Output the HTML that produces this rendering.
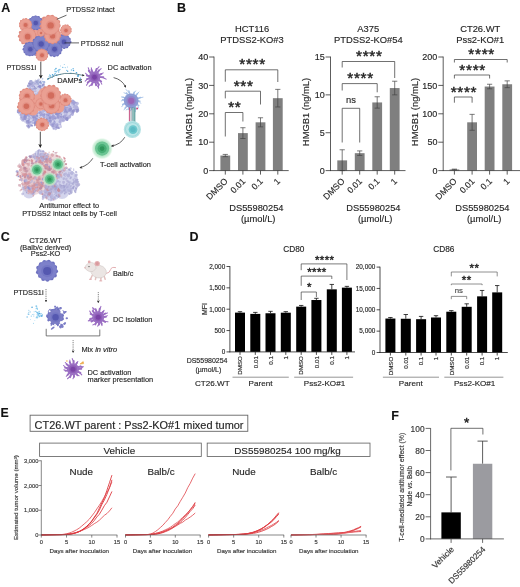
<!DOCTYPE html>
<html lang="en">
<head>
<meta charset="utf-8">
<title>Figure</title>
<style>
html,body{margin:0;padding:0;background:#fff;}
body{width:520px;height:587px;overflow:hidden;}
svg{display:block;font-family:"Liberation Sans",sans-serif;fill:#222;}
svg text{white-space:pre;stroke:#333;stroke-width:.2px;stroke-opacity:.75;}
</style>
</head>
<body>
<svg width="520" height="587" viewBox="0 0 520 587">
<rect width="520" height="587" fill="#fff"/>
<g id="panelB">
<text x="177.00" y="11.80" font-size="12.5" font-weight="bold" fill="#111">B</text>
<text x="252.00" y="32.00" font-size="9.4" text-anchor="middle">HCT116</text>
<text x="252.00" y="43.00" font-size="9.4" text-anchor="middle">PTDSS2-KO#3</text>
<rect x="220.40" y="155.55" width="9.80" height="15.05" fill="#7f7f7f"/>
<path d="M225.30 154.41V156.68M222.70 154.41H227.90M222.70 156.68H227.90" fill="none" stroke="#444" stroke-width="0.7"/>
<rect x="238.00" y="133.11" width="9.80" height="37.49" fill="#7f7f7f"/>
<path d="M242.90 127.72V138.51M240.30 127.72H245.50M240.30 138.51H245.50" fill="none" stroke="#444" stroke-width="0.7"/>
<rect x="255.60" y="122.32" width="9.80" height="48.28" fill="#7f7f7f"/>
<path d="M260.50 117.78V126.86M257.90 117.78H263.10M257.90 126.86H263.10" fill="none" stroke="#444" stroke-width="0.7"/>
<rect x="272.90" y="98.18" width="9.80" height="72.42" fill="#7f7f7f"/>
<path d="M277.80 89.38V106.98M275.20 89.38H280.40M275.20 106.98H280.40" fill="none" stroke="#444" stroke-width="0.7"/>
<line x1="214.00" y1="56.60" x2="214.00" y2="171.00" stroke="#333" stroke-width="0.8"/>
<line x1="213.60" y1="170.60" x2="288.70" y2="170.60" stroke="#333" stroke-width="0.8"/>
<line x1="209.10" y1="170.60" x2="214.00" y2="170.60" stroke="#333" stroke-width="0.8"/>
<text x="208.20" y="173.80" font-size="9.0" text-anchor="end">0</text>
<line x1="209.10" y1="142.20" x2="214.00" y2="142.20" stroke="#333" stroke-width="0.8"/>
<text x="208.20" y="145.40" font-size="9.0" text-anchor="end">10</text>
<line x1="209.10" y1="113.80" x2="214.00" y2="113.80" stroke="#333" stroke-width="0.8"/>
<text x="208.20" y="117.00" font-size="9.0" text-anchor="end">20</text>
<line x1="209.10" y1="85.40" x2="214.00" y2="85.40" stroke="#333" stroke-width="0.8"/>
<text x="208.20" y="88.60" font-size="9.0" text-anchor="end">30</text>
<line x1="209.10" y1="57.00" x2="214.00" y2="57.00" stroke="#333" stroke-width="0.8"/>
<text x="208.20" y="60.20" font-size="9.0" text-anchor="end">40</text>
<line x1="225.30" y1="170.60" x2="225.30" y2="174.60" stroke="#333" stroke-width="0.8"/>
<text x="228.30" y="181.80" font-size="8.7" text-anchor="end" transform="rotate(-45 228.30 181.80)">DMSO</text>
<line x1="242.90" y1="170.60" x2="242.90" y2="174.60" stroke="#333" stroke-width="0.8"/>
<text x="245.90" y="181.80" font-size="8.7" text-anchor="end" transform="rotate(-45 245.90 181.80)">0.01</text>
<line x1="260.50" y1="170.60" x2="260.50" y2="174.60" stroke="#333" stroke-width="0.8"/>
<text x="263.50" y="181.80" font-size="8.7" text-anchor="end" transform="rotate(-45 263.50 181.80)">0.1</text>
<line x1="277.80" y1="170.60" x2="277.80" y2="174.60" stroke="#333" stroke-width="0.8"/>
<text x="280.80" y="181.80" font-size="8.7" text-anchor="end" transform="rotate(-45 280.80 181.80)">1</text>
<text x="191.80" y="112.00" font-size="9.4" text-anchor="middle" transform="rotate(-90 191.80 112.00)">HMGB1 (ng/mL)</text>
<text x="256.40" y="210.50" font-size="9.3" text-anchor="middle">DS55980254</text>
<text x="258.20" y="222.30" font-size="9.4" text-anchor="middle">(µmol/L)</text>
<path d="M225.30 81.70V69.80H277.80V82.00" fill="none" stroke="#333" stroke-width="0.7"/>
<path d="M225.30 98.40V91.20H260.50V104.50" fill="none" stroke="#333" stroke-width="0.7"/>
<path d="M225.30 136.50V112.50H242.90V121.50" fill="none" stroke="#333" stroke-width="0.7"/>
<text x="252.55" y="69.20" font-size="15.3" text-anchor="middle" letter-spacing="0.7" style="stroke:#222;stroke-width:0.45px;stroke-opacity:1">****</text>
<text x="243.65" y="90.80" font-size="15.3" text-anchor="middle" letter-spacing="0.7" style="stroke:#222;stroke-width:0.45px;stroke-opacity:1">***</text>
<text x="234.85" y="112.20" font-size="15.3" text-anchor="middle" letter-spacing="0.7" style="stroke:#222;stroke-width:0.45px;stroke-opacity:1">**</text>
<text x="368.30" y="32.00" font-size="9.4" text-anchor="middle">A375</text>
<text x="368.30" y="43.00" font-size="9.4" text-anchor="middle">PTDSS2-KO#54</text>
<rect x="337.30" y="160.38" width="9.80" height="10.22" fill="#7f7f7f"/>
<path d="M342.20 149.77V170.60M339.60 149.77H344.80M339.60 170.60H344.80" fill="none" stroke="#444" stroke-width="0.7"/>
<rect x="354.80" y="153.18" width="9.80" height="17.42" fill="#7f7f7f"/>
<path d="M359.70 150.91V155.45M357.10 150.91H362.30M357.10 155.45H362.30" fill="none" stroke="#444" stroke-width="0.7"/>
<rect x="372.30" y="102.44" width="9.80" height="68.16" fill="#7f7f7f"/>
<path d="M377.20 96.76V108.12M374.60 96.76H379.80M374.60 108.12H379.80" fill="none" stroke="#444" stroke-width="0.7"/>
<rect x="389.80" y="88.05" width="9.80" height="82.55" fill="#7f7f7f"/>
<path d="M394.70 81.23V94.87M392.10 81.23H397.30M392.10 94.87H397.30" fill="none" stroke="#444" stroke-width="0.7"/>
<line x1="330.50" y1="56.60" x2="330.50" y2="171.00" stroke="#333" stroke-width="0.8"/>
<line x1="330.10" y1="170.60" x2="405.50" y2="170.60" stroke="#333" stroke-width="0.8"/>
<line x1="325.60" y1="170.60" x2="330.50" y2="170.60" stroke="#333" stroke-width="0.8"/>
<text x="324.70" y="173.80" font-size="9.0" text-anchor="end">0</text>
<line x1="325.60" y1="132.73" x2="330.50" y2="132.73" stroke="#333" stroke-width="0.8"/>
<text x="324.70" y="135.93" font-size="9.0" text-anchor="end">5</text>
<line x1="325.60" y1="94.87" x2="330.50" y2="94.87" stroke="#333" stroke-width="0.8"/>
<text x="324.70" y="98.07" font-size="9.0" text-anchor="end">10</text>
<line x1="325.60" y1="57.00" x2="330.50" y2="57.00" stroke="#333" stroke-width="0.8"/>
<text x="324.70" y="60.20" font-size="9.0" text-anchor="end">15</text>
<line x1="342.20" y1="170.60" x2="342.20" y2="174.60" stroke="#333" stroke-width="0.8"/>
<text x="345.20" y="181.80" font-size="8.7" text-anchor="end" transform="rotate(-45 345.20 181.80)">DMSO</text>
<line x1="359.70" y1="170.60" x2="359.70" y2="174.60" stroke="#333" stroke-width="0.8"/>
<text x="362.70" y="181.80" font-size="8.7" text-anchor="end" transform="rotate(-45 362.70 181.80)">0.01</text>
<line x1="377.20" y1="170.60" x2="377.20" y2="174.60" stroke="#333" stroke-width="0.8"/>
<text x="380.20" y="181.80" font-size="8.7" text-anchor="end" transform="rotate(-45 380.20 181.80)">0.1</text>
<line x1="394.70" y1="170.60" x2="394.70" y2="174.60" stroke="#333" stroke-width="0.8"/>
<text x="397.70" y="181.80" font-size="8.7" text-anchor="end" transform="rotate(-45 397.70 181.80)">1</text>
<text x="308.80" y="112.00" font-size="9.4" text-anchor="middle" transform="rotate(-90 308.80 112.00)">HMGB1 (ng/mL)</text>
<text x="373.40" y="210.50" font-size="9.3" text-anchor="middle">DS55980254</text>
<text x="375.20" y="222.30" font-size="9.4" text-anchor="middle">(µmol/L)</text>
<path d="M342.20 67.50V61.50H394.70V78.00" fill="none" stroke="#333" stroke-width="0.7"/>
<path d="M342.20 90.50V83.60H377.20V92.30" fill="none" stroke="#333" stroke-width="0.7"/>
<path d="M342.20 142.50V108.30H359.70V142.50" fill="none" stroke="#333" stroke-width="0.7"/>
<text x="369.35" y="60.50" font-size="15.3" text-anchor="middle" letter-spacing="0.7" style="stroke:#222;stroke-width:0.45px;stroke-opacity:1">****</text>
<text x="360.55" y="83.00" font-size="15.3" text-anchor="middle" letter-spacing="0.7" style="stroke:#222;stroke-width:0.45px;stroke-opacity:1">****</text>
<text x="351.00" y="102.70" font-size="9.4" text-anchor="middle">ns</text>
<text x="480.20" y="32.00" font-size="9.4" text-anchor="middle">CT26.WT</text>
<text x="480.20" y="43.00" font-size="9.4" text-anchor="middle">Pss2-KO#1</text>
<rect x="449.50" y="169.46" width="9.80" height="1.14" fill="#7f7f7f"/>
<path d="M454.40 169.12V169.80M451.80 169.12H457.00M451.80 169.80H457.00" fill="none" stroke="#444" stroke-width="0.7"/>
<rect x="467.20" y="122.32" width="9.80" height="48.28" fill="#7f7f7f"/>
<path d="M472.10 114.37V130.27M469.50 114.37H474.70M469.50 130.27H474.70" fill="none" stroke="#444" stroke-width="0.7"/>
<rect x="484.70" y="86.54" width="9.80" height="84.06" fill="#7f7f7f"/>
<path d="M489.60 84.26V88.81M487.00 84.26H492.20M487.00 88.81H492.20" fill="none" stroke="#444" stroke-width="0.7"/>
<rect x="502.30" y="84.26" width="9.80" height="86.34" fill="#7f7f7f"/>
<path d="M507.20 80.86V87.67M504.60 80.86H509.80M504.60 87.67H509.80" fill="none" stroke="#444" stroke-width="0.7"/>
<line x1="443.20" y1="56.60" x2="443.20" y2="171.00" stroke="#333" stroke-width="0.8"/>
<line x1="442.80" y1="170.60" x2="520.00" y2="170.60" stroke="#333" stroke-width="0.8"/>
<line x1="438.30" y1="170.60" x2="443.20" y2="170.60" stroke="#333" stroke-width="0.8"/>
<text x="437.40" y="173.80" font-size="9.0" text-anchor="end">0</text>
<line x1="438.30" y1="142.20" x2="443.20" y2="142.20" stroke="#333" stroke-width="0.8"/>
<text x="437.40" y="145.40" font-size="9.0" text-anchor="end">50</text>
<line x1="438.30" y1="113.80" x2="443.20" y2="113.80" stroke="#333" stroke-width="0.8"/>
<text x="437.40" y="117.00" font-size="9.0" text-anchor="end">100</text>
<line x1="438.30" y1="85.40" x2="443.20" y2="85.40" stroke="#333" stroke-width="0.8"/>
<text x="437.40" y="88.60" font-size="9.0" text-anchor="end">150</text>
<line x1="438.30" y1="57.00" x2="443.20" y2="57.00" stroke="#333" stroke-width="0.8"/>
<text x="437.40" y="60.20" font-size="9.0" text-anchor="end">200</text>
<line x1="454.40" y1="170.60" x2="454.40" y2="174.60" stroke="#333" stroke-width="0.8"/>
<text x="457.40" y="181.80" font-size="8.7" text-anchor="end" transform="rotate(-45 457.40 181.80)">DMSO</text>
<line x1="472.10" y1="170.60" x2="472.10" y2="174.60" stroke="#333" stroke-width="0.8"/>
<text x="475.10" y="181.80" font-size="8.7" text-anchor="end" transform="rotate(-45 475.10 181.80)">0.01</text>
<line x1="489.60" y1="170.60" x2="489.60" y2="174.60" stroke="#333" stroke-width="0.8"/>
<text x="492.60" y="181.80" font-size="8.7" text-anchor="end" transform="rotate(-45 492.60 181.80)">0.1</text>
<line x1="507.20" y1="170.60" x2="507.20" y2="174.60" stroke="#333" stroke-width="0.8"/>
<text x="510.20" y="181.80" font-size="8.7" text-anchor="end" transform="rotate(-45 510.20 181.80)">1</text>
<text x="417.90" y="112.00" font-size="9.4" text-anchor="middle" transform="rotate(-90 417.90 112.00)">HMGB1 (ng/mL)</text>
<text x="482.40" y="210.50" font-size="9.3" text-anchor="middle">DS55980254</text>
<text x="484.20" y="222.30" font-size="9.4" text-anchor="middle">(µmol/L)</text>
<path d="M454.40 62.50V59.50H507.20V62.50" fill="none" stroke="#333" stroke-width="0.7"/>
<path d="M454.40 78.50V75.00H489.60V78.50" fill="none" stroke="#333" stroke-width="0.7"/>
<path d="M454.40 102.70V97.00H472.10V102.70" fill="none" stroke="#333" stroke-width="0.7"/>
<text x="481.65" y="59.10" font-size="15.3" text-anchor="middle" letter-spacing="0.7" style="stroke:#222;stroke-width:0.45px;stroke-opacity:1">****</text>
<text x="472.65" y="75.40" font-size="15.3" text-anchor="middle" letter-spacing="0.7" style="stroke:#222;stroke-width:0.45px;stroke-opacity:1">****</text>
<text x="463.95" y="96.80" font-size="15.3" text-anchor="middle" letter-spacing="0.7" style="stroke:#222;stroke-width:0.45px;stroke-opacity:1">****</text>
</g>
<g id="panelD">
<text x="189.50" y="240.70" font-size="12.5" font-weight="bold" fill="#111">D</text>
<text x="293.80" y="252.20" font-size="8.3" text-anchor="middle">CD80</text>
<path d="M240.00 312.62V311.68M237.80 311.68H242.20" fill="none" stroke="#111" stroke-width="0.8"/>
<rect x="235.00" y="312.62" width="10.00" height="39.28" fill="#000"/>
<path d="M255.30 313.90V312.40M253.10 312.40H257.50" fill="none" stroke="#111" stroke-width="0.8"/>
<rect x="250.30" y="313.90" width="10.00" height="38.00" fill="#000"/>
<path d="M270.50 313.26V311.33M268.30 311.33H272.70" fill="none" stroke="#111" stroke-width="0.8"/>
<rect x="265.50" y="313.26" width="10.00" height="38.64" fill="#000"/>
<path d="M285.80 312.70V311.63M283.60 311.63H288.00" fill="none" stroke="#111" stroke-width="0.8"/>
<rect x="280.80" y="312.70" width="10.00" height="39.20" fill="#000"/>
<path d="M301.20 306.64V305.44M299.00 305.44H303.40" fill="none" stroke="#111" stroke-width="0.8"/>
<rect x="296.20" y="306.64" width="10.00" height="45.26" fill="#000"/>
<path d="M316.40 300.02V298.31M314.20 298.31H318.60" fill="none" stroke="#111" stroke-width="0.8"/>
<rect x="311.40" y="300.02" width="10.00" height="51.88" fill="#000"/>
<path d="M331.80 289.34V284.43M329.60 284.43H334.00" fill="none" stroke="#111" stroke-width="0.8"/>
<rect x="326.80" y="289.34" width="10.00" height="62.56" fill="#000"/>
<path d="M346.90 287.64V286.36M344.70 286.36H349.10" fill="none" stroke="#111" stroke-width="0.8"/>
<rect x="341.90" y="287.64" width="10.00" height="64.26" fill="#000"/>
<line x1="229.90" y1="266.10" x2="229.90" y2="352.30" stroke="#222" stroke-width="0.8"/>
<line x1="229.50" y1="351.90" x2="355.00" y2="351.90" stroke="#222" stroke-width="0.8"/>
<line x1="226.50" y1="351.90" x2="229.90" y2="351.90" stroke="#222" stroke-width="0.8"/>
<text x="225.20" y="354.20" font-size="6.4" text-anchor="end">0</text>
<line x1="226.50" y1="330.55" x2="229.90" y2="330.55" stroke="#222" stroke-width="0.8"/>
<text x="225.20" y="332.85" font-size="6.4" text-anchor="end">500</text>
<line x1="226.50" y1="309.20" x2="229.90" y2="309.20" stroke="#222" stroke-width="0.8"/>
<text x="225.20" y="311.50" font-size="6.4" text-anchor="end">1,000</text>
<line x1="226.50" y1="287.85" x2="229.90" y2="287.85" stroke="#222" stroke-width="0.8"/>
<text x="225.20" y="290.15" font-size="6.4" text-anchor="end">1,500</text>
<line x1="226.50" y1="266.50" x2="229.90" y2="266.50" stroke="#222" stroke-width="0.8"/>
<text x="225.20" y="268.80" font-size="6.4" text-anchor="end">2,000</text>
<line x1="240.00" y1="351.90" x2="240.00" y2="354.90" stroke="#222" stroke-width="0.8"/>
<text x="242.30" y="356.10" font-size="6.2" text-anchor="end" transform="rotate(-90 242.30 356.10)">DMSO</text>
<line x1="255.30" y1="351.90" x2="255.30" y2="354.90" stroke="#222" stroke-width="0.8"/>
<text x="257.60" y="356.10" font-size="6.2" text-anchor="end" transform="rotate(-90 257.60 356.10)">0.01</text>
<line x1="270.50" y1="351.90" x2="270.50" y2="354.90" stroke="#222" stroke-width="0.8"/>
<text x="272.80" y="356.10" font-size="6.2" text-anchor="end" transform="rotate(-90 272.80 356.10)">0.1</text>
<line x1="285.80" y1="351.90" x2="285.80" y2="354.90" stroke="#222" stroke-width="0.8"/>
<text x="288.10" y="356.10" font-size="6.2" text-anchor="end" transform="rotate(-90 288.10 356.10)">1</text>
<line x1="301.20" y1="351.90" x2="301.20" y2="354.90" stroke="#222" stroke-width="0.8"/>
<text x="303.50" y="356.10" font-size="6.2" text-anchor="end" transform="rotate(-90 303.50 356.10)">DMSO</text>
<line x1="316.40" y1="351.90" x2="316.40" y2="354.90" stroke="#222" stroke-width="0.8"/>
<text x="318.70" y="356.10" font-size="6.2" text-anchor="end" transform="rotate(-90 318.70 356.10)">0.01</text>
<line x1="331.80" y1="351.90" x2="331.80" y2="354.90" stroke="#222" stroke-width="0.8"/>
<text x="334.10" y="356.10" font-size="6.2" text-anchor="end" transform="rotate(-90 334.10 356.10)">0.1</text>
<line x1="346.90" y1="351.90" x2="346.90" y2="354.90" stroke="#222" stroke-width="0.8"/>
<text x="349.20" y="356.10" font-size="6.2" text-anchor="end" transform="rotate(-90 349.20 356.10)">1</text>
<line x1="232.50" y1="377.20" x2="288.80" y2="377.20" stroke="#8a8a8a" stroke-width="0.9"/>
<line x1="294.20" y1="377.20" x2="353.10" y2="377.20" stroke="#8a8a8a" stroke-width="0.9"/>
<text x="260.50" y="385.60" font-size="8.1" text-anchor="middle">Parent</text>
<text x="324.45" y="385.60" font-size="8.1" text-anchor="middle">Pss2-KO#1</text>
<text x="206.50" y="309.00" font-size="7.0" text-anchor="middle" transform="rotate(-90 206.50 309.00)">MFI</text>
<text x="227.50" y="363.20" font-size="7.0" text-anchor="end">DS55980254</text>
<text x="221.30" y="372.00" font-size="7.0" text-anchor="end">(µmol/L)</text>
<text x="195.00" y="385.60" font-size="8.1">CT26.WT</text>
<path d="M301.20 270.20V263.90H346.90V280.00" fill="none" stroke="#333" stroke-width="0.65"/>
<path d="M301.20 285.80V276.10H331.80V279.00" fill="none" stroke="#333" stroke-width="0.65"/>
<path d="M301.20 300.00V292.00H316.40V297.00" fill="none" stroke="#333" stroke-width="0.65"/>
<text x="324.70" y="263.63" font-size="11.5" text-anchor="middle" letter-spacing="0.4" style="stroke:#222;stroke-width:0.36px;stroke-opacity:1">****</text>
<text x="316.90" y="276.03" font-size="11.5" text-anchor="middle" letter-spacing="0.4" style="stroke:#222;stroke-width:0.36px;stroke-opacity:1">****</text>
<text x="309.40" y="291.33" font-size="11.5" text-anchor="middle" letter-spacing="0.4" style="stroke:#222;stroke-width:0.36px;stroke-opacity:1">*</text>
<text x="443.80" y="252.20" font-size="8.3" text-anchor="middle">CD86</text>
<path d="M390.40 318.55V317.49M388.20 317.49H392.60" fill="none" stroke="#111" stroke-width="0.8"/>
<rect x="385.40" y="318.55" width="10.00" height="33.95" fill="#000"/>
<path d="M405.80 318.77V314.50M403.60 314.50H408.00" fill="none" stroke="#111" stroke-width="0.8"/>
<rect x="400.80" y="318.77" width="10.00" height="33.73" fill="#000"/>
<path d="M421.10 319.19V316.42M418.90 316.42H423.30" fill="none" stroke="#111" stroke-width="0.8"/>
<rect x="416.10" y="319.19" width="10.00" height="33.31" fill="#000"/>
<path d="M436.00 317.49V315.69M433.80 315.69H438.20" fill="none" stroke="#111" stroke-width="0.8"/>
<rect x="431.00" y="317.49" width="10.00" height="35.01" fill="#000"/>
<path d="M451.30 311.72V310.61M449.10 310.61H453.50" fill="none" stroke="#111" stroke-width="0.8"/>
<rect x="446.30" y="311.72" width="10.00" height="40.78" fill="#000"/>
<path d="M466.70 306.81V303.82M464.50 303.82H468.90" fill="none" stroke="#111" stroke-width="0.8"/>
<rect x="461.70" y="306.81" width="10.00" height="45.69" fill="#000"/>
<path d="M482.10 296.35V290.46M479.90 290.46H484.30" fill="none" stroke="#111" stroke-width="0.8"/>
<rect x="477.10" y="296.35" width="10.00" height="56.15" fill="#000"/>
<path d="M497.20 292.38V285.55M495.00 285.55H499.40" fill="none" stroke="#111" stroke-width="0.8"/>
<rect x="492.20" y="292.38" width="10.00" height="60.12" fill="#000"/>
<line x1="380.00" y1="266.70" x2="380.00" y2="352.90" stroke="#222" stroke-width="0.8"/>
<line x1="379.60" y1="352.50" x2="507.80" y2="352.50" stroke="#222" stroke-width="0.8"/>
<line x1="376.60" y1="352.50" x2="380.00" y2="352.50" stroke="#222" stroke-width="0.8"/>
<text x="375.30" y="354.80" font-size="6.4" text-anchor="end">0</text>
<line x1="376.60" y1="331.15" x2="380.00" y2="331.15" stroke="#222" stroke-width="0.8"/>
<text x="375.30" y="333.45" font-size="6.4" text-anchor="end">5,000</text>
<line x1="376.60" y1="309.80" x2="380.00" y2="309.80" stroke="#222" stroke-width="0.8"/>
<text x="375.30" y="312.10" font-size="6.4" text-anchor="end">10,000</text>
<line x1="376.60" y1="288.45" x2="380.00" y2="288.45" stroke="#222" stroke-width="0.8"/>
<text x="375.30" y="290.75" font-size="6.4" text-anchor="end">15,000</text>
<line x1="376.60" y1="267.10" x2="380.00" y2="267.10" stroke="#222" stroke-width="0.8"/>
<text x="375.30" y="269.40" font-size="6.4" text-anchor="end">20,000</text>
<line x1="390.40" y1="352.50" x2="390.40" y2="355.50" stroke="#222" stroke-width="0.8"/>
<text x="392.70" y="356.70" font-size="6.2" text-anchor="end" transform="rotate(-90 392.70 356.70)">DMSO</text>
<line x1="405.80" y1="352.50" x2="405.80" y2="355.50" stroke="#222" stroke-width="0.8"/>
<text x="408.10" y="356.70" font-size="6.2" text-anchor="end" transform="rotate(-90 408.10 356.70)">0.01</text>
<line x1="421.10" y1="352.50" x2="421.10" y2="355.50" stroke="#222" stroke-width="0.8"/>
<text x="423.40" y="356.70" font-size="6.2" text-anchor="end" transform="rotate(-90 423.40 356.70)">0.1</text>
<line x1="436.00" y1="352.50" x2="436.00" y2="355.50" stroke="#222" stroke-width="0.8"/>
<text x="438.30" y="356.70" font-size="6.2" text-anchor="end" transform="rotate(-90 438.30 356.70)">1</text>
<line x1="451.30" y1="352.50" x2="451.30" y2="355.50" stroke="#222" stroke-width="0.8"/>
<text x="453.60" y="356.70" font-size="6.2" text-anchor="end" transform="rotate(-90 453.60 356.70)">DMSO</text>
<line x1="466.70" y1="352.50" x2="466.70" y2="355.50" stroke="#222" stroke-width="0.8"/>
<text x="469.00" y="356.70" font-size="6.2" text-anchor="end" transform="rotate(-90 469.00 356.70)">0.01</text>
<line x1="482.10" y1="352.50" x2="482.10" y2="355.50" stroke="#222" stroke-width="0.8"/>
<text x="484.40" y="356.70" font-size="6.2" text-anchor="end" transform="rotate(-90 484.40 356.70)">0.1</text>
<line x1="497.20" y1="352.50" x2="497.20" y2="355.50" stroke="#222" stroke-width="0.8"/>
<text x="499.50" y="356.70" font-size="6.2" text-anchor="end" transform="rotate(-90 499.50 356.70)">1</text>
<line x1="382.90" y1="377.20" x2="439.00" y2="377.20" stroke="#8a8a8a" stroke-width="0.9"/>
<line x1="444.30" y1="377.20" x2="503.40" y2="377.20" stroke="#8a8a8a" stroke-width="0.9"/>
<text x="410.80" y="385.60" font-size="8.1" text-anchor="middle">Parent</text>
<text x="474.65" y="385.60" font-size="8.1" text-anchor="middle">Pss2-KO#1</text>
<path d="M451.30 276.40V272.00H497.20V276.40" fill="none" stroke="#555" stroke-width="0.65"/>
<path d="M451.30 285.20V284.00H482.10V285.20" fill="none" stroke="#555" stroke-width="0.65"/>
<path d="M451.30 299.20V296.40H466.70V299.20" fill="none" stroke="#555" stroke-width="0.65"/>
<text x="474.50" y="272.13" font-size="11.5" text-anchor="middle" letter-spacing="0.4" style="stroke:#222;stroke-width:0.36px;stroke-opacity:1">**</text>
<text x="466.70" y="283.63" font-size="11.5" text-anchor="middle" letter-spacing="0.4" style="stroke:#222;stroke-width:0.36px;stroke-opacity:1">**</text>
<text x="458.80" y="293.10" font-size="7.8" text-anchor="middle" fill="#555">ns</text>
</g>
<g id="panelE">
<text x="0.60" y="417.00" font-size="12.3" font-weight="bold" fill="#111">E</text>
<rect x="30.10" y="415.20" width="217.70" height="16.10" fill="#fff" stroke="#666" stroke-width="0.9"/>
<text x="34.60" y="428.60" font-size="10.95">CT26.WT parent : Pss2-KO#1 mixed tumor</text>
<rect x="39.60" y="443.10" width="161.70" height="13.40" fill="#fff" stroke="#666" stroke-width="0.85"/>
<text x="119.30" y="454.20" font-size="9.9" text-anchor="middle">Vehicle</text>
<rect x="207.20" y="443.10" width="162.80" height="13.40" fill="#fff" stroke="#666" stroke-width="0.85"/>
<text x="287.50" y="454.20" font-size="9.9" text-anchor="middle">DS55980254 100 mg/kg</text>
<path d="M41.30 534.90L43.82 534.87L46.35 534.83L48.87 534.79L51.39 534.75L53.92 534.71L56.44 534.68L58.96 534.64L61.49 534.60L64.01 534.56L66.53 534.45L69.06 534.25L71.58 533.89L74.10 533.37L76.63 532.63L79.15 531.59L81.67 530.14L84.20 528.56L86.72 526.31L89.24 523.76L91.77 521.05L94.29 517.07L96.81 513.61L99.34 508.15L101.86 502.81L104.38 497.73L106.91 490.25L109.43 482.78L111.95 475.11" fill="none" stroke="#d9262c" stroke-width="0.8" stroke-linejoin="round"/>
<path d="M41.30 534.90L43.82 534.87L46.35 534.83L48.87 534.79L51.39 534.75L53.92 534.71L56.44 534.67L58.96 534.65L61.49 534.61L64.01 534.56L66.53 534.45L69.06 534.23L71.58 533.88L74.10 533.32L76.63 532.51L79.15 531.48L81.67 530.21L84.20 528.47L86.72 526.37L89.24 524.28L91.77 521.06L94.29 517.81L96.81 514.31L99.34 510.24L101.86 504.52L104.38 499.91L106.91 494.36L109.43 487.85L111.95 479.81" fill="none" stroke="#d9262c" stroke-width="0.8" stroke-linejoin="round"/>
<path d="M41.30 534.90L43.82 534.86L46.35 534.83L48.87 534.79L51.39 534.75L53.92 534.71L56.44 534.68L58.96 534.64L61.49 534.55L64.01 534.27L66.53 533.82L69.06 533.11L71.58 532.23L74.10 531.07L76.63 529.75L79.15 528.20L81.67 526.11L84.20 523.95L86.72 521.74L89.24 519.25L91.77 516.02L94.29 512.78L96.81 508.96L99.34 505.30L101.86 501.29L104.38 496.76L106.91 492.36L109.43 487.99L111.95 481.79" fill="none" stroke="#e0444a" stroke-width="0.8" stroke-linejoin="round"/>
<path d="M41.30 534.90L43.82 534.86L46.35 534.82L48.87 534.79L51.39 534.76L53.92 534.72L56.44 534.68L58.96 534.65L61.49 534.61L64.01 534.55L66.53 534.41L69.06 534.18L71.58 533.82L74.10 533.27L76.63 532.51L79.15 531.60L81.67 530.47L84.20 528.87L86.72 527.20L89.24 525.38L91.77 523.13L94.29 520.52L96.81 516.98L99.34 514.30L101.86 510.14L104.38 505.63L106.91 502.30L109.43 496.95L111.95 491.44" fill="none" stroke="#d9262c" stroke-width="0.8" stroke-linejoin="round"/>
<path d="M41.30 534.90L43.82 534.86L46.35 534.83L48.87 534.79L51.39 534.76L53.92 534.72L56.44 534.68L58.96 534.65L61.49 534.58L64.01 534.44L66.53 534.25L69.06 533.91L71.58 533.52L74.10 532.93L76.63 532.27L79.15 531.55L81.67 530.53L84.20 529.49L86.72 528.45L89.24 527.02L91.77 525.43L94.29 523.67L96.81 522.22L99.34 520.24L101.86 517.78L104.38 515.32L106.91 513.57L109.43 510.98L111.95 507.77" fill="none" stroke="#e0444a" stroke-width="0.8" stroke-linejoin="round"/>
<line x1="41.00" y1="535.00" x2="117.30" y2="535.00" stroke="#555" stroke-width="0.7"/>
<line x1="41.30" y1="535.00" x2="41.30" y2="537.60" stroke="#555" stroke-width="0.7"/>
<text x="41.30" y="543.80" font-size="5.7" text-anchor="middle" fill="#333">0</text>
<line x1="66.53" y1="535.00" x2="66.53" y2="537.60" stroke="#555" stroke-width="0.7"/>
<text x="66.53" y="543.80" font-size="5.7" text-anchor="middle" fill="#333">5</text>
<line x1="91.77" y1="535.00" x2="91.77" y2="537.60" stroke="#555" stroke-width="0.7"/>
<text x="91.77" y="543.80" font-size="5.7" text-anchor="middle" fill="#333">10</text>
<line x1="117.00" y1="535.00" x2="117.00" y2="537.60" stroke="#555" stroke-width="0.7"/>
<text x="117.00" y="543.80" font-size="5.7" text-anchor="middle" fill="#333">15</text>
<text x="81.30" y="474.60" font-size="9.8" text-anchor="middle">Nude</text>
<text x="79.30" y="553.30" font-size="6.2" text-anchor="middle" fill="#333">Days after inoculation</text>
<line x1="41.30" y1="460.40" x2="41.30" y2="535.00" stroke="#555" stroke-width="0.7"/>
<line x1="38.50" y1="535.00" x2="41.30" y2="535.00" stroke="#555" stroke-width="0.7"/>
<text x="38.30" y="537.00" font-size="5.7" text-anchor="end" fill="#333">0</text>
<line x1="38.50" y1="510.25" x2="41.30" y2="510.25" stroke="#555" stroke-width="0.7"/>
<text x="38.30" y="512.25" font-size="5.7" text-anchor="end" fill="#333">1,000</text>
<line x1="38.50" y1="485.50" x2="41.30" y2="485.50" stroke="#555" stroke-width="0.7"/>
<text x="38.30" y="487.50" font-size="5.7" text-anchor="end" fill="#333">2,000</text>
<line x1="38.50" y1="460.75" x2="41.30" y2="460.75" stroke="#555" stroke-width="0.7"/>
<text x="38.30" y="462.75" font-size="5.7" text-anchor="end" fill="#333">3,000</text>
<path d="M125.50 534.90L127.99 534.87L130.48 534.82L132.97 534.79L135.46 534.75L137.95 534.72L140.44 534.68L142.93 534.64L145.42 534.61L147.91 534.56L150.40 534.16L152.89 533.08L155.38 531.55L157.87 529.72L160.36 527.53L162.85 525.25L165.34 522.47L167.83 519.72L170.32 516.36L172.81 513.27L175.30 508.91L177.79 505.79L180.28 501.38L182.77 497.26L185.26 493.05L187.75 487.63L190.24 483.33L192.73 478.10L195.22 473.62" fill="none" stroke="#e0444a" stroke-width="0.8" stroke-linejoin="round"/>
<path d="M125.50 534.90L127.99 534.86L130.48 534.83L132.97 534.79L135.46 534.75L137.95 534.72L140.44 534.68L142.93 534.65L145.42 534.60L147.91 534.57L150.40 534.49L152.89 534.31L155.38 534.01L157.87 533.53L160.36 532.93L162.85 532.13L165.34 531.09L167.83 529.96L170.32 528.57L172.81 527.15L175.30 525.14L177.79 523.26L180.28 521.09L182.77 518.34L185.26 515.78L187.75 512.96L190.24 509.60L192.73 506.34L195.22 502.33" fill="none" stroke="#d9262c" stroke-width="0.8" stroke-linejoin="round"/>
<path d="M125.50 534.90L127.99 534.86L130.48 534.83L132.97 534.79L135.46 534.76L137.95 534.71L140.44 534.68L142.93 534.64L145.42 534.60L147.91 534.50L150.40 534.29L152.89 533.91L155.38 533.44L157.87 532.73L160.36 531.94L162.85 531.06L165.34 529.80L167.83 528.71L170.32 527.29L172.81 525.53L175.30 523.58L177.79 522.11L180.28 519.49L182.77 517.33L185.26 514.88L187.75 512.55L190.24 509.78L192.73 506.94L195.22 503.57" fill="none" stroke="#e0444a" stroke-width="0.8" stroke-linejoin="round"/>
<path d="M125.50 534.90L127.99 534.87L130.48 534.83L132.97 534.79L135.46 534.76L137.95 534.72L140.44 534.68L142.93 534.64L145.42 534.60L147.91 534.56L150.40 534.53L152.89 534.45L155.38 534.24L157.87 533.87L160.36 533.33L162.85 532.58L165.34 531.70L167.83 530.66L170.32 529.45L172.81 527.93L175.30 526.07L177.79 524.18L180.28 522.32L182.77 520.01L185.26 517.47L187.75 514.45L190.24 511.29L192.73 508.71L195.22 504.93" fill="none" stroke="#d9262c" stroke-width="0.8" stroke-linejoin="round"/>
<path d="M125.50 534.90L127.99 534.86L130.48 534.83L132.97 534.79L135.46 534.75L137.95 534.71L140.44 534.68L142.93 534.64L145.42 534.60L147.91 534.50L150.40 534.27L152.89 533.94L155.38 533.46L157.87 532.91L160.36 532.23L162.85 531.55L165.34 530.60L167.83 529.63L170.32 528.73L172.81 527.61L175.30 526.39L177.79 525.00L180.28 523.37L182.77 522.17L185.26 520.08L187.75 518.68L190.24 517.02L192.73 515.21L195.22 512.97" fill="none" stroke="#e0444a" stroke-width="0.8" stroke-linejoin="round"/>
<line x1="125.20" y1="535.00" x2="200.50" y2="535.00" stroke="#555" stroke-width="0.7"/>
<line x1="125.50" y1="535.00" x2="125.50" y2="537.60" stroke="#555" stroke-width="0.7"/>
<text x="125.50" y="543.80" font-size="5.7" text-anchor="middle" fill="#333">0</text>
<line x1="150.40" y1="535.00" x2="150.40" y2="537.60" stroke="#555" stroke-width="0.7"/>
<text x="150.40" y="543.80" font-size="5.7" text-anchor="middle" fill="#333">5</text>
<line x1="175.30" y1="535.00" x2="175.30" y2="537.60" stroke="#555" stroke-width="0.7"/>
<text x="175.30" y="543.80" font-size="5.7" text-anchor="middle" fill="#333">10</text>
<line x1="200.20" y1="535.00" x2="200.20" y2="537.60" stroke="#555" stroke-width="0.7"/>
<text x="200.20" y="543.80" font-size="5.7" text-anchor="middle" fill="#333">15</text>
<text x="161.00" y="474.60" font-size="9.8" text-anchor="middle">Balb/c</text>
<text x="162.50" y="553.30" font-size="6.2" text-anchor="middle" fill="#333">Days after inoculation</text>
<path d="M208.60 534.90L211.11 534.86L213.61 534.83L216.12 534.79L218.63 534.75L221.13 534.71L223.64 534.67L226.15 534.64L228.65 534.60L231.16 534.56L233.67 534.53L236.17 534.49L238.68 534.42L241.19 534.26L243.69 534.07L246.20 533.74L248.71 533.32L251.21 532.79L253.72 532.05L256.23 531.16L258.73 530.04L261.24 528.84L263.75 527.24L266.25 525.48L268.76 523.61L271.27 521.03L273.77 518.66L276.28 515.53L278.79 512.60" fill="none" stroke="#d9262c" stroke-width="0.8" stroke-linejoin="round"/>
<path d="M208.60 534.90L211.11 534.87L213.61 534.82L216.12 534.79L218.63 534.75L221.13 534.72L223.64 534.68L226.15 534.64L228.65 534.60L231.16 534.57L233.67 534.54L236.17 534.50L238.68 534.44L241.19 534.33L243.69 534.14L246.20 533.83L248.71 533.38L251.21 532.80L253.72 532.08L256.23 531.17L258.73 530.19L261.24 529.00L263.75 527.40L266.25 525.78L268.76 523.92L271.27 522.12L273.77 519.81L276.28 516.82L278.79 514.21" fill="none" stroke="#d9262c" stroke-width="0.8" stroke-linejoin="round"/>
<path d="M208.60 534.90L211.11 534.86L213.61 534.83L216.12 534.79L218.63 534.76L221.13 534.72L223.64 534.68L226.15 534.65L228.65 534.61L231.16 534.57L233.67 534.53L236.17 534.48L238.68 534.41L241.19 534.28L243.69 534.08L246.20 533.80L248.71 533.47L251.21 532.98L253.72 532.45L256.23 531.75L258.73 531.10L261.24 530.10L263.75 529.24L266.25 528.00L268.76 526.72L271.27 525.52L273.77 523.99L276.28 522.48L278.79 520.40" fill="none" stroke="#e0444a" stroke-width="0.8" stroke-linejoin="round"/>
<path d="M208.60 534.90L211.11 534.86L213.61 534.83L216.12 534.79L218.63 534.75L221.13 534.71L223.64 534.67L226.15 534.64L228.65 534.60L231.16 534.56L233.67 534.54L236.17 534.49L238.68 534.45L241.19 534.38L243.69 534.29L246.20 534.15L248.71 533.94L251.21 533.63L253.72 533.28L256.23 532.80L258.73 532.13L261.24 531.37L263.75 530.40L266.25 529.37L268.76 528.16L271.27 526.60L273.77 525.23L276.28 523.35L278.79 521.14" fill="none" stroke="#d9262c" stroke-width="0.8" stroke-linejoin="round"/>
<path d="M208.60 534.90L211.11 534.86L213.61 534.83L216.12 534.79L218.63 534.75L221.13 534.72L223.64 534.68L226.15 534.64L228.65 534.60L231.16 534.57L233.67 534.53L236.17 534.50L238.68 534.46L241.19 534.42L243.69 534.34L246.20 534.09L248.71 533.73L251.21 533.15L253.72 532.44L256.23 531.49L258.73 530.33L261.24 528.94L263.75 527.44L266.25 525.57L268.76 523.53L271.27 521.52L273.77 518.83L276.28 516.47L278.79 513.22" fill="none" stroke="#e0444a" stroke-width="0.8" stroke-linejoin="round"/>
<line x1="208.30" y1="535.00" x2="284.10" y2="535.00" stroke="#555" stroke-width="0.7"/>
<line x1="208.60" y1="535.00" x2="208.60" y2="537.60" stroke="#555" stroke-width="0.7"/>
<text x="208.60" y="543.80" font-size="5.7" text-anchor="middle" fill="#333">0</text>
<line x1="233.67" y1="535.00" x2="233.67" y2="537.60" stroke="#555" stroke-width="0.7"/>
<text x="233.67" y="543.80" font-size="5.7" text-anchor="middle" fill="#333">5</text>
<line x1="258.73" y1="535.00" x2="258.73" y2="537.60" stroke="#555" stroke-width="0.7"/>
<text x="258.73" y="543.80" font-size="5.7" text-anchor="middle" fill="#333">10</text>
<line x1="283.80" y1="535.00" x2="283.80" y2="537.60" stroke="#555" stroke-width="0.7"/>
<text x="283.80" y="543.80" font-size="5.7" text-anchor="middle" fill="#333">15</text>
<text x="244.00" y="474.60" font-size="9.8" text-anchor="middle">Nude</text>
<text x="246.70" y="553.30" font-size="6.2" text-anchor="middle" fill="#333">Days after inoculation</text>
<path d="M291.00 534.90L293.50 534.86L296.01 534.82L298.51 534.79L301.01 534.75L303.52 534.71L306.02 534.68L308.52 534.64L311.03 534.61L313.53 534.56L316.03 534.53L318.54 534.48L321.04 534.45L323.54 534.41L326.05 534.39L328.55 534.33L331.05 534.25L333.56 534.07L336.06 533.84L338.56 533.53L341.07 533.19L343.57 532.68L346.07 532.14L348.58 531.38L351.08 530.73L353.58 529.82L356.09 528.62L358.59 527.67L361.09 526.34" fill="none" stroke="#d9262c" stroke-width="0.8" stroke-linejoin="round"/>
<path d="M291.00 534.90L293.50 534.86L296.01 534.83L298.51 534.79L301.01 534.76L303.52 534.71L306.02 534.68L308.52 534.64L311.03 534.60L313.53 534.56L316.03 534.53L318.54 534.49L321.04 534.46L323.54 534.42L326.05 534.38L328.55 534.34L331.05 534.31L333.56 534.21L336.06 534.08L338.56 533.89L341.07 533.55L343.57 533.17L346.07 532.70L348.58 532.08L351.08 531.25L353.58 530.50L356.09 529.37L358.59 528.26L361.09 526.83" fill="none" stroke="#d9262c" stroke-width="0.8" stroke-linejoin="round"/>
<path d="M291.00 534.90L293.50 534.87L296.01 534.83L298.51 534.79L301.01 534.75L303.52 534.71L306.02 534.67L308.52 534.64L311.03 534.61L313.53 534.56L316.03 534.54L318.54 534.40L321.04 534.24L323.54 534.07L326.05 533.90L328.55 533.73L331.05 533.50L333.56 533.34L336.06 533.13L338.56 532.93L341.07 532.72L343.57 532.46L346.07 532.25L348.58 532.00L351.08 531.88L353.58 531.60L356.09 531.35L358.59 531.10L361.09 530.92" fill="none" stroke="#e0444a" stroke-width="0.8" stroke-linejoin="round"/>
<path d="M291.00 534.90L293.50 534.86L296.01 534.83L298.51 534.79L301.01 534.75L303.52 534.71L306.02 534.67L308.52 534.64L311.03 534.60L313.53 534.45L316.03 534.29L318.54 534.13L321.04 534.00L323.54 533.84L326.05 533.68L328.55 533.51L331.05 533.39L333.56 533.23L336.06 533.07L338.56 532.94L341.07 532.79L343.57 532.60L346.07 532.49L348.58 532.32L351.08 532.19L353.58 532.01L356.09 531.87L358.59 531.67L361.09 531.53" fill="none" stroke="#e0444a" stroke-width="0.8" stroke-linejoin="round"/>
<path d="M291.00 534.90L293.50 534.87L296.01 534.83L298.51 534.79L301.01 534.75L303.52 534.71L306.02 534.68L308.52 534.63L311.03 534.61L313.53 534.56L316.03 534.54L318.54 534.49L321.04 534.45L323.54 534.42L326.05 534.38L328.55 534.34L331.05 534.31L333.56 534.23L336.06 534.10L338.56 533.91L341.07 533.69L343.57 533.37L346.07 533.07L348.58 532.67L351.08 532.32L353.58 531.80L356.09 531.31L358.59 530.80L361.09 530.30" fill="none" stroke="#e86a6e" stroke-width="0.8" stroke-linejoin="round"/>
<line x1="290.70" y1="535.00" x2="366.40" y2="535.00" stroke="#555" stroke-width="0.7"/>
<line x1="291.00" y1="535.00" x2="291.00" y2="537.60" stroke="#555" stroke-width="0.7"/>
<text x="291.00" y="543.80" font-size="5.7" text-anchor="middle" fill="#333">0</text>
<line x1="316.03" y1="535.00" x2="316.03" y2="537.60" stroke="#555" stroke-width="0.7"/>
<text x="316.03" y="543.80" font-size="5.7" text-anchor="middle" fill="#333">5</text>
<line x1="341.07" y1="535.00" x2="341.07" y2="537.60" stroke="#555" stroke-width="0.7"/>
<text x="341.07" y="543.80" font-size="5.7" text-anchor="middle" fill="#333">10</text>
<line x1="366.10" y1="535.00" x2="366.10" y2="537.60" stroke="#555" stroke-width="0.7"/>
<text x="366.10" y="543.80" font-size="5.7" text-anchor="middle" fill="#333">15</text>
<text x="323.60" y="474.60" font-size="9.8" text-anchor="middle">Balb/c</text>
<text x="328.80" y="553.30" font-size="6.2" text-anchor="middle" fill="#333">Days after inoculation</text>
<text x="17.90" y="497.60" font-size="6.2" text-anchor="middle" transform="rotate(-90 17.90 497.60)" fill="#333">Estimated tumor volume (mm³)</text>
</g>
<g id="panelF">
<text x="391.20" y="420.20" font-size="12.5" font-weight="bold" fill="#111">F</text>
<path d="M451.1 512.38V477.02M446 477.02H456.7" fill="none" stroke="#333" stroke-width="0.8"/>
<rect x="441.40" y="512.38" width="19.40" height="26.52" fill="#000"/>
<path d="M482.6 463.76V441.11M477.5 441.11H487.7" fill="none" stroke="#333" stroke-width="0.8"/>
<rect x="472.90" y="463.76" width="19.40" height="75.14" fill="#9b9ba0"/>
<line x1="430.60" y1="428.10" x2="430.60" y2="539.30" stroke="#444" stroke-width="0.8"/>
<line x1="430.20" y1="538.90" x2="503.90" y2="538.90" stroke="#444" stroke-width="0.8"/>
<line x1="425.60" y1="538.90" x2="430.60" y2="538.90" stroke="#444" stroke-width="0.8"/>
<text x="424.60" y="542.30" font-size="8.4" text-anchor="end" fill="#333">0</text>
<line x1="425.60" y1="516.80" x2="430.60" y2="516.80" stroke="#444" stroke-width="0.8"/>
<text x="424.60" y="520.20" font-size="8.4" text-anchor="end" fill="#333">20</text>
<line x1="425.60" y1="494.70" x2="430.60" y2="494.70" stroke="#444" stroke-width="0.8"/>
<text x="424.60" y="498.10" font-size="8.4" text-anchor="end" fill="#333">40</text>
<line x1="425.60" y1="472.60" x2="430.60" y2="472.60" stroke="#444" stroke-width="0.8"/>
<text x="424.60" y="476.00" font-size="8.4" text-anchor="end" fill="#333">60</text>
<line x1="425.60" y1="450.50" x2="430.60" y2="450.50" stroke="#444" stroke-width="0.8"/>
<text x="424.60" y="453.90" font-size="8.4" text-anchor="end" fill="#333">80</text>
<line x1="425.60" y1="428.40" x2="430.60" y2="428.40" stroke="#444" stroke-width="0.8"/>
<text x="424.60" y="431.80" font-size="8.4" text-anchor="end" fill="#333">100</text>
<line x1="451.10" y1="538.90" x2="451.10" y2="542.90" stroke="#444" stroke-width="0.8"/>
<line x1="482.60" y1="538.90" x2="482.60" y2="542.90" stroke="#444" stroke-width="0.8"/>
<text x="454.50" y="549.90" font-size="8.4" text-anchor="end" transform="rotate(-45 454.50 549.90)" fill="#333">Vehicle</text>
<text x="486.00" y="549.90" font-size="8.3" text-anchor="end" transform="rotate(-45 486.00 549.90)" fill="#333">DS55980254</text>
<path d="M450.90 470.40V428.30H482.90V434.50" fill="none" stroke="#333" stroke-width="0.7"/>
<text x="467.05" y="427.22" font-size="13.5" text-anchor="middle" letter-spacing="0.7" style="stroke:#222;stroke-width:0.45px;stroke-opacity:1">*</text>
<text x="403.70" y="487.30" font-size="6.9" text-anchor="middle" transform="rotate(-90 403.70 487.30)" fill="#3a3a3a">T-cell-mediated antitumor effect (%)</text>
<text x="412.50" y="486.20" font-size="6.5" text-anchor="middle" transform="rotate(-90 412.50 486.20)" fill="#3a3a3a">Nude vs. Balb</text>
</g>
<defs><filter id="soft" x="-5%" y="-5%" width="110%" height="110%"><feGaussianBlur stdDeviation="0.35"/></filter><radialGradient id="glow"><stop offset="0.55" stop-color="#9bdcb2" stop-opacity="1"/><stop offset="0.85" stop-color="#c4ecd2" stop-opacity="0.7"/><stop offset="1" stop-color="#d8f3e0" stop-opacity="0"/></radialGradient><marker id="ah" viewBox="0 0 10 10" refX="7" refY="5" markerWidth="5" markerHeight="5" orient="auto-start-reverse"><path d="M0 0L10 5L0 10L2.5 5z" fill="#222"/></marker><marker id="ah2" viewBox="0 0 10 10" refX="7" refY="5" markerWidth="4.2" markerHeight="4.2" orient="auto-start-reverse"><path d="M0 0L10 5L0 10L2.5 5z" fill="#333"/></marker></defs>
<g id="panelA">
<text x="1.20" y="11.80" font-size="12.5" font-weight="bold" fill="#111">A</text>
<g filter="url(#soft)">
<circle cx="39.50" cy="32.50" r="8.50" fill="#ea9f92"/>
<circle cx="33.00" cy="42.00" r="6.50" fill="#ea9f92"/>
<circle cx="47.50" cy="42.50" r="8.50" fill="#7f83ca"/>
<circle cx="36.50" cy="50.00" r="6.00" fill="#7f83ca"/>
<circle cx="58.50" cy="40.00" r="7.00" fill="#ea9f92"/>
<circle cx="45.00" cy="24.00" r="7.00" fill="#ea9f92"/>
<circle cx="31.00" cy="29.00" r="6.00" fill="#ea9f92"/>
<circle cx="39.86" cy="27.59" r="1.24" fill="#6c70bd"/>
<circle cx="37.14" cy="28.98" r="1.24" fill="#6c70bd"/>
<circle cx="34.15" cy="28.75" r="1.24" fill="#6c70bd"/>
<circle cx="31.47" cy="27.48" r="1.24" fill="#6c70bd"/>
<circle cx="29.79" cy="25.02" r="1.24" fill="#6c70bd"/>
<circle cx="29.33" cy="22.05" r="1.24" fill="#6c70bd"/>
<circle cx="30.34" cy="19.18" r="1.24" fill="#6c70bd"/>
<circle cx="32.78" cy="17.45" r="1.24" fill="#6c70bd"/>
<circle cx="35.59" cy="16.78" r="1.24" fill="#6c70bd"/>
<circle cx="38.57" cy="17.12" r="1.24" fill="#6c70bd"/>
<circle cx="40.71" cy="19.26" r="1.24" fill="#6c70bd"/>
<circle cx="41.92" cy="22.02" r="1.24" fill="#6c70bd"/>
<circle cx="41.22" cy="24.92" r="1.24" fill="#6c70bd"/>
<circle cx="35.60" cy="22.80" r="6.69" fill="#7f83ca" stroke="#6c70bd" stroke-width="0.5"/>
<circle cx="35.74" cy="23.08" r="3.42" fill="#6c70bd" opacity="0.6"/>
<circle cx="35.74" cy="23.08" r="2.28" fill="#5356ae"/>
<circle cx="26.35" cy="30.55" r="1.12" fill="#df8b7e"/>
<circle cx="23.70" cy="29.94" r="1.12" fill="#df8b7e"/>
<circle cx="21.33" cy="28.69" r="1.12" fill="#df8b7e"/>
<circle cx="20.26" cy="26.24" r="1.12" fill="#df8b7e"/>
<circle cx="20.13" cy="23.62" r="1.12" fill="#df8b7e"/>
<circle cx="21.04" cy="21.05" r="1.12" fill="#df8b7e"/>
<circle cx="23.42" cy="19.72" r="1.12" fill="#df8b7e"/>
<circle cx="26.04" cy="19.15" r="1.12" fill="#df8b7e"/>
<circle cx="28.56" cy="20.12" r="1.12" fill="#df8b7e"/>
<circle cx="30.38" cy="22.07" r="1.12" fill="#df8b7e"/>
<circle cx="31.11" cy="24.65" r="1.12" fill="#df8b7e"/>
<circle cx="30.42" cy="27.22" r="1.12" fill="#df8b7e"/>
<circle cx="28.89" cy="29.45" r="1.12" fill="#df8b7e"/>
<circle cx="25.50" cy="24.80" r="6.01" fill="#ea9f92" stroke="#df8b7e" stroke-width="0.5"/>
<circle cx="25.62" cy="25.05" r="3.07" fill="#df8b7e" opacity="0.6"/>
<circle cx="25.62" cy="25.05" r="2.05" fill="#d26c5c"/>
<circle cx="34.81" cy="34.65" r="1.55" fill="#df8b7e"/>
<circle cx="35.15" cy="38.35" r="1.55" fill="#df8b7e"/>
<circle cx="33.07" cy="41.44" r="1.55" fill="#df8b7e"/>
<circle cx="30.21" cy="43.91" r="1.55" fill="#df8b7e"/>
<circle cx="26.45" cy="43.72" r="1.55" fill="#df8b7e"/>
<circle cx="22.82" cy="42.80" r="1.55" fill="#df8b7e"/>
<circle cx="20.44" cy="39.83" r="1.55" fill="#df8b7e"/>
<circle cx="19.50" cy="36.14" r="1.55" fill="#df8b7e"/>
<circle cx="20.42" cy="32.40" r="1.55" fill="#df8b7e"/>
<circle cx="23.30" cy="29.94" r="1.55" fill="#df8b7e"/>
<circle cx="26.73" cy="28.65" r="1.55" fill="#df8b7e"/>
<circle cx="30.45" cy="28.96" r="1.55" fill="#df8b7e"/>
<circle cx="33.33" cy="31.34" r="1.55" fill="#df8b7e"/>
<circle cx="27.50" cy="36.30" r="8.34" fill="#ea9f92" stroke="#df8b7e" stroke-width="0.5"/>
<circle cx="27.67" cy="36.64" r="4.26" fill="#df8b7e" opacity="0.6"/>
<circle cx="27.67" cy="36.64" r="2.84" fill="#d26c5c"/>
<circle cx="36.06" cy="47.41" r="1.24" fill="#6c70bd"/>
<circle cx="36.07" cy="50.30" r="1.24" fill="#6c70bd"/>
<circle cx="35.16" cy="53.18" r="1.24" fill="#6c70bd"/>
<circle cx="32.50" cy="54.64" r="1.24" fill="#6c70bd"/>
<circle cx="29.61" cy="55.03" r="1.24" fill="#6c70bd"/>
<circle cx="26.74" cy="54.28" r="1.24" fill="#6c70bd"/>
<circle cx="24.81" cy="52.00" r="1.24" fill="#6c70bd"/>
<circle cx="23.77" cy="49.15" r="1.24" fill="#6c70bd"/>
<circle cx="24.72" cy="46.29" r="1.24" fill="#6c70bd"/>
<circle cx="26.40" cy="43.77" r="1.24" fill="#6c70bd"/>
<circle cx="29.31" cy="42.91" r="1.24" fill="#6c70bd"/>
<circle cx="32.29" cy="43.06" r="1.24" fill="#6c70bd"/>
<circle cx="34.93" cy="44.61" r="1.24" fill="#6c70bd"/>
<circle cx="30.20" cy="49.00" r="6.69" fill="#7f83ca" stroke="#6c70bd" stroke-width="0.5"/>
<circle cx="30.34" cy="49.28" r="3.42" fill="#6c70bd" opacity="0.6"/>
<circle cx="30.34" cy="49.28" r="2.28" fill="#5356ae"/>
<circle cx="57.91" cy="39.77" r="1.24" fill="#6c70bd"/>
<circle cx="59.26" cy="37.07" r="1.24" fill="#6c70bd"/>
<circle cx="61.96" cy="35.74" r="1.24" fill="#6c70bd"/>
<circle cx="64.92" cy="35.45" r="1.24" fill="#6c70bd"/>
<circle cx="67.60" cy="36.74" r="1.24" fill="#6c70bd"/>
<circle cx="69.45" cy="39.05" r="1.24" fill="#6c70bd"/>
<circle cx="70.26" cy="41.98" r="1.24" fill="#6c70bd"/>
<circle cx="68.98" cy="44.72" r="1.24" fill="#6c70bd"/>
<circle cx="67.02" cy="46.92" r="1.24" fill="#6c70bd"/>
<circle cx="64.18" cy="47.70" r="1.24" fill="#6c70bd"/>
<circle cx="61.28" cy="47.23" r="1.24" fill="#6c70bd"/>
<circle cx="58.70" cy="45.61" r="1.24" fill="#6c70bd"/>
<circle cx="57.74" cy="42.72" r="1.24" fill="#6c70bd"/>
<circle cx="63.80" cy="41.60" r="6.69" fill="#7f83ca" stroke="#6c70bd" stroke-width="0.5"/>
<circle cx="63.94" cy="41.88" r="3.42" fill="#6c70bd" opacity="0.6"/>
<circle cx="63.94" cy="41.88" r="2.28" fill="#5356ae"/>
<circle cx="51.06" cy="55.20" r="1.35" fill="#6c70bd"/>
<circle cx="48.58" cy="52.93" r="1.35" fill="#6c70bd"/>
<circle cx="47.44" cy="49.77" r="1.35" fill="#6c70bd"/>
<circle cx="47.94" cy="46.47" r="1.35" fill="#6c70bd"/>
<circle cx="49.82" cy="43.73" r="1.35" fill="#6c70bd"/>
<circle cx="52.90" cy="42.65" r="1.35" fill="#6c70bd"/>
<circle cx="56.11" cy="42.36" r="1.35" fill="#6c70bd"/>
<circle cx="58.86" cy="44.06" r="1.35" fill="#6c70bd"/>
<circle cx="60.88" cy="46.62" r="1.35" fill="#6c70bd"/>
<circle cx="61.09" cy="49.88" r="1.35" fill="#6c70bd"/>
<circle cx="59.97" cy="52.93" r="1.35" fill="#6c70bd"/>
<circle cx="57.50" cy="55.06" r="1.35" fill="#6c70bd"/>
<circle cx="54.33" cy="55.83" r="1.35" fill="#6c70bd"/>
<circle cx="54.40" cy="49.00" r="7.27" fill="#7f83ca" stroke="#6c70bd" stroke-width="0.5"/>
<circle cx="54.55" cy="49.30" r="3.71" fill="#6c70bd" opacity="0.6"/>
<circle cx="54.55" cy="49.30" r="2.48" fill="#5356ae"/>
<circle cx="70.72" cy="31.39" r="0.97" fill="#df8b7e"/>
<circle cx="69.46" cy="33.35" r="0.97" fill="#df8b7e"/>
<circle cx="67.63" cy="34.76" r="0.97" fill="#df8b7e"/>
<circle cx="65.30" cy="35.12" r="0.97" fill="#df8b7e"/>
<circle cx="63.06" cy="34.31" r="0.97" fill="#df8b7e"/>
<circle cx="61.59" cy="32.46" r="0.97" fill="#df8b7e"/>
<circle cx="61.01" cy="30.20" r="0.97" fill="#df8b7e"/>
<circle cx="61.73" cy="28.01" r="0.97" fill="#df8b7e"/>
<circle cx="63.14" cy="26.20" r="0.97" fill="#df8b7e"/>
<circle cx="65.32" cy="25.40" r="0.97" fill="#df8b7e"/>
<circle cx="67.68" cy="25.51" r="0.97" fill="#df8b7e"/>
<circle cx="69.57" cy="26.95" r="0.97" fill="#df8b7e"/>
<circle cx="70.74" cy="29.01" r="0.97" fill="#df8b7e"/>
<circle cx="65.90" cy="30.20" r="5.24" fill="#ea9f92" stroke="#df8b7e" stroke-width="0.5"/>
<circle cx="66.01" cy="30.42" r="2.67" fill="#df8b7e" opacity="0.6"/>
<circle cx="66.01" cy="30.42" r="1.78" fill="#d26c5c"/>
<circle cx="33.71" cy="43.82" r="1.48" fill="#6c70bd"/>
<circle cx="34.30" cy="40.33" r="1.48" fill="#6c70bd"/>
<circle cx="36.77" cy="37.79" r="1.48" fill="#6c70bd"/>
<circle cx="39.98" cy="36.36" r="1.48" fill="#6c70bd"/>
<circle cx="43.60" cy="36.46" r="1.48" fill="#6c70bd"/>
<circle cx="46.29" cy="38.85" r="1.48" fill="#6c70bd"/>
<circle cx="48.07" cy="41.83" r="1.48" fill="#6c70bd"/>
<circle cx="48.33" cy="45.38" r="1.48" fill="#6c70bd"/>
<circle cx="46.46" cy="48.37" r="1.48" fill="#6c70bd"/>
<circle cx="43.68" cy="50.41" r="1.48" fill="#6c70bd"/>
<circle cx="40.21" cy="51.27" r="1.48" fill="#6c70bd"/>
<circle cx="36.74" cy="50.11" r="1.48" fill="#6c70bd"/>
<circle cx="34.58" cy="47.21" r="1.48" fill="#6c70bd"/>
<circle cx="41.00" cy="43.70" r="7.95" fill="#7f83ca" stroke="#6c70bd" stroke-width="0.5"/>
<circle cx="41.16" cy="44.03" r="4.06" fill="#6c70bd" opacity="0.6"/>
<circle cx="41.16" cy="44.03" r="2.71" fill="#5356ae"/>
<circle cx="43.99" cy="33.72" r="0.61" fill="#df8b7e"/>
<circle cx="43.17" cy="34.92" r="0.61" fill="#df8b7e"/>
<circle cx="42.02" cy="35.81" r="0.61" fill="#df8b7e"/>
<circle cx="40.53" cy="36.06" r="0.61" fill="#df8b7e"/>
<circle cx="39.22" cy="35.35" r="0.61" fill="#df8b7e"/>
<circle cx="38.14" cy="34.31" r="0.61" fill="#df8b7e"/>
<circle cx="37.89" cy="32.82" r="0.61" fill="#df8b7e"/>
<circle cx="38.23" cy="31.36" r="0.61" fill="#df8b7e"/>
<circle cx="39.38" cy="30.42" r="0.61" fill="#df8b7e"/>
<circle cx="40.70" cy="29.78" r="0.61" fill="#df8b7e"/>
<circle cx="42.17" cy="30.05" r="0.61" fill="#df8b7e"/>
<circle cx="43.37" cy="30.90" r="0.61" fill="#df8b7e"/>
<circle cx="43.98" cy="32.25" r="0.61" fill="#df8b7e"/>
<circle cx="41.00" cy="32.90" r="3.30" fill="#ea9f92" stroke="#df8b7e" stroke-width="0.5"/>
<circle cx="41.07" cy="33.04" r="1.68" fill="#df8b7e" opacity="0.6"/>
<circle cx="41.07" cy="33.04" r="1.12" fill="#d26c5c"/>
<circle cx="45.17" cy="36.70" r="1.44" fill="#df8b7e"/>
<circle cx="45.61" cy="33.26" r="1.44" fill="#df8b7e"/>
<circle cx="47.27" cy="30.16" r="1.44" fill="#df8b7e"/>
<circle cx="50.53" cy="28.89" r="1.44" fill="#df8b7e"/>
<circle cx="53.97" cy="28.25" r="1.44" fill="#df8b7e"/>
<circle cx="57.11" cy="29.95" r="1.44" fill="#df8b7e"/>
<circle cx="59.25" cy="32.76" r="1.44" fill="#df8b7e"/>
<circle cx="59.78" cy="36.27" r="1.44" fill="#df8b7e"/>
<circle cx="58.34" cy="39.44" r="1.44" fill="#df8b7e"/>
<circle cx="56.05" cy="42.06" r="1.44" fill="#df8b7e"/>
<circle cx="52.62" cy="42.92" r="1.44" fill="#df8b7e"/>
<circle cx="49.32" cy="41.93" r="1.44" fill="#df8b7e"/>
<circle cx="46.41" cy="40.01" r="1.44" fill="#df8b7e"/>
<circle cx="52.40" cy="35.60" r="7.76" fill="#ea9f92" stroke="#df8b7e" stroke-width="0.5"/>
<circle cx="52.56" cy="35.92" r="3.96" fill="#df8b7e" opacity="0.6"/>
<circle cx="52.56" cy="35.92" r="2.64" fill="#d26c5c"/>
<circle cx="46.41" cy="33.01" r="1.76" fill="#df8b7e"/>
<circle cx="43.48" cy="29.99" r="1.76" fill="#df8b7e"/>
<circle cx="41.29" cy="26.30" r="1.76" fill="#df8b7e"/>
<circle cx="41.84" cy="21.96" r="1.76" fill="#df8b7e"/>
<circle cx="44.15" cy="18.23" r="1.76" fill="#df8b7e"/>
<circle cx="48.14" cy="16.59" r="1.76" fill="#df8b7e"/>
<circle cx="52.30" cy="16.55" r="1.76" fill="#df8b7e"/>
<circle cx="55.94" cy="18.47" r="1.76" fill="#df8b7e"/>
<circle cx="58.43" cy="21.76" r="1.76" fill="#df8b7e"/>
<circle cx="58.90" cy="25.85" r="1.76" fill="#df8b7e"/>
<circle cx="57.91" cy="29.96" r="1.76" fill="#df8b7e"/>
<circle cx="54.64" cy="32.68" r="1.76" fill="#df8b7e"/>
<circle cx="50.59" cy="34.08" r="1.76" fill="#df8b7e"/>
<circle cx="50.40" cy="25.00" r="9.51" fill="#ea9f92" stroke="#df8b7e" stroke-width="0.5"/>
<circle cx="50.60" cy="25.39" r="4.85" fill="#df8b7e" opacity="0.6"/>
<circle cx="50.60" cy="25.39" r="3.23" fill="#d26c5c"/>
<circle cx="43.96" cy="50.26" r="1.08" fill="#df8b7e"/>
<circle cx="46.24" cy="51.55" r="1.08" fill="#df8b7e"/>
<circle cx="47.31" cy="53.99" r="1.08" fill="#df8b7e"/>
<circle cx="47.02" cy="56.58" r="1.08" fill="#df8b7e"/>
<circle cx="45.80" cy="58.84" r="1.08" fill="#df8b7e"/>
<circle cx="43.56" cy="60.06" r="1.08" fill="#df8b7e"/>
<circle cx="41.05" cy="60.31" r="1.08" fill="#df8b7e"/>
<circle cx="38.60" cy="59.49" r="1.08" fill="#df8b7e"/>
<circle cx="36.89" cy="57.48" r="1.08" fill="#df8b7e"/>
<circle cx="36.60" cy="54.89" r="1.08" fill="#df8b7e"/>
<circle cx="37.13" cy="52.34" r="1.08" fill="#df8b7e"/>
<circle cx="39.02" cy="50.55" r="1.08" fill="#df8b7e"/>
<circle cx="41.46" cy="49.67" r="1.08" fill="#df8b7e"/>
<circle cx="41.90" cy="55.10" r="5.82" fill="#ea9f92" stroke="#df8b7e" stroke-width="0.5"/>
<circle cx="42.02" cy="55.34" r="2.97" fill="#df8b7e" opacity="0.6"/>
<circle cx="42.02" cy="55.34" r="1.98" fill="#d26c5c"/>
<circle cx="36.20" cy="87.80" r="7.00" fill="#aeb0dc" opacity="0.55"/>
<circle cx="41.00" cy="114.00" r="9.00" fill="#aeb0dc" opacity="0.55"/>
<circle cx="30.00" cy="117.50" r="7.50" fill="#aeb0dc" opacity="0.55"/>
<circle cx="54.40" cy="118.50" r="8.50" fill="#aeb0dc" opacity="0.55"/>
<circle cx="64.50" cy="112.00" r="8.00" fill="#aeb0dc" opacity="0.55"/>
<circle cx="72.00" cy="107.00" r="5.00" fill="#aeb0dc" opacity="0.55"/>
<circle cx="22.50" cy="113.00" r="4.00" fill="#aeb0dc" opacity="0.55"/>
<ellipse cx="30.1" cy="89.7" rx="1.9" ry="1.4" fill="#9392cd" opacity="0.89" transform="rotate(48 30.1 89.7)"/>
<ellipse cx="38.6" cy="93.4" rx="1.5" ry="0.9" fill="#b3b2dd" opacity="0.67" transform="rotate(23 38.6 93.4)"/>
<ellipse cx="28.4" cy="85.9" rx="1.5" ry="1.5" fill="#9ea3d2" opacity="0.94" transform="rotate(167 28.4 85.9)"/>
<ellipse cx="35.7" cy="81.0" rx="1.5" ry="0.9" fill="#9ea3d2" opacity="0.56" transform="rotate(61 35.7 81.0)"/>
<ellipse cx="30.1" cy="83.4" rx="1.1" ry="1.0" fill="#9ea3d2" opacity="0.76" transform="rotate(163 30.1 83.4)"/>
<ellipse cx="36.0" cy="88.4" rx="0.8" ry="0.5" fill="#9ea3d2" opacity="0.95" transform="rotate(21 36.0 88.4)"/>
<ellipse cx="34.9" cy="83.2" rx="1.0" ry="0.6" fill="#9392cd" opacity="0.78" transform="rotate(27 34.9 83.2)"/>
<ellipse cx="29.9" cy="92.4" rx="1.2" ry="1.1" fill="#b3b2dd" opacity="0.55" transform="rotate(53 29.9 92.4)"/>
<ellipse cx="37.9" cy="86.9" rx="1.2" ry="0.9" fill="#9ea3d2" opacity="0.58" transform="rotate(161 37.9 86.9)"/>
<ellipse cx="38.4" cy="94.4" rx="1.1" ry="0.8" fill="#9392cd" opacity="0.94" transform="rotate(30 38.4 94.4)"/>
<ellipse cx="40.9" cy="93.1" rx="0.7" ry="0.6" fill="#9392cd" opacity="0.62" transform="rotate(143 40.9 93.1)"/>
<ellipse cx="38.5" cy="93.4" rx="2.0" ry="1.5" fill="#b3b2dd" opacity="0.70" transform="rotate(101 38.5 93.4)"/>
<ellipse cx="32.8" cy="89.7" rx="1.1" ry="0.7" fill="#9ea3d2" opacity="0.90" transform="rotate(53 32.8 89.7)"/>
<ellipse cx="39.5" cy="95.6" rx="1.5" ry="0.9" fill="#9ea3d2" opacity="0.95" transform="rotate(54 39.5 95.6)"/>
<ellipse cx="35.4" cy="88.1" rx="1.5" ry="1.1" fill="#9392cd" opacity="0.58" transform="rotate(53 35.4 88.1)"/>
<ellipse cx="32.6" cy="85.7" rx="1.5" ry="1.2" fill="#9392cd" opacity="0.60" transform="rotate(150 32.6 85.7)"/>
<ellipse cx="29.8" cy="88.5" rx="1.8" ry="1.5" fill="#b3b2dd" opacity="0.67" transform="rotate(58 29.8 88.5)"/>
<ellipse cx="38.0" cy="83.9" rx="0.9" ry="0.8" fill="#9ea3d2" opacity="0.77" transform="rotate(175 38.0 83.9)"/>
<ellipse cx="43.8" cy="85.3" rx="1.5" ry="0.8" fill="#9392cd" opacity="0.59" transform="rotate(131 43.8 85.3)"/>
<ellipse cx="40.2" cy="86.8" rx="1.6" ry="1.2" fill="#9392cd" opacity="0.91" transform="rotate(125 40.2 86.8)"/>
<ellipse cx="35.2" cy="91.2" rx="1.6" ry="1.0" fill="#b3b2dd" opacity="0.74" transform="rotate(167 35.2 91.2)"/>
<ellipse cx="40.2" cy="82.5" rx="1.1" ry="0.9" fill="#b3b2dd" opacity="0.58" transform="rotate(105 40.2 82.5)"/>
<ellipse cx="34.2" cy="88.5" rx="0.9" ry="0.7" fill="#9392cd" opacity="0.94" transform="rotate(23 34.2 88.5)"/>
<ellipse cx="31.0" cy="93.9" rx="2.0" ry="1.7" fill="#9ea3d2" opacity="0.76" transform="rotate(35 31.0 93.9)"/>
<ellipse cx="29.3" cy="83.4" rx="1.3" ry="1.1" fill="#9392cd" opacity="0.94" transform="rotate(5 29.3 83.4)"/>
<ellipse cx="34.3" cy="86.5" rx="0.8" ry="0.5" fill="#9392cd" opacity="0.95" transform="rotate(19 34.3 86.5)"/>
<ellipse cx="31.3" cy="89.3" rx="0.8" ry="0.7" fill="#9ea3d2" opacity="0.60" transform="rotate(87 31.3 89.3)"/>
<ellipse cx="32.0" cy="93.4" rx="1.9" ry="1.8" fill="#9392cd" opacity="0.56" transform="rotate(127 32.0 93.4)"/>
<ellipse cx="30.2" cy="84.8" rx="1.2" ry="0.7" fill="#9ea3d2" opacity="0.58" transform="rotate(23 30.2 84.8)"/>
<ellipse cx="30.8" cy="81.3" rx="1.8" ry="1.3" fill="#9ea3d2" opacity="0.92" transform="rotate(177 30.8 81.3)"/>
<ellipse cx="31.3" cy="85.1" rx="1.8" ry="1.4" fill="#b3b2dd" opacity="0.76" transform="rotate(79 31.3 85.1)"/>
<ellipse cx="31.5" cy="84.3" rx="1.0" ry="0.6" fill="#9ea3d2" opacity="0.86" transform="rotate(168 31.5 84.3)"/>
<ellipse cx="40.0" cy="85.7" rx="0.7" ry="0.4" fill="#9392cd" opacity="0.79" transform="rotate(132 40.0 85.7)"/>
<ellipse cx="40.1" cy="94.9" rx="1.6" ry="1.2" fill="#9392cd" opacity="0.65" transform="rotate(103 40.1 94.9)"/>
<ellipse cx="34.3" cy="84.5" rx="1.3" ry="1.2" fill="#b3b2dd" opacity="0.70" transform="rotate(149 34.3 84.5)"/>
<ellipse cx="39.6" cy="85.9" rx="0.9" ry="0.8" fill="#9392cd" opacity="0.89" transform="rotate(16 39.6 85.9)"/>
<ellipse cx="40.5" cy="86.4" rx="0.9" ry="0.7" fill="#9392cd" opacity="0.92" transform="rotate(105 40.5 86.4)"/>
<ellipse cx="31.7" cy="91.9" rx="1.6" ry="1.5" fill="#9ea3d2" opacity="0.94" transform="rotate(115 31.7 91.9)"/>
<ellipse cx="32.9" cy="94.8" rx="1.1" ry="0.6" fill="#9ea3d2" opacity="0.83" transform="rotate(146 32.9 94.8)"/>
<ellipse cx="32.0" cy="93.2" rx="1.4" ry="0.9" fill="#9ea3d2" opacity="0.73" transform="rotate(6 32.0 93.2)"/>
<ellipse cx="36.7" cy="83.4" rx="1.7" ry="1.7" fill="#b3b2dd" opacity="0.60" transform="rotate(27 36.7 83.4)"/>
<ellipse cx="31.5" cy="82.8" rx="1.7" ry="1.5" fill="#b3b2dd" opacity="0.63" transform="rotate(121 31.5 82.8)"/>
<ellipse cx="35.9" cy="95.0" rx="1.7" ry="1.5" fill="#9ea3d2" opacity="0.62" transform="rotate(69 35.9 95.0)"/>
<ellipse cx="37.3" cy="81.7" rx="1.9" ry="1.6" fill="#9ea3d2" opacity="0.85" transform="rotate(100 37.3 81.7)"/>
<ellipse cx="40.3" cy="82.0" rx="1.0" ry="1.0" fill="#9392cd" opacity="0.84" transform="rotate(33 40.3 82.0)"/>
<ellipse cx="32.6" cy="89.0" rx="1.9" ry="1.3" fill="#b3b2dd" opacity="0.78" transform="rotate(128 32.6 89.0)"/>
<ellipse cx="38.6" cy="79.9" rx="1.3" ry="1.3" fill="#9ea3d2" opacity="0.59" transform="rotate(164 38.6 79.9)"/>
<ellipse cx="38.9" cy="86.4" rx="1.0" ry="1.0" fill="#9392cd" opacity="0.94" transform="rotate(137 38.9 86.4)"/>
<ellipse cx="44.3" cy="86.6" rx="1.0" ry="1.0" fill="#9ea3d2" opacity="0.69" transform="rotate(21 44.3 86.6)"/>
<ellipse cx="41.0" cy="88.9" rx="1.2" ry="1.0" fill="#9392cd" opacity="0.56" transform="rotate(16 41.0 88.9)"/>
<ellipse cx="34.8" cy="88.5" rx="1.4" ry="1.3" fill="#9ea3d2" opacity="0.61" transform="rotate(38 34.8 88.5)"/>
<ellipse cx="44.3" cy="87.8" rx="1.4" ry="1.2" fill="#9ea3d2" opacity="0.93" transform="rotate(126 44.3 87.8)"/>
<ellipse cx="30.0" cy="84.4" rx="1.7" ry="1.3" fill="#9392cd" opacity="0.67" transform="rotate(143 30.0 84.4)"/>
<ellipse cx="32.2" cy="83.1" rx="1.8" ry="1.2" fill="#9ea3d2" opacity="0.82" transform="rotate(156 32.2 83.1)"/>
<ellipse cx="38.2" cy="95.4" rx="2.0" ry="1.3" fill="#9ea3d2" opacity="0.75" transform="rotate(105 38.2 95.4)"/>
<ellipse cx="30.3" cy="86.5" rx="1.5" ry="1.2" fill="#b3b2dd" opacity="0.57" transform="rotate(102 30.3 86.5)"/>
<ellipse cx="28.1" cy="85.5" rx="0.9" ry="0.7" fill="#b3b2dd" opacity="0.58" transform="rotate(137 28.1 85.5)"/>
<ellipse cx="28.3" cy="89.9" rx="1.7" ry="1.2" fill="#9392cd" opacity="0.74" transform="rotate(32 28.3 89.9)"/>
<ellipse cx="31.9" cy="94.6" rx="1.9" ry="1.5" fill="#9392cd" opacity="0.59" transform="rotate(107 31.9 94.6)"/>
<ellipse cx="30.2" cy="82.3" rx="0.9" ry="0.5" fill="#b3b2dd" opacity="0.61" transform="rotate(3 30.2 82.3)"/>
<ellipse cx="33.8" cy="107.0" rx="2.1" ry="1.2" fill="#a2a1d6" opacity="0.62" transform="rotate(165 33.8 107.0)"/>
<ellipse cx="47.2" cy="111.2" rx="1.5" ry="1.1" fill="#b3b2dd" opacity="0.58" transform="rotate(176 47.2 111.2)"/>
<ellipse cx="36.1" cy="110.1" rx="1.4" ry="1.4" fill="#b3b2dd" opacity="0.75" transform="rotate(109 36.1 110.1)"/>
<ellipse cx="48.5" cy="118.6" rx="1.9" ry="1.4" fill="#9392cd" opacity="0.66" transform="rotate(111 48.5 118.6)"/>
<ellipse cx="36.2" cy="115.9" rx="1.8" ry="1.3" fill="#9392cd" opacity="0.70" transform="rotate(155 36.2 115.9)"/>
<ellipse cx="33.6" cy="120.2" rx="0.8" ry="0.7" fill="#a2a1d6" opacity="0.61" transform="rotate(40 33.6 120.2)"/>
<ellipse cx="31.9" cy="112.6" rx="0.9" ry="0.6" fill="#9392cd" opacity="0.61" transform="rotate(170 31.9 112.6)"/>
<ellipse cx="47.0" cy="115.2" rx="1.9" ry="1.2" fill="#b3b2dd" opacity="0.86" transform="rotate(79 47.0 115.2)"/>
<ellipse cx="49.0" cy="112.9" rx="1.0" ry="0.9" fill="#a2a1d6" opacity="0.85" transform="rotate(56 49.0 112.9)"/>
<ellipse cx="38.3" cy="105.1" rx="1.9" ry="1.7" fill="#9392cd" opacity="0.60" transform="rotate(66 38.3 105.1)"/>
<ellipse cx="44.3" cy="110.6" rx="2.0" ry="1.2" fill="#a2a1d6" opacity="0.77" transform="rotate(172 44.3 110.6)"/>
<ellipse cx="34.6" cy="109.5" rx="1.5" ry="1.4" fill="#9392cd" opacity="0.58" transform="rotate(59 34.6 109.5)"/>
<ellipse cx="37.1" cy="122.4" rx="1.5" ry="1.1" fill="#b3b2dd" opacity="0.68" transform="rotate(153 37.1 122.4)"/>
<ellipse cx="41.9" cy="112.2" rx="1.0" ry="1.0" fill="#b3b2dd" opacity="0.92" transform="rotate(68 41.9 112.2)"/>
<ellipse cx="42.4" cy="124.0" rx="1.2" ry="1.0" fill="#b3b2dd" opacity="0.86" transform="rotate(17 42.4 124.0)"/>
<ellipse cx="43.3" cy="115.2" rx="1.7" ry="1.6" fill="#a2a1d6" opacity="0.87" transform="rotate(132 43.3 115.2)"/>
<ellipse cx="44.3" cy="117.2" rx="1.4" ry="0.9" fill="#a2a1d6" opacity="0.92" transform="rotate(173 44.3 117.2)"/>
<ellipse cx="38.7" cy="104.1" rx="1.5" ry="0.8" fill="#b3b2dd" opacity="0.72" transform="rotate(9 38.7 104.1)"/>
<ellipse cx="33.0" cy="108.3" rx="1.6" ry="0.9" fill="#9392cd" opacity="0.61" transform="rotate(58 33.0 108.3)"/>
<ellipse cx="36.0" cy="119.2" rx="2.1" ry="1.5" fill="#9392cd" opacity="0.70" transform="rotate(159 36.0 119.2)"/>
<ellipse cx="35.8" cy="121.1" rx="1.7" ry="1.0" fill="#9392cd" opacity="0.76" transform="rotate(154 35.8 121.1)"/>
<ellipse cx="39.5" cy="105.0" rx="1.9" ry="1.2" fill="#b3b2dd" opacity="0.68" transform="rotate(82 39.5 105.0)"/>
<ellipse cx="33.3" cy="118.3" rx="1.9" ry="1.4" fill="#b3b2dd" opacity="0.58" transform="rotate(0 33.3 118.3)"/>
<ellipse cx="42.0" cy="123.4" rx="0.8" ry="0.6" fill="#a2a1d6" opacity="0.74" transform="rotate(159 42.0 123.4)"/>
<ellipse cx="38.3" cy="106.3" rx="1.9" ry="1.3" fill="#b3b2dd" opacity="0.58" transform="rotate(5 38.3 106.3)"/>
<ellipse cx="36.0" cy="119.2" rx="1.4" ry="1.1" fill="#9392cd" opacity="0.62" transform="rotate(165 36.0 119.2)"/>
<ellipse cx="44.7" cy="105.7" rx="2.0" ry="1.6" fill="#9392cd" opacity="0.92" transform="rotate(132 44.7 105.7)"/>
<ellipse cx="33.6" cy="110.8" rx="0.8" ry="0.6" fill="#9392cd" opacity="0.76" transform="rotate(37 33.6 110.8)"/>
<ellipse cx="34.6" cy="115.1" rx="1.1" ry="0.7" fill="#b3b2dd" opacity="0.80" transform="rotate(28 34.6 115.1)"/>
<ellipse cx="43.2" cy="108.8" rx="1.4" ry="1.3" fill="#9392cd" opacity="0.65" transform="rotate(84 43.2 108.8)"/>
<ellipse cx="48.8" cy="118.6" rx="1.4" ry="1.1" fill="#b3b2dd" opacity="0.70" transform="rotate(141 48.8 118.6)"/>
<ellipse cx="36.8" cy="113.3" rx="1.2" ry="1.1" fill="#9392cd" opacity="0.91" transform="rotate(61 36.8 113.3)"/>
<ellipse cx="42.3" cy="112.5" rx="1.8" ry="1.2" fill="#b3b2dd" opacity="0.79" transform="rotate(8 42.3 112.5)"/>
<ellipse cx="38.4" cy="105.2" rx="1.9" ry="1.1" fill="#9392cd" opacity="0.86" transform="rotate(110 38.4 105.2)"/>
<ellipse cx="40.7" cy="118.0" rx="1.0" ry="0.7" fill="#b3b2dd" opacity="0.56" transform="rotate(134 40.7 118.0)"/>
<ellipse cx="46.5" cy="114.6" rx="0.9" ry="0.8" fill="#9392cd" opacity="0.59" transform="rotate(101 46.5 114.6)"/>
<ellipse cx="49.7" cy="118.3" rx="1.0" ry="0.9" fill="#9392cd" opacity="0.64" transform="rotate(42 49.7 118.3)"/>
<ellipse cx="40.6" cy="123.5" rx="2.0" ry="1.7" fill="#9392cd" opacity="0.59" transform="rotate(21 40.6 123.5)"/>
<ellipse cx="39.8" cy="112.6" rx="1.8" ry="1.3" fill="#9392cd" opacity="0.75" transform="rotate(146 39.8 112.6)"/>
<ellipse cx="35.9" cy="123.2" rx="2.1" ry="2.0" fill="#a2a1d6" opacity="0.93" transform="rotate(115 35.9 123.2)"/>
<ellipse cx="44.7" cy="121.6" rx="0.9" ry="0.9" fill="#a2a1d6" opacity="0.77" transform="rotate(99 44.7 121.6)"/>
<ellipse cx="45.0" cy="104.9" rx="0.9" ry="0.7" fill="#b3b2dd" opacity="0.95" transform="rotate(78 45.0 104.9)"/>
<ellipse cx="48.3" cy="106.8" rx="1.4" ry="1.4" fill="#9392cd" opacity="0.78" transform="rotate(106 48.3 106.8)"/>
<ellipse cx="49.4" cy="118.5" rx="1.8" ry="1.5" fill="#9392cd" opacity="0.79" transform="rotate(111 49.4 118.5)"/>
<ellipse cx="50.1" cy="115.4" rx="0.9" ry="0.8" fill="#9392cd" opacity="0.64" transform="rotate(101 50.1 115.4)"/>
<ellipse cx="34.0" cy="120.1" rx="0.9" ry="0.7" fill="#b3b2dd" opacity="0.87" transform="rotate(40 34.0 120.1)"/>
<ellipse cx="32.1" cy="114.6" rx="2.1" ry="1.6" fill="#9392cd" opacity="0.81" transform="rotate(99 32.1 114.6)"/>
<ellipse cx="33.3" cy="117.0" rx="1.6" ry="1.3" fill="#9392cd" opacity="0.75" transform="rotate(138 33.3 117.0)"/>
<ellipse cx="39.9" cy="121.8" rx="0.8" ry="0.8" fill="#9392cd" opacity="0.78" transform="rotate(45 39.9 121.8)"/>
<ellipse cx="35.4" cy="116.5" rx="1.3" ry="0.8" fill="#b3b2dd" opacity="0.58" transform="rotate(9 35.4 116.5)"/>
<ellipse cx="38.7" cy="106.2" rx="0.8" ry="0.4" fill="#9392cd" opacity="0.91" transform="rotate(12 38.7 106.2)"/>
<ellipse cx="37.4" cy="109.4" rx="1.3" ry="0.8" fill="#b3b2dd" opacity="0.89" transform="rotate(66 37.4 109.4)"/>
<ellipse cx="39.3" cy="117.5" rx="0.9" ry="0.7" fill="#9392cd" opacity="0.56" transform="rotate(145 39.3 117.5)"/>
<ellipse cx="42.2" cy="120.5" rx="1.6" ry="1.0" fill="#9392cd" opacity="0.83" transform="rotate(132 42.2 120.5)"/>
<ellipse cx="40.4" cy="122.6" rx="1.5" ry="1.0" fill="#9392cd" opacity="0.55" transform="rotate(156 40.4 122.6)"/>
<ellipse cx="43.4" cy="124.0" rx="2.0" ry="1.2" fill="#a2a1d6" opacity="0.88" transform="rotate(131 43.4 124.0)"/>
<ellipse cx="37.7" cy="105.5" rx="0.9" ry="0.5" fill="#b3b2dd" opacity="0.92" transform="rotate(151 37.7 105.5)"/>
<ellipse cx="44.5" cy="114.5" rx="1.4" ry="1.2" fill="#9392cd" opacity="0.66" transform="rotate(107 44.5 114.5)"/>
<ellipse cx="32.4" cy="110.2" rx="1.0" ry="0.8" fill="#9392cd" opacity="0.60" transform="rotate(104 32.4 110.2)"/>
<ellipse cx="43.0" cy="109.8" rx="1.6" ry="1.5" fill="#b3b2dd" opacity="0.94" transform="rotate(61 43.0 109.8)"/>
<ellipse cx="41.1" cy="114.7" rx="2.0" ry="1.2" fill="#9392cd" opacity="0.73" transform="rotate(136 41.1 114.7)"/>
<ellipse cx="50.1" cy="111.1" rx="1.2" ry="1.0" fill="#9392cd" opacity="0.86" transform="rotate(45 50.1 111.1)"/>
<ellipse cx="38.6" cy="107.3" rx="0.9" ry="0.7" fill="#a2a1d6" opacity="0.59" transform="rotate(124 38.6 107.3)"/>
<ellipse cx="47.2" cy="111.0" rx="1.6" ry="1.0" fill="#a2a1d6" opacity="0.77" transform="rotate(156 47.2 111.0)"/>
<ellipse cx="36.3" cy="108.4" rx="1.7" ry="1.1" fill="#9392cd" opacity="0.77" transform="rotate(131 36.3 108.4)"/>
<ellipse cx="35.1" cy="108.9" rx="1.7" ry="1.1" fill="#b3b2dd" opacity="0.64" transform="rotate(144 35.1 108.9)"/>
<ellipse cx="41.2" cy="124.4" rx="0.7" ry="0.6" fill="#9392cd" opacity="0.84" transform="rotate(173 41.2 124.4)"/>
<ellipse cx="34.6" cy="117.4" rx="1.6" ry="1.1" fill="#9392cd" opacity="0.81" transform="rotate(4 34.6 117.4)"/>
<ellipse cx="36.1" cy="120.6" rx="1.5" ry="1.5" fill="#a2a1d6" opacity="0.89" transform="rotate(140 36.1 120.6)"/>
<ellipse cx="42.5" cy="122.3" rx="1.3" ry="1.0" fill="#9392cd" opacity="0.88" transform="rotate(162 42.5 122.3)"/>
<ellipse cx="43.2" cy="122.7" rx="2.0" ry="1.3" fill="#a2a1d6" opacity="0.73" transform="rotate(48 43.2 122.7)"/>
<ellipse cx="39.0" cy="121.9" rx="1.5" ry="0.9" fill="#9392cd" opacity="0.72" transform="rotate(166 39.0 121.9)"/>
<ellipse cx="46.1" cy="122.4" rx="1.6" ry="1.4" fill="#9392cd" opacity="0.86" transform="rotate(165 46.1 122.4)"/>
<ellipse cx="35.3" cy="122.8" rx="1.7" ry="1.3" fill="#9392cd" opacity="0.94" transform="rotate(128 35.3 122.8)"/>
<ellipse cx="49.1" cy="115.0" rx="1.1" ry="0.9" fill="#a2a1d6" opacity="0.56" transform="rotate(128 49.1 115.0)"/>
<ellipse cx="28.6" cy="125.6" rx="0.8" ry="0.7" fill="#9392cd" opacity="0.80" transform="rotate(117 28.6 125.6)"/>
<ellipse cx="29.7" cy="125.2" rx="2.1" ry="1.4" fill="#a2a1d6" opacity="0.62" transform="rotate(58 29.7 125.2)"/>
<ellipse cx="27.5" cy="125.8" rx="1.5" ry="1.4" fill="#9392cd" opacity="0.67" transform="rotate(66 27.5 125.8)"/>
<ellipse cx="26.9" cy="115.2" rx="1.5" ry="1.0" fill="#a2a1d6" opacity="0.88" transform="rotate(124 26.9 115.2)"/>
<ellipse cx="27.1" cy="121.0" rx="1.5" ry="1.3" fill="#9392cd" opacity="0.63" transform="rotate(170 27.1 121.0)"/>
<ellipse cx="31.5" cy="118.3" rx="1.1" ry="0.7" fill="#b3b2dd" opacity="0.65" transform="rotate(120 31.5 118.3)"/>
<ellipse cx="26.6" cy="114.0" rx="2.0" ry="1.7" fill="#9392cd" opacity="0.71" transform="rotate(44 26.6 114.0)"/>
<ellipse cx="28.6" cy="118.7" rx="0.8" ry="0.7" fill="#b3b2dd" opacity="0.60" transform="rotate(37 28.6 118.7)"/>
<ellipse cx="23.5" cy="118.9" rx="1.2" ry="1.2" fill="#9392cd" opacity="0.76" transform="rotate(9 23.5 118.9)"/>
<ellipse cx="29.5" cy="119.3" rx="1.0" ry="0.7" fill="#b3b2dd" opacity="0.70" transform="rotate(24 29.5 119.3)"/>
<ellipse cx="35.4" cy="123.9" rx="1.3" ry="1.2" fill="#9392cd" opacity="0.67" transform="rotate(66 35.4 123.9)"/>
<ellipse cx="31.1" cy="110.7" rx="0.8" ry="0.5" fill="#9392cd" opacity="0.63" transform="rotate(46 31.1 110.7)"/>
<ellipse cx="21.7" cy="118.3" rx="2.0" ry="2.0" fill="#a2a1d6" opacity="0.57" transform="rotate(109 21.7 118.3)"/>
<ellipse cx="31.9" cy="121.6" rx="1.0" ry="0.9" fill="#b3b2dd" opacity="0.68" transform="rotate(15 31.9 121.6)"/>
<ellipse cx="23.9" cy="112.5" rx="0.9" ry="0.6" fill="#b3b2dd" opacity="0.60" transform="rotate(101 23.9 112.5)"/>
<ellipse cx="25.3" cy="116.1" rx="2.0" ry="1.3" fill="#9392cd" opacity="0.85" transform="rotate(61 25.3 116.1)"/>
<ellipse cx="22.0" cy="118.7" rx="0.7" ry="0.6" fill="#a2a1d6" opacity="0.67" transform="rotate(59 22.0 118.7)"/>
<ellipse cx="33.5" cy="114.3" rx="2.0" ry="1.7" fill="#9392cd" opacity="0.82" transform="rotate(89 33.5 114.3)"/>
<ellipse cx="28.8" cy="113.5" rx="0.8" ry="0.5" fill="#9392cd" opacity="0.93" transform="rotate(115 28.8 113.5)"/>
<ellipse cx="24.5" cy="117.0" rx="1.6" ry="1.0" fill="#9392cd" opacity="0.77" transform="rotate(158 24.5 117.0)"/>
<ellipse cx="22.6" cy="114.2" rx="0.9" ry="0.9" fill="#b3b2dd" opacity="0.63" transform="rotate(118 22.6 114.2)"/>
<ellipse cx="22.7" cy="120.5" rx="1.5" ry="1.1" fill="#9392cd" opacity="0.62" transform="rotate(19 22.7 120.5)"/>
<ellipse cx="26.8" cy="109.8" rx="1.7" ry="1.6" fill="#a2a1d6" opacity="0.88" transform="rotate(17 26.8 109.8)"/>
<ellipse cx="27.6" cy="121.9" rx="2.0" ry="1.6" fill="#9392cd" opacity="0.69" transform="rotate(115 27.6 121.9)"/>
<ellipse cx="28.7" cy="126.7" rx="1.8" ry="1.3" fill="#9392cd" opacity="0.81" transform="rotate(82 28.7 126.7)"/>
<ellipse cx="21.6" cy="117.3" rx="1.0" ry="0.9" fill="#9392cd" opacity="0.92" transform="rotate(144 21.6 117.3)"/>
<ellipse cx="29.7" cy="117.5" rx="1.5" ry="1.4" fill="#a2a1d6" opacity="0.63" transform="rotate(54 29.7 117.5)"/>
<ellipse cx="35.2" cy="113.7" rx="0.9" ry="0.7" fill="#b3b2dd" opacity="0.88" transform="rotate(72 35.2 113.7)"/>
<ellipse cx="28.8" cy="122.8" rx="1.0" ry="0.8" fill="#9392cd" opacity="0.72" transform="rotate(167 28.8 122.8)"/>
<ellipse cx="29.3" cy="113.2" rx="1.7" ry="1.7" fill="#a2a1d6" opacity="0.68" transform="rotate(15 29.3 113.2)"/>
<ellipse cx="25.5" cy="113.1" rx="1.7" ry="1.5" fill="#9392cd" opacity="0.64" transform="rotate(62 25.5 113.1)"/>
<ellipse cx="28.5" cy="115.2" rx="1.9" ry="1.4" fill="#a2a1d6" opacity="0.71" transform="rotate(55 28.5 115.2)"/>
<ellipse cx="25.7" cy="113.3" rx="0.8" ry="0.6" fill="#b3b2dd" opacity="0.84" transform="rotate(107 25.7 113.3)"/>
<ellipse cx="33.2" cy="120.2" rx="1.2" ry="0.8" fill="#9392cd" opacity="0.66" transform="rotate(121 33.2 120.2)"/>
<ellipse cx="33.2" cy="122.7" rx="1.3" ry="1.1" fill="#a2a1d6" opacity="0.58" transform="rotate(154 33.2 122.7)"/>
<ellipse cx="37.3" cy="115.7" rx="1.5" ry="0.9" fill="#9392cd" opacity="0.74" transform="rotate(74 37.3 115.7)"/>
<ellipse cx="33.8" cy="112.9" rx="1.6" ry="0.9" fill="#9392cd" opacity="0.83" transform="rotate(88 33.8 112.9)"/>
<ellipse cx="33.5" cy="117.6" rx="1.3" ry="0.8" fill="#9392cd" opacity="0.72" transform="rotate(76 33.5 117.6)"/>
<ellipse cx="32.7" cy="113.9" rx="0.8" ry="0.7" fill="#a2a1d6" opacity="0.66" transform="rotate(146 32.7 113.9)"/>
<ellipse cx="29.5" cy="122.2" rx="2.1" ry="1.2" fill="#9392cd" opacity="0.63" transform="rotate(174 29.5 122.2)"/>
<ellipse cx="24.9" cy="117.9" rx="2.1" ry="2.0" fill="#9392cd" opacity="0.67" transform="rotate(37 24.9 117.9)"/>
<ellipse cx="28.8" cy="120.4" rx="1.2" ry="0.9" fill="#9392cd" opacity="0.93" transform="rotate(121 28.8 120.4)"/>
<ellipse cx="28.1" cy="118.8" rx="1.1" ry="0.8" fill="#a2a1d6" opacity="0.55" transform="rotate(70 28.1 118.8)"/>
<ellipse cx="32.0" cy="114.4" rx="1.6" ry="0.9" fill="#b3b2dd" opacity="0.70" transform="rotate(19 32.0 114.4)"/>
<ellipse cx="24.6" cy="111.5" rx="1.4" ry="0.8" fill="#a2a1d6" opacity="0.72" transform="rotate(3 24.6 111.5)"/>
<ellipse cx="30.9" cy="124.9" rx="1.3" ry="1.3" fill="#b3b2dd" opacity="0.70" transform="rotate(29 30.9 124.9)"/>
<ellipse cx="26.0" cy="113.7" rx="0.9" ry="0.5" fill="#a2a1d6" opacity="0.95" transform="rotate(122 26.0 113.7)"/>
<ellipse cx="31.2" cy="115.1" rx="1.1" ry="0.9" fill="#9392cd" opacity="0.58" transform="rotate(165 31.2 115.1)"/>
<ellipse cx="31.8" cy="125.6" rx="1.3" ry="0.9" fill="#9392cd" opacity="0.95" transform="rotate(14 31.8 125.6)"/>
<ellipse cx="29.1" cy="111.8" rx="0.7" ry="0.5" fill="#9392cd" opacity="0.57" transform="rotate(156 29.1 111.8)"/>
<ellipse cx="34.8" cy="125.2" rx="1.1" ry="0.9" fill="#9392cd" opacity="0.86" transform="rotate(130 34.8 125.2)"/>
<ellipse cx="25.3" cy="119.0" rx="1.2" ry="1.1" fill="#9392cd" opacity="0.67" transform="rotate(140 25.3 119.0)"/>
<ellipse cx="36.3" cy="123.6" rx="0.8" ry="0.7" fill="#9392cd" opacity="0.94" transform="rotate(147 36.3 123.6)"/>
<ellipse cx="27.4" cy="114.6" rx="1.6" ry="1.6" fill="#a2a1d6" opacity="0.64" transform="rotate(40 27.4 114.6)"/>
<ellipse cx="30.9" cy="113.2" rx="1.1" ry="0.9" fill="#9392cd" opacity="0.67" transform="rotate(173 30.9 113.2)"/>
<ellipse cx="49.8" cy="110.5" rx="1.4" ry="1.4" fill="#a2a1d6" opacity="0.61" transform="rotate(13 49.8 110.5)"/>
<ellipse cx="56.2" cy="126.3" rx="1.1" ry="1.0" fill="#a2a1d6" opacity="0.73" transform="rotate(158 56.2 126.3)"/>
<ellipse cx="53.5" cy="112.1" rx="1.5" ry="0.9" fill="#9392cd" opacity="0.87" transform="rotate(98 53.5 112.1)"/>
<ellipse cx="50.9" cy="124.2" rx="1.1" ry="1.1" fill="#a2a1d6" opacity="0.74" transform="rotate(73 50.9 124.2)"/>
<ellipse cx="57.1" cy="112.8" rx="1.9" ry="1.6" fill="#9392cd" opacity="0.80" transform="rotate(131 57.1 112.8)"/>
<ellipse cx="53.8" cy="126.7" rx="1.2" ry="0.9" fill="#9392cd" opacity="0.70" transform="rotate(159 53.8 126.7)"/>
<ellipse cx="55.5" cy="128.2" rx="1.9" ry="1.8" fill="#a2a1d6" opacity="0.67" transform="rotate(40 55.5 128.2)"/>
<ellipse cx="63.4" cy="120.7" rx="1.5" ry="1.4" fill="#b3b2dd" opacity="0.71" transform="rotate(34 63.4 120.7)"/>
<ellipse cx="51.1" cy="120.2" rx="1.1" ry="0.7" fill="#9392cd" opacity="0.56" transform="rotate(106 51.1 120.2)"/>
<ellipse cx="48.4" cy="120.1" rx="1.9" ry="1.8" fill="#b3b2dd" opacity="0.91" transform="rotate(75 48.4 120.1)"/>
<ellipse cx="49.5" cy="120.2" rx="1.2" ry="1.2" fill="#b3b2dd" opacity="0.77" transform="rotate(35 49.5 120.2)"/>
<ellipse cx="53.0" cy="119.0" rx="1.6" ry="1.1" fill="#9392cd" opacity="0.70" transform="rotate(136 53.0 119.0)"/>
<ellipse cx="52.4" cy="117.7" rx="2.0" ry="1.4" fill="#b3b2dd" opacity="0.77" transform="rotate(128 52.4 117.7)"/>
<ellipse cx="58.3" cy="117.2" rx="1.9" ry="1.5" fill="#9392cd" opacity="0.67" transform="rotate(122 58.3 117.2)"/>
<ellipse cx="54.3" cy="124.8" rx="1.9" ry="1.7" fill="#b3b2dd" opacity="0.81" transform="rotate(5 54.3 124.8)"/>
<ellipse cx="53.0" cy="127.3" rx="1.4" ry="1.0" fill="#b3b2dd" opacity="0.60" transform="rotate(171 53.0 127.3)"/>
<ellipse cx="48.1" cy="114.7" rx="1.8" ry="1.0" fill="#a2a1d6" opacity="0.73" transform="rotate(10 48.1 114.7)"/>
<ellipse cx="47.7" cy="123.6" rx="0.8" ry="0.5" fill="#9392cd" opacity="0.82" transform="rotate(172 47.7 123.6)"/>
<ellipse cx="54.8" cy="117.2" rx="1.2" ry="1.1" fill="#a2a1d6" opacity="0.79" transform="rotate(125 54.8 117.2)"/>
<ellipse cx="56.3" cy="114.2" rx="0.9" ry="0.6" fill="#b3b2dd" opacity="0.69" transform="rotate(148 56.3 114.2)"/>
<ellipse cx="56.1" cy="113.3" rx="1.6" ry="1.2" fill="#9392cd" opacity="0.56" transform="rotate(121 56.1 113.3)"/>
<ellipse cx="57.8" cy="113.1" rx="1.7" ry="1.1" fill="#9392cd" opacity="0.61" transform="rotate(152 57.8 113.1)"/>
<ellipse cx="48.5" cy="114.5" rx="1.7" ry="1.4" fill="#a2a1d6" opacity="0.93" transform="rotate(126 48.5 114.5)"/>
<ellipse cx="57.0" cy="124.9" rx="1.7" ry="1.6" fill="#9392cd" opacity="0.67" transform="rotate(166 57.0 124.9)"/>
<ellipse cx="58.5" cy="127.9" rx="1.4" ry="1.1" fill="#9392cd" opacity="0.86" transform="rotate(12 58.5 127.9)"/>
<ellipse cx="56.2" cy="127.4" rx="1.0" ry="1.0" fill="#9392cd" opacity="0.66" transform="rotate(130 56.2 127.4)"/>
<ellipse cx="52.9" cy="125.2" rx="1.7" ry="1.5" fill="#9392cd" opacity="0.61" transform="rotate(138 52.9 125.2)"/>
<ellipse cx="49.7" cy="114.9" rx="1.0" ry="0.8" fill="#b3b2dd" opacity="0.67" transform="rotate(22 49.7 114.9)"/>
<ellipse cx="50.2" cy="117.7" rx="1.6" ry="1.5" fill="#9392cd" opacity="0.79" transform="rotate(97 50.2 117.7)"/>
<ellipse cx="53.1" cy="116.9" rx="1.1" ry="0.8" fill="#9392cd" opacity="0.88" transform="rotate(103 53.1 116.9)"/>
<ellipse cx="48.1" cy="115.8" rx="0.8" ry="0.8" fill="#9392cd" opacity="0.95" transform="rotate(96 48.1 115.8)"/>
<ellipse cx="57.8" cy="116.1" rx="1.5" ry="1.5" fill="#9392cd" opacity="0.61" transform="rotate(112 57.8 116.1)"/>
<ellipse cx="53.5" cy="128.7" rx="1.0" ry="0.9" fill="#a2a1d6" opacity="0.89" transform="rotate(16 53.5 128.7)"/>
<ellipse cx="60.4" cy="124.2" rx="1.0" ry="0.9" fill="#a2a1d6" opacity="0.74" transform="rotate(108 60.4 124.2)"/>
<ellipse cx="60.3" cy="120.2" rx="1.2" ry="0.7" fill="#9392cd" opacity="0.58" transform="rotate(138 60.3 120.2)"/>
<ellipse cx="53.0" cy="113.6" rx="1.3" ry="1.2" fill="#b3b2dd" opacity="0.61" transform="rotate(104 53.0 113.6)"/>
<ellipse cx="51.2" cy="125.3" rx="1.2" ry="0.8" fill="#b3b2dd" opacity="0.63" transform="rotate(69 51.2 125.3)"/>
<ellipse cx="62.7" cy="120.9" rx="1.5" ry="1.2" fill="#b3b2dd" opacity="0.75" transform="rotate(163 62.7 120.9)"/>
<ellipse cx="56.2" cy="112.3" rx="1.1" ry="0.8" fill="#a2a1d6" opacity="0.81" transform="rotate(115 56.2 112.3)"/>
<ellipse cx="50.1" cy="121.2" rx="1.8" ry="1.6" fill="#9392cd" opacity="0.82" transform="rotate(31 50.1 121.2)"/>
<ellipse cx="51.7" cy="123.5" rx="1.2" ry="0.9" fill="#b3b2dd" opacity="0.93" transform="rotate(135 51.7 123.5)"/>
<ellipse cx="54.8" cy="116.9" rx="1.4" ry="0.9" fill="#b3b2dd" opacity="0.61" transform="rotate(115 54.8 116.9)"/>
<ellipse cx="46.8" cy="119.1" rx="1.4" ry="1.2" fill="#9392cd" opacity="0.83" transform="rotate(88 46.8 119.1)"/>
<ellipse cx="56.4" cy="126.0" rx="1.4" ry="1.3" fill="#b3b2dd" opacity="0.57" transform="rotate(60 56.4 126.0)"/>
<ellipse cx="56.5" cy="117.8" rx="0.9" ry="0.7" fill="#a2a1d6" opacity="0.70" transform="rotate(105 56.5 117.8)"/>
<ellipse cx="58.7" cy="115.8" rx="1.9" ry="1.3" fill="#9392cd" opacity="0.69" transform="rotate(80 58.7 115.8)"/>
<ellipse cx="55.4" cy="118.2" rx="1.3" ry="1.2" fill="#a2a1d6" opacity="0.90" transform="rotate(164 55.4 118.2)"/>
<ellipse cx="52.2" cy="126.2" rx="1.2" ry="0.8" fill="#9392cd" opacity="0.58" transform="rotate(68 52.2 126.2)"/>
<ellipse cx="55.3" cy="111.4" rx="1.1" ry="0.6" fill="#9392cd" opacity="0.56" transform="rotate(130 55.3 111.4)"/>
<ellipse cx="47.3" cy="117.1" rx="1.9" ry="1.5" fill="#b3b2dd" opacity="0.75" transform="rotate(36 47.3 117.1)"/>
<ellipse cx="51.9" cy="117.1" rx="1.2" ry="0.9" fill="#9392cd" opacity="0.63" transform="rotate(31 51.9 117.1)"/>
<ellipse cx="59.9" cy="121.7" rx="1.5" ry="1.3" fill="#a2a1d6" opacity="0.73" transform="rotate(158 59.9 121.7)"/>
<ellipse cx="49.6" cy="113.7" rx="0.9" ry="0.5" fill="#9392cd" opacity="0.90" transform="rotate(144 49.6 113.7)"/>
<ellipse cx="54.3" cy="121.0" rx="1.4" ry="0.8" fill="#a2a1d6" opacity="0.76" transform="rotate(68 54.3 121.0)"/>
<ellipse cx="56.5" cy="113.5" rx="1.7" ry="1.5" fill="#9392cd" opacity="0.63" transform="rotate(111 56.5 113.5)"/>
<ellipse cx="49.8" cy="123.9" rx="1.2" ry="0.7" fill="#b3b2dd" opacity="0.61" transform="rotate(27 49.8 123.9)"/>
<ellipse cx="54.5" cy="109.9" rx="1.2" ry="1.2" fill="#9392cd" opacity="0.58" transform="rotate(175 54.5 109.9)"/>
<ellipse cx="57.4" cy="127.0" rx="1.6" ry="1.5" fill="#9392cd" opacity="0.67" transform="rotate(125 57.4 127.0)"/>
<ellipse cx="60.6" cy="126.4" rx="1.7" ry="1.4" fill="#b3b2dd" opacity="0.61" transform="rotate(70 60.6 126.4)"/>
<ellipse cx="50.5" cy="110.6" rx="1.4" ry="1.0" fill="#b3b2dd" opacity="0.62" transform="rotate(146 50.5 110.6)"/>
<ellipse cx="52.5" cy="117.6" rx="1.8" ry="1.4" fill="#a2a1d6" opacity="0.82" transform="rotate(28 52.5 117.6)"/>
<ellipse cx="52.2" cy="124.5" rx="0.9" ry="0.7" fill="#9392cd" opacity="0.81" transform="rotate(76 52.2 124.5)"/>
<ellipse cx="54.1" cy="111.1" rx="0.9" ry="0.8" fill="#a2a1d6" opacity="0.79" transform="rotate(82 54.1 111.1)"/>
<ellipse cx="61.4" cy="114.6" rx="0.8" ry="0.6" fill="#9392cd" opacity="0.93" transform="rotate(76 61.4 114.6)"/>
<ellipse cx="53.4" cy="116.1" rx="2.1" ry="1.4" fill="#a2a1d6" opacity="0.89" transform="rotate(40 53.4 116.1)"/>
<ellipse cx="46.3" cy="120.9" rx="1.4" ry="0.9" fill="#a2a1d6" opacity="0.70" transform="rotate(17 46.3 120.9)"/>
<ellipse cx="51.3" cy="112.6" rx="1.7" ry="1.5" fill="#9392cd" opacity="0.73" transform="rotate(140 51.3 112.6)"/>
<ellipse cx="54.1" cy="122.9" rx="2.0" ry="1.4" fill="#9392cd" opacity="0.59" transform="rotate(135 54.1 122.9)"/>
<ellipse cx="54.9" cy="118.7" rx="1.3" ry="0.7" fill="#9392cd" opacity="0.65" transform="rotate(178 54.9 118.7)"/>
<ellipse cx="63.3" cy="117.1" rx="0.9" ry="0.5" fill="#9392cd" opacity="0.83" transform="rotate(72 63.3 117.1)"/>
<ellipse cx="67.3" cy="118.3" rx="1.6" ry="1.2" fill="#9392cd" opacity="0.84" transform="rotate(157 67.3 118.3)"/>
<ellipse cx="67.6" cy="117.5" rx="1.1" ry="1.0" fill="#9392cd" opacity="0.88" transform="rotate(176 67.6 117.5)"/>
<ellipse cx="60.8" cy="103.7" rx="1.4" ry="1.2" fill="#9392cd" opacity="0.65" transform="rotate(3 60.8 103.7)"/>
<ellipse cx="66.5" cy="114.7" rx="1.5" ry="1.0" fill="#b3b2dd" opacity="0.93" transform="rotate(63 66.5 114.7)"/>
<ellipse cx="61.0" cy="112.9" rx="1.6" ry="1.3" fill="#b3b2dd" opacity="0.63" transform="rotate(83 61.0 112.9)"/>
<ellipse cx="57.8" cy="112.2" rx="0.9" ry="0.6" fill="#b3b2dd" opacity="0.85" transform="rotate(36 57.8 112.2)"/>
<ellipse cx="69.6" cy="116.7" rx="1.6" ry="1.3" fill="#a2a1d6" opacity="0.61" transform="rotate(70 69.6 116.7)"/>
<ellipse cx="69.3" cy="116.9" rx="2.1" ry="1.8" fill="#b3b2dd" opacity="0.61" transform="rotate(135 69.3 116.9)"/>
<ellipse cx="61.2" cy="108.0" rx="0.9" ry="0.9" fill="#b3b2dd" opacity="0.91" transform="rotate(78 61.2 108.0)"/>
<ellipse cx="59.3" cy="113.6" rx="0.7" ry="0.7" fill="#9392cd" opacity="0.84" transform="rotate(155 59.3 113.6)"/>
<ellipse cx="56.0" cy="110.3" rx="1.1" ry="1.1" fill="#9392cd" opacity="0.83" transform="rotate(123 56.0 110.3)"/>
<ellipse cx="69.0" cy="105.7" rx="0.9" ry="0.6" fill="#b3b2dd" opacity="0.56" transform="rotate(101 69.0 105.7)"/>
<ellipse cx="59.6" cy="112.0" rx="2.0" ry="1.5" fill="#9392cd" opacity="0.74" transform="rotate(80 59.6 112.0)"/>
<ellipse cx="65.4" cy="117.7" rx="1.5" ry="1.3" fill="#9392cd" opacity="0.61" transform="rotate(83 65.4 117.7)"/>
<ellipse cx="72.4" cy="110.8" rx="0.9" ry="0.7" fill="#9392cd" opacity="0.88" transform="rotate(153 72.4 110.8)"/>
<ellipse cx="64.3" cy="120.4" rx="1.1" ry="0.8" fill="#a2a1d6" opacity="0.58" transform="rotate(32 64.3 120.4)"/>
<ellipse cx="66.6" cy="119.0" rx="2.1" ry="1.9" fill="#9392cd" opacity="0.81" transform="rotate(32 66.6 119.0)"/>
<ellipse cx="57.2" cy="107.8" rx="1.4" ry="0.9" fill="#9392cd" opacity="0.73" transform="rotate(97 57.2 107.8)"/>
<ellipse cx="61.8" cy="119.3" rx="2.1" ry="1.7" fill="#a2a1d6" opacity="0.62" transform="rotate(53 61.8 119.3)"/>
<ellipse cx="66.6" cy="108.7" rx="2.0" ry="1.9" fill="#9392cd" opacity="0.74" transform="rotate(165 66.6 108.7)"/>
<ellipse cx="73.2" cy="110.8" rx="1.2" ry="0.9" fill="#a2a1d6" opacity="0.65" transform="rotate(143 73.2 110.8)"/>
<ellipse cx="59.0" cy="118.4" rx="0.8" ry="0.4" fill="#9392cd" opacity="0.68" transform="rotate(92 59.0 118.4)"/>
<ellipse cx="69.9" cy="109.5" rx="1.7" ry="1.3" fill="#a2a1d6" opacity="0.58" transform="rotate(55 69.9 109.5)"/>
<ellipse cx="70.6" cy="114.8" rx="0.8" ry="0.8" fill="#a2a1d6" opacity="0.67" transform="rotate(159 70.6 114.8)"/>
<ellipse cx="60.3" cy="108.4" rx="1.0" ry="0.7" fill="#9392cd" opacity="0.71" transform="rotate(153 60.3 108.4)"/>
<ellipse cx="59.6" cy="110.5" rx="1.0" ry="0.7" fill="#9392cd" opacity="0.64" transform="rotate(110 59.6 110.5)"/>
<ellipse cx="61.9" cy="109.8" rx="2.0" ry="1.7" fill="#a2a1d6" opacity="0.62" transform="rotate(30 61.9 109.8)"/>
<ellipse cx="68.6" cy="109.7" rx="2.0" ry="2.0" fill="#b3b2dd" opacity="0.93" transform="rotate(170 68.6 109.7)"/>
<ellipse cx="59.3" cy="104.8" rx="0.9" ry="0.5" fill="#9392cd" opacity="0.67" transform="rotate(3 59.3 104.8)"/>
<ellipse cx="57.0" cy="113.4" rx="0.9" ry="0.8" fill="#9392cd" opacity="0.84" transform="rotate(133 57.0 113.4)"/>
<ellipse cx="61.4" cy="117.0" rx="1.3" ry="1.1" fill="#9392cd" opacity="0.64" transform="rotate(139 61.4 117.0)"/>
<ellipse cx="67.3" cy="119.9" rx="1.1" ry="1.0" fill="#9392cd" opacity="0.62" transform="rotate(70 67.3 119.9)"/>
<ellipse cx="73.0" cy="111.7" rx="1.6" ry="1.3" fill="#a2a1d6" opacity="0.72" transform="rotate(78 73.0 111.7)"/>
<ellipse cx="72.3" cy="114.0" rx="2.0" ry="1.5" fill="#a2a1d6" opacity="0.81" transform="rotate(69 72.3 114.0)"/>
<ellipse cx="62.7" cy="104.1" rx="1.2" ry="1.0" fill="#a2a1d6" opacity="0.66" transform="rotate(167 62.7 104.1)"/>
<ellipse cx="73.2" cy="113.3" rx="0.8" ry="0.7" fill="#9392cd" opacity="0.67" transform="rotate(18 73.2 113.3)"/>
<ellipse cx="66.9" cy="110.4" rx="1.7" ry="1.6" fill="#a2a1d6" opacity="0.64" transform="rotate(45 66.9 110.4)"/>
<ellipse cx="65.8" cy="104.8" rx="1.6" ry="1.1" fill="#9392cd" opacity="0.62" transform="rotate(59 65.8 104.8)"/>
<ellipse cx="65.0" cy="110.3" rx="1.9" ry="1.3" fill="#9392cd" opacity="0.71" transform="rotate(77 65.0 110.3)"/>
<ellipse cx="60.3" cy="116.1" rx="1.9" ry="1.8" fill="#b3b2dd" opacity="0.58" transform="rotate(21 60.3 116.1)"/>
<ellipse cx="64.9" cy="104.7" rx="1.9" ry="1.7" fill="#b3b2dd" opacity="0.71" transform="rotate(129 64.9 104.7)"/>
<ellipse cx="65.8" cy="103.4" rx="1.1" ry="1.0" fill="#9392cd" opacity="0.72" transform="rotate(120 65.8 103.4)"/>
<ellipse cx="68.8" cy="104.7" rx="1.2" ry="1.2" fill="#9392cd" opacity="0.93" transform="rotate(106 68.8 104.7)"/>
<ellipse cx="58.1" cy="106.7" rx="1.0" ry="0.9" fill="#a2a1d6" opacity="0.60" transform="rotate(136 58.1 106.7)"/>
<ellipse cx="70.5" cy="107.3" rx="1.7" ry="1.1" fill="#a2a1d6" opacity="0.90" transform="rotate(71 70.5 107.3)"/>
<ellipse cx="65.2" cy="111.8" rx="2.0" ry="1.3" fill="#9392cd" opacity="0.68" transform="rotate(147 65.2 111.8)"/>
<ellipse cx="63.9" cy="118.1" rx="1.3" ry="1.3" fill="#a2a1d6" opacity="0.66" transform="rotate(156 63.9 118.1)"/>
<ellipse cx="62.6" cy="110.3" rx="1.3" ry="0.8" fill="#9392cd" opacity="0.80" transform="rotate(147 62.6 110.3)"/>
<ellipse cx="60.8" cy="116.8" rx="0.9" ry="0.9" fill="#9392cd" opacity="0.73" transform="rotate(131 60.8 116.8)"/>
<ellipse cx="63.5" cy="116.6" rx="1.2" ry="1.1" fill="#9392cd" opacity="0.84" transform="rotate(62 63.5 116.6)"/>
<ellipse cx="65.7" cy="109.6" rx="0.9" ry="0.6" fill="#9392cd" opacity="0.64" transform="rotate(114 65.7 109.6)"/>
<ellipse cx="67.0" cy="112.3" rx="1.2" ry="1.0" fill="#9392cd" opacity="0.81" transform="rotate(53 67.0 112.3)"/>
<ellipse cx="70.6" cy="111.9" rx="0.9" ry="0.8" fill="#a2a1d6" opacity="0.74" transform="rotate(5 70.6 111.9)"/>
<ellipse cx="66.3" cy="104.0" rx="0.9" ry="0.7" fill="#b3b2dd" opacity="0.81" transform="rotate(4 66.3 104.0)"/>
<ellipse cx="57.4" cy="113.8" rx="2.1" ry="1.3" fill="#9392cd" opacity="0.88" transform="rotate(168 57.4 113.8)"/>
<ellipse cx="65.1" cy="115.9" rx="1.8" ry="1.1" fill="#a2a1d6" opacity="0.82" transform="rotate(72 65.1 115.9)"/>
<ellipse cx="58.6" cy="109.9" rx="1.0" ry="0.6" fill="#b3b2dd" opacity="0.81" transform="rotate(61 58.6 109.9)"/>
<ellipse cx="60.6" cy="119.5" rx="2.0" ry="1.8" fill="#b3b2dd" opacity="0.75" transform="rotate(25 60.6 119.5)"/>
<ellipse cx="67.0" cy="119.6" rx="0.9" ry="0.8" fill="#9392cd" opacity="0.80" transform="rotate(33 67.0 119.6)"/>
<ellipse cx="63.5" cy="107.2" rx="2.1" ry="2.1" fill="#9392cd" opacity="0.80" transform="rotate(19 63.5 107.2)"/>
<ellipse cx="75.6" cy="109.0" rx="1.8" ry="1.1" fill="#a2a1d6" opacity="0.81" transform="rotate(172 75.6 109.0)"/>
<ellipse cx="72.7" cy="111.3" rx="0.9" ry="0.5" fill="#9392cd" opacity="0.85" transform="rotate(28 72.7 111.3)"/>
<ellipse cx="76.0" cy="102.7" rx="1.1" ry="0.9" fill="#9392cd" opacity="0.84" transform="rotate(15 76.0 102.7)"/>
<ellipse cx="68.7" cy="110.3" rx="2.0" ry="1.7" fill="#a2a1d6" opacity="0.85" transform="rotate(142 68.7 110.3)"/>
<ellipse cx="73.5" cy="111.2" rx="1.5" ry="1.2" fill="#9392cd" opacity="0.61" transform="rotate(112 73.5 111.2)"/>
<ellipse cx="74.0" cy="110.2" rx="1.3" ry="0.9" fill="#a2a1d6" opacity="0.73" transform="rotate(87 74.0 110.2)"/>
<ellipse cx="77.1" cy="110.5" rx="2.1" ry="1.7" fill="#9392cd" opacity="0.80" transform="rotate(115 77.1 110.5)"/>
<ellipse cx="77.2" cy="103.6" rx="1.8" ry="1.6" fill="#b3b2dd" opacity="0.82" transform="rotate(138 77.2 103.6)"/>
<ellipse cx="77.3" cy="108.8" rx="1.9" ry="1.8" fill="#9392cd" opacity="0.63" transform="rotate(142 77.3 108.8)"/>
<ellipse cx="72.9" cy="104.6" rx="1.5" ry="0.9" fill="#b3b2dd" opacity="0.70" transform="rotate(147 72.9 104.6)"/>
<ellipse cx="72.0" cy="111.8" rx="0.8" ry="0.5" fill="#9392cd" opacity="0.75" transform="rotate(134 72.0 111.8)"/>
<ellipse cx="73.6" cy="107.2" rx="1.1" ry="1.0" fill="#b3b2dd" opacity="0.88" transform="rotate(121 73.6 107.2)"/>
<ellipse cx="77.5" cy="110.8" rx="2.0" ry="1.5" fill="#9392cd" opacity="0.67" transform="rotate(137 77.5 110.8)"/>
<ellipse cx="74.3" cy="102.9" rx="1.8" ry="1.1" fill="#9392cd" opacity="0.67" transform="rotate(102 74.3 102.9)"/>
<ellipse cx="71.0" cy="108.9" rx="1.0" ry="0.7" fill="#9392cd" opacity="0.77" transform="rotate(148 71.0 108.9)"/>
<ellipse cx="73.7" cy="102.5" rx="2.0" ry="1.2" fill="#a2a1d6" opacity="0.71" transform="rotate(4 73.7 102.5)"/>
<ellipse cx="72.2" cy="103.0" rx="1.4" ry="1.1" fill="#a2a1d6" opacity="0.66" transform="rotate(141 72.2 103.0)"/>
<ellipse cx="73.3" cy="111.1" rx="1.8" ry="1.6" fill="#9392cd" opacity="0.67" transform="rotate(125 73.3 111.1)"/>
<ellipse cx="76.5" cy="106.9" rx="1.6" ry="1.0" fill="#9392cd" opacity="0.56" transform="rotate(51 76.5 106.9)"/>
<ellipse cx="68.1" cy="108.9" rx="1.7" ry="1.7" fill="#b3b2dd" opacity="0.77" transform="rotate(153 68.1 108.9)"/>
<ellipse cx="75.1" cy="107.3" rx="0.9" ry="0.5" fill="#9392cd" opacity="0.71" transform="rotate(81 75.1 107.3)"/>
<ellipse cx="69.8" cy="107.5" rx="0.7" ry="0.7" fill="#b3b2dd" opacity="0.93" transform="rotate(125 69.8 107.5)"/>
<ellipse cx="74.3" cy="105.1" rx="1.7" ry="1.0" fill="#a2a1d6" opacity="0.75" transform="rotate(50 74.3 105.1)"/>
<ellipse cx="67.9" cy="104.0" rx="1.2" ry="0.8" fill="#9392cd" opacity="0.81" transform="rotate(166 67.9 104.0)"/>
<ellipse cx="72.8" cy="101.5" rx="2.0" ry="1.9" fill="#a2a1d6" opacity="0.94" transform="rotate(23 72.8 101.5)"/>
<ellipse cx="76.4" cy="107.2" rx="2.0" ry="2.0" fill="#b3b2dd" opacity="0.92" transform="rotate(74 76.4 107.2)"/>
<ellipse cx="74.4" cy="102.3" rx="1.4" ry="1.2" fill="#a2a1d6" opacity="0.63" transform="rotate(161 74.4 102.3)"/>
<ellipse cx="70.3" cy="109.5" rx="2.1" ry="1.6" fill="#9392cd" opacity="0.82" transform="rotate(166 70.3 109.5)"/>
<ellipse cx="23.8" cy="111.7" rx="1.9" ry="1.8" fill="#b3b2dd" opacity="0.67" transform="rotate(12 23.8 111.7)"/>
<ellipse cx="18.1" cy="110.7" rx="1.1" ry="0.7" fill="#9392cd" opacity="0.77" transform="rotate(32 18.1 110.7)"/>
<ellipse cx="21.0" cy="114.8" rx="1.6" ry="1.0" fill="#9392cd" opacity="0.63" transform="rotate(77 21.0 114.8)"/>
<ellipse cx="23.2" cy="113.2" rx="1.4" ry="1.1" fill="#b3b2dd" opacity="0.79" transform="rotate(173 23.2 113.2)"/>
<ellipse cx="26.5" cy="113.7" rx="0.8" ry="0.8" fill="#b3b2dd" opacity="0.59" transform="rotate(144 26.5 113.7)"/>
<ellipse cx="21.9" cy="115.9" rx="1.9" ry="1.8" fill="#b3b2dd" opacity="0.76" transform="rotate(163 21.9 115.9)"/>
<ellipse cx="25.8" cy="115.6" rx="1.7" ry="1.4" fill="#a2a1d6" opacity="0.56" transform="rotate(121 25.8 115.6)"/>
<ellipse cx="22.1" cy="108.6" rx="0.8" ry="0.6" fill="#9392cd" opacity="0.59" transform="rotate(4 22.1 108.6)"/>
<ellipse cx="23.5" cy="117.5" rx="0.9" ry="0.8" fill="#b3b2dd" opacity="0.90" transform="rotate(62 23.5 117.5)"/>
<ellipse cx="25.4" cy="115.8" rx="0.9" ry="0.7" fill="#9392cd" opacity="0.80" transform="rotate(87 25.4 115.8)"/>
<ellipse cx="22.2" cy="111.0" rx="1.1" ry="0.9" fill="#9392cd" opacity="0.62" transform="rotate(136 22.2 111.0)"/>
<ellipse cx="19.5" cy="111.9" rx="1.4" ry="1.3" fill="#9392cd" opacity="0.61" transform="rotate(147 19.5 111.9)"/>
<ellipse cx="25.0" cy="116.6" rx="1.4" ry="1.0" fill="#9392cd" opacity="0.67" transform="rotate(0 25.0 116.6)"/>
<ellipse cx="17.6" cy="112.0" rx="0.9" ry="0.8" fill="#9392cd" opacity="0.79" transform="rotate(77 17.6 112.0)"/>
<ellipse cx="24.1" cy="113.9" rx="1.0" ry="0.7" fill="#9392cd" opacity="0.87" transform="rotate(58 24.1 113.9)"/>
<ellipse cx="24.2" cy="117.5" rx="1.1" ry="0.8" fill="#9392cd" opacity="0.82" transform="rotate(86 24.2 117.5)"/>
<ellipse cx="18.5" cy="112.5" rx="1.1" ry="1.1" fill="#9392cd" opacity="0.72" transform="rotate(134 18.5 112.5)"/>
<ellipse cx="18.7" cy="111.0" rx="2.0" ry="1.6" fill="#a2a1d6" opacity="0.94" transform="rotate(47 18.7 111.0)"/>
<circle cx="39.50" cy="102.50" r="8.50" fill="#ea9f92"/>
<circle cx="33.00" cy="110.00" r="5.50" fill="#ea9f92"/>
<circle cx="58.50" cy="107.00" r="6.00" fill="#ea9f92"/>
<circle cx="45.00" cy="94.50" r="7.00" fill="#ea9f92"/>
<circle cx="31.00" cy="100.00" r="6.00" fill="#ea9f92"/>
<circle cx="20.31" cy="95.29" r="1.37" fill="#df8b7e"/>
<circle cx="21.06" cy="92.09" r="1.37" fill="#df8b7e"/>
<circle cx="23.70" cy="90.10" r="1.37" fill="#df8b7e"/>
<circle cx="26.80" cy="89.02" r="1.37" fill="#df8b7e"/>
<circle cx="29.89" cy="90.10" r="1.37" fill="#df8b7e"/>
<circle cx="32.41" cy="92.09" r="1.37" fill="#df8b7e"/>
<circle cx="33.75" cy="95.07" r="1.37" fill="#df8b7e"/>
<circle cx="33.46" cy="98.38" r="1.37" fill="#df8b7e"/>
<circle cx="31.67" cy="101.24" r="1.37" fill="#df8b7e"/>
<circle cx="28.63" cy="102.61" r="1.37" fill="#df8b7e"/>
<circle cx="25.37" cy="102.58" r="1.37" fill="#df8b7e"/>
<circle cx="22.46" cy="101.15" r="1.37" fill="#df8b7e"/>
<circle cx="20.38" cy="98.57" r="1.37" fill="#df8b7e"/>
<circle cx="26.90" cy="96.00" r="7.37" fill="#ea9f92" stroke="#df8b7e" stroke-width="0.5"/>
<circle cx="27.05" cy="96.30" r="3.76" fill="#df8b7e" opacity="0.6"/>
<circle cx="27.05" cy="96.30" r="2.51" fill="#d26c5c"/>
<circle cx="19.89" cy="110.39" r="1.51" fill="#df8b7e"/>
<circle cx="18.38" cy="106.98" r="1.51" fill="#df8b7e"/>
<circle cx="19.34" cy="103.42" r="1.51" fill="#df8b7e"/>
<circle cx="21.07" cy="100.25" r="1.51" fill="#df8b7e"/>
<circle cx="24.29" cy="98.35" r="1.51" fill="#df8b7e"/>
<circle cx="27.96" cy="98.74" r="1.51" fill="#df8b7e"/>
<circle cx="31.07" cy="100.47" r="1.51" fill="#df8b7e"/>
<circle cx="33.30" cy="103.28" r="1.51" fill="#df8b7e"/>
<circle cx="33.50" cy="106.86" r="1.51" fill="#df8b7e"/>
<circle cx="32.35" cy="110.21" r="1.51" fill="#df8b7e"/>
<circle cx="29.84" cy="112.89" r="1.51" fill="#df8b7e"/>
<circle cx="26.23" cy="113.70" r="1.51" fill="#df8b7e"/>
<circle cx="22.64" cy="112.85" r="1.51" fill="#df8b7e"/>
<circle cx="26.20" cy="106.00" r="8.15" fill="#ea9f92" stroke="#df8b7e" stroke-width="0.5"/>
<circle cx="26.37" cy="106.34" r="4.16" fill="#df8b7e" opacity="0.6"/>
<circle cx="26.37" cy="106.34" r="2.77" fill="#d26c5c"/>
<circle cx="60.80" cy="97.35" r="1.04" fill="#df8b7e"/>
<circle cx="62.43" cy="95.38" r="1.04" fill="#df8b7e"/>
<circle cx="64.87" cy="94.48" r="1.04" fill="#df8b7e"/>
<circle cx="67.42" cy="94.93" r="1.04" fill="#df8b7e"/>
<circle cx="69.38" cy="96.53" r="1.04" fill="#df8b7e"/>
<circle cx="70.54" cy="98.76" r="1.04" fill="#df8b7e"/>
<circle cx="70.59" cy="101.31" r="1.04" fill="#df8b7e"/>
<circle cx="69.27" cy="103.49" r="1.04" fill="#df8b7e"/>
<circle cx="67.12" cy="104.76" r="1.04" fill="#df8b7e"/>
<circle cx="64.67" cy="104.97" r="1.04" fill="#df8b7e"/>
<circle cx="62.21" cy="104.30" r="1.04" fill="#df8b7e"/>
<circle cx="60.86" cy="102.15" r="1.04" fill="#df8b7e"/>
<circle cx="60.35" cy="99.78" r="1.04" fill="#df8b7e"/>
<circle cx="65.40" cy="99.90" r="5.63" fill="#ea9f92" stroke="#df8b7e" stroke-width="0.5"/>
<circle cx="65.52" cy="100.13" r="2.87" fill="#df8b7e" opacity="0.6"/>
<circle cx="65.52" cy="100.13" r="1.91" fill="#d26c5c"/>
<circle cx="45.38" cy="105.31" r="0.94" fill="#df8b7e"/>
<circle cx="43.94" cy="107.06" r="0.94" fill="#df8b7e"/>
<circle cx="42.01" cy="108.13" r="0.94" fill="#df8b7e"/>
<circle cx="39.79" cy="108.30" r="0.94" fill="#df8b7e"/>
<circle cx="37.74" cy="107.33" r="0.94" fill="#df8b7e"/>
<circle cx="36.28" cy="105.55" r="0.94" fill="#df8b7e"/>
<circle cx="36.19" cy="103.26" r="0.94" fill="#df8b7e"/>
<circle cx="36.87" cy="101.13" r="0.94" fill="#df8b7e"/>
<circle cx="38.56" cy="99.69" r="0.94" fill="#df8b7e"/>
<circle cx="40.68" cy="99.02" r="0.94" fill="#df8b7e"/>
<circle cx="42.85" cy="99.54" r="0.94" fill="#df8b7e"/>
<circle cx="44.72" cy="100.84" r="0.94" fill="#df8b7e"/>
<circle cx="45.30" cy="103.04" r="0.94" fill="#df8b7e"/>
<circle cx="40.80" cy="103.70" r="5.04" fill="#ea9f92" stroke="#df8b7e" stroke-width="0.5"/>
<circle cx="40.90" cy="103.91" r="2.57" fill="#df8b7e" opacity="0.6"/>
<circle cx="40.90" cy="103.91" r="1.72" fill="#d26c5c"/>
<circle cx="51.24" cy="112.88" r="1.49" fill="#df8b7e"/>
<circle cx="47.77" cy="111.86" r="1.49" fill="#df8b7e"/>
<circle cx="45.36" cy="109.24" r="1.49" fill="#df8b7e"/>
<circle cx="43.85" cy="105.97" r="1.49" fill="#df8b7e"/>
<circle cx="44.65" cy="102.43" r="1.49" fill="#df8b7e"/>
<circle cx="46.62" cy="99.40" r="1.49" fill="#df8b7e"/>
<circle cx="49.98" cy="98.08" r="1.49" fill="#df8b7e"/>
<circle cx="53.55" cy="98.04" r="1.49" fill="#df8b7e"/>
<circle cx="56.80" cy="99.71" r="1.49" fill="#df8b7e"/>
<circle cx="58.67" cy="102.86" r="1.49" fill="#df8b7e"/>
<circle cx="58.71" cy="106.42" r="1.49" fill="#df8b7e"/>
<circle cx="57.63" cy="109.84" r="1.49" fill="#df8b7e"/>
<circle cx="54.69" cy="111.92" r="1.49" fill="#df8b7e"/>
<circle cx="51.50" cy="105.30" r="8.05" fill="#ea9f92" stroke="#df8b7e" stroke-width="0.5"/>
<circle cx="51.67" cy="105.63" r="4.11" fill="#df8b7e" opacity="0.6"/>
<circle cx="51.67" cy="105.63" r="2.74" fill="#d26c5c"/>
<circle cx="59.70" cy="96.88" r="1.76" fill="#df8b7e"/>
<circle cx="57.60" cy="100.59" r="1.76" fill="#df8b7e"/>
<circle cx="54.29" cy="103.06" r="1.76" fill="#df8b7e"/>
<circle cx="50.20" cy="104.32" r="1.76" fill="#df8b7e"/>
<circle cx="46.12" cy="102.85" r="1.76" fill="#df8b7e"/>
<circle cx="43.11" cy="99.79" r="1.76" fill="#df8b7e"/>
<circle cx="41.90" cy="95.69" r="1.76" fill="#df8b7e"/>
<circle cx="42.98" cy="91.63" r="1.76" fill="#df8b7e"/>
<circle cx="45.17" cy="87.93" r="1.76" fill="#df8b7e"/>
<circle cx="49.27" cy="86.60" r="1.76" fill="#df8b7e"/>
<circle cx="53.58" cy="86.45" r="1.76" fill="#df8b7e"/>
<circle cx="57.01" cy="89.05" r="1.76" fill="#df8b7e"/>
<circle cx="59.15" cy="92.64" r="1.76" fill="#df8b7e"/>
<circle cx="50.80" cy="95.20" r="9.51" fill="#ea9f92" stroke="#df8b7e" stroke-width="0.5"/>
<circle cx="51.00" cy="95.59" r="4.85" fill="#df8b7e" opacity="0.6"/>
<circle cx="51.00" cy="95.59" r="3.23" fill="#d26c5c"/>
<circle cx="46.73" cy="128.14" r="1.13" fill="#df8b7e"/>
<circle cx="44.38" cy="129.53" r="1.13" fill="#df8b7e"/>
<circle cx="41.79" cy="130.10" r="1.13" fill="#df8b7e"/>
<circle cx="39.25" cy="129.23" r="1.13" fill="#df8b7e"/>
<circle cx="37.16" cy="127.46" r="1.13" fill="#df8b7e"/>
<circle cx="36.50" cy="124.77" r="1.13" fill="#df8b7e"/>
<circle cx="37.20" cy="122.17" r="1.13" fill="#df8b7e"/>
<circle cx="38.70" cy="119.91" r="1.13" fill="#df8b7e"/>
<circle cx="41.22" cy="118.71" r="1.13" fill="#df8b7e"/>
<circle cx="43.91" cy="119.26" r="1.13" fill="#df8b7e"/>
<circle cx="46.32" cy="120.48" r="1.13" fill="#df8b7e"/>
<circle cx="47.75" cy="122.85" r="1.13" fill="#df8b7e"/>
<circle cx="48.00" cy="125.64" r="1.13" fill="#df8b7e"/>
<circle cx="42.20" cy="124.50" r="6.11" fill="#ea9f92" stroke="#df8b7e" stroke-width="0.5"/>
<circle cx="42.33" cy="124.75" r="3.12" fill="#df8b7e" opacity="0.6"/>
<circle cx="42.33" cy="124.75" r="2.08" fill="#d26c5c"/>
<circle cx="38.00" cy="171.00" r="16.00" fill="#dfb9c0" opacity="0.55"/>
<circle cx="52.00" cy="166.00" r="12.50" fill="#dfb9c0" opacity="0.55"/>
<circle cx="33.00" cy="184.00" r="11.00" fill="#dfb9c0" opacity="0.55"/>
<circle cx="46.00" cy="185.00" r="11.00" fill="#dfb9c0" opacity="0.55"/>
<circle cx="25.00" cy="173.00" r="7.00" fill="#dfb9c0" opacity="0.55"/>
<circle cx="66.50" cy="181.00" r="11.50" fill="#aeb0dc" opacity="0.55"/>
<circle cx="52.00" cy="192.50" r="8.50" fill="#aeb0dc" opacity="0.55"/>
<circle cx="40.00" cy="155.50" r="6.00" fill="#aeb0dc" opacity="0.55"/>
<circle cx="62.00" cy="192.00" r="7.00" fill="#aeb0dc" opacity="0.55"/>
<circle cx="29.00" cy="192.00" r="6.50" fill="#aeb0dc" opacity="0.55"/>
<ellipse cx="24.7" cy="161.7" rx="1.7" ry="1.5" fill="#9392cd" opacity="0.92" transform="rotate(7 24.7 161.7)"/>
<ellipse cx="48.2" cy="158.8" rx="1.0" ry="1.0" fill="#cf97a2" opacity="0.60" transform="rotate(120 48.2 158.8)"/>
<ellipse cx="47.0" cy="164.7" rx="0.8" ry="0.5" fill="#d9a6ad" opacity="0.64" transform="rotate(71 47.0 164.7)"/>
<ellipse cx="46.3" cy="191.3" rx="1.2" ry="1.1" fill="#9392cd" opacity="0.61" transform="rotate(158 46.3 191.3)"/>
<ellipse cx="30.6" cy="176.5" rx="2.0" ry="1.3" fill="#cf97a2" opacity="0.64" transform="rotate(42 30.6 176.5)"/>
<ellipse cx="46.0" cy="166.1" rx="1.9" ry="1.8" fill="#b98aa2" opacity="0.80" transform="rotate(46 46.0 166.1)"/>
<ellipse cx="54.7" cy="167.8" rx="2.0" ry="1.3" fill="#dba0a6" opacity="0.69" transform="rotate(42 54.7 167.8)"/>
<ellipse cx="48.2" cy="169.9" rx="1.1" ry="0.9" fill="#9392cd" opacity="0.55" transform="rotate(173 48.2 169.9)"/>
<ellipse cx="36.5" cy="168.9" rx="1.2" ry="0.9" fill="#c48b9b" opacity="0.68" transform="rotate(123 36.5 168.9)"/>
<ellipse cx="29.1" cy="175.5" rx="1.0" ry="1.0" fill="#cf97a2" opacity="0.69" transform="rotate(103 29.1 175.5)"/>
<ellipse cx="57.0" cy="176.1" rx="1.2" ry="1.1" fill="#b98aa2" opacity="0.73" transform="rotate(46 57.0 176.1)"/>
<ellipse cx="23.0" cy="160.0" rx="0.9" ry="0.8" fill="#d9a6ad" opacity="0.93" transform="rotate(88 23.0 160.0)"/>
<ellipse cx="17.7" cy="172.5" rx="1.0" ry="0.6" fill="#dba0a6" opacity="0.85" transform="rotate(94 17.7 172.5)"/>
<ellipse cx="40.6" cy="171.0" rx="1.9" ry="1.2" fill="#cf97a2" opacity="0.76" transform="rotate(92 40.6 171.0)"/>
<ellipse cx="48.9" cy="168.1" rx="1.9" ry="1.1" fill="#b98aa2" opacity="0.82" transform="rotate(78 48.9 168.1)"/>
<ellipse cx="40.6" cy="179.1" rx="0.9" ry="0.6" fill="#d48f98" opacity="0.74" transform="rotate(12 40.6 179.1)"/>
<ellipse cx="52.6" cy="181.7" rx="1.9" ry="1.2" fill="#cf97a2" opacity="0.79" transform="rotate(64 52.6 181.7)"/>
<ellipse cx="24.6" cy="177.6" rx="0.8" ry="0.4" fill="#d48f98" opacity="0.75" transform="rotate(53 24.6 177.6)"/>
<ellipse cx="50.5" cy="186.8" rx="1.9" ry="1.8" fill="#d48f98" opacity="0.72" transform="rotate(43 50.5 186.8)"/>
<ellipse cx="30.4" cy="177.2" rx="1.8" ry="1.1" fill="#c48b9b" opacity="0.92" transform="rotate(158 30.4 177.2)"/>
<ellipse cx="50.7" cy="157.8" rx="1.3" ry="1.1" fill="#dba0a6" opacity="0.68" transform="rotate(70 50.7 157.8)"/>
<ellipse cx="34.5" cy="186.6" rx="0.9" ry="0.8" fill="#dba0a6" opacity="0.76" transform="rotate(45 34.5 186.6)"/>
<ellipse cx="27.4" cy="163.7" rx="1.1" ry="0.9" fill="#cf97a2" opacity="0.76" transform="rotate(140 27.4 163.7)"/>
<ellipse cx="46.7" cy="164.9" rx="1.7" ry="1.2" fill="#9392cd" opacity="0.78" transform="rotate(8 46.7 164.9)"/>
<ellipse cx="38.8" cy="161.7" rx="1.6" ry="1.5" fill="#c48b9b" opacity="0.66" transform="rotate(176 38.8 161.7)"/>
<ellipse cx="33.5" cy="154.5" rx="1.1" ry="0.9" fill="#d9a6ad" opacity="0.55" transform="rotate(140 33.5 154.5)"/>
<ellipse cx="39.8" cy="162.5" rx="1.1" ry="1.0" fill="#c48b9b" opacity="0.81" transform="rotate(91 39.8 162.5)"/>
<ellipse cx="28.0" cy="187.4" rx="1.7" ry="1.2" fill="#9392cd" opacity="0.92" transform="rotate(44 28.0 187.4)"/>
<ellipse cx="50.2" cy="161.6" rx="2.0" ry="1.5" fill="#c48b9b" opacity="0.76" transform="rotate(42 50.2 161.6)"/>
<ellipse cx="42.1" cy="185.7" rx="1.8" ry="1.6" fill="#c48b9b" opacity="0.84" transform="rotate(106 42.1 185.7)"/>
<ellipse cx="47.0" cy="189.9" rx="1.5" ry="1.4" fill="#d48f98" opacity="0.67" transform="rotate(141 47.0 189.9)"/>
<ellipse cx="40.7" cy="157.9" rx="1.6" ry="1.0" fill="#cf97a2" opacity="0.78" transform="rotate(159 40.7 157.9)"/>
<ellipse cx="32.1" cy="166.3" rx="1.6" ry="1.4" fill="#d48f98" opacity="0.94" transform="rotate(57 32.1 166.3)"/>
<ellipse cx="48.3" cy="190.6" rx="0.8" ry="0.6" fill="#d9a6ad" opacity="0.77" transform="rotate(106 48.3 190.6)"/>
<ellipse cx="25.1" cy="176.7" rx="1.5" ry="1.0" fill="#b98aa2" opacity="0.84" transform="rotate(95 25.1 176.7)"/>
<ellipse cx="51.7" cy="174.1" rx="1.1" ry="1.0" fill="#dba0a6" opacity="0.83" transform="rotate(140 51.7 174.1)"/>
<ellipse cx="35.1" cy="176.8" rx="1.5" ry="1.0" fill="#cf97a2" opacity="0.76" transform="rotate(148 35.1 176.8)"/>
<ellipse cx="34.6" cy="185.7" rx="0.9" ry="0.8" fill="#dba0a6" opacity="0.81" transform="rotate(94 34.6 185.7)"/>
<ellipse cx="29.7" cy="175.6" rx="1.2" ry="1.2" fill="#dba0a6" opacity="0.94" transform="rotate(155 29.7 175.6)"/>
<ellipse cx="54.4" cy="184.0" rx="1.6" ry="0.9" fill="#dba0a6" opacity="0.78" transform="rotate(157 54.4 184.0)"/>
<ellipse cx="26.1" cy="171.1" rx="1.8" ry="1.3" fill="#b98aa2" opacity="0.72" transform="rotate(57 26.1 171.1)"/>
<ellipse cx="23.1" cy="174.6" rx="1.6" ry="1.6" fill="#dba0a6" opacity="0.92" transform="rotate(152 23.1 174.6)"/>
<ellipse cx="22.6" cy="164.2" rx="1.1" ry="0.8" fill="#c48b9b" opacity="0.68" transform="rotate(78 22.6 164.2)"/>
<ellipse cx="26.5" cy="174.6" rx="1.3" ry="1.1" fill="#cf97a2" opacity="0.93" transform="rotate(62 26.5 174.6)"/>
<ellipse cx="32.9" cy="191.4" rx="1.8" ry="1.4" fill="#cf97a2" opacity="0.77" transform="rotate(62 32.9 191.4)"/>
<ellipse cx="55.5" cy="166.9" rx="1.0" ry="0.9" fill="#c48b9b" opacity="0.84" transform="rotate(73 55.5 166.9)"/>
<ellipse cx="33.5" cy="189.3" rx="1.3" ry="1.2" fill="#d48f98" opacity="0.90" transform="rotate(30 33.5 189.3)"/>
<ellipse cx="45.6" cy="174.7" rx="1.1" ry="0.7" fill="#d48f98" opacity="0.67" transform="rotate(135 45.6 174.7)"/>
<ellipse cx="50.5" cy="176.0" rx="1.6" ry="1.3" fill="#9392cd" opacity="0.56" transform="rotate(64 50.5 176.0)"/>
<ellipse cx="21.2" cy="168.4" rx="0.8" ry="0.7" fill="#d48f98" opacity="0.56" transform="rotate(109 21.2 168.4)"/>
<ellipse cx="23.2" cy="164.5" rx="1.9" ry="1.5" fill="#d48f98" opacity="0.91" transform="rotate(98 23.2 164.5)"/>
<ellipse cx="20.4" cy="176.6" rx="1.6" ry="1.2" fill="#c48b9b" opacity="0.85" transform="rotate(77 20.4 176.6)"/>
<ellipse cx="47.2" cy="159.4" rx="1.3" ry="1.1" fill="#c48b9b" opacity="0.74" transform="rotate(79 47.2 159.4)"/>
<ellipse cx="47.3" cy="185.0" rx="1.4" ry="1.4" fill="#dba0a6" opacity="0.77" transform="rotate(108 47.3 185.0)"/>
<ellipse cx="21.4" cy="164.5" rx="0.8" ry="0.5" fill="#d9a6ad" opacity="0.58" transform="rotate(16 21.4 164.5)"/>
<ellipse cx="36.2" cy="171.2" rx="1.6" ry="1.6" fill="#cf97a2" opacity="0.83" transform="rotate(12 36.2 171.2)"/>
<ellipse cx="43.4" cy="179.0" rx="1.5" ry="1.5" fill="#9392cd" opacity="0.83" transform="rotate(34 43.4 179.0)"/>
<ellipse cx="56.0" cy="173.4" rx="1.3" ry="1.0" fill="#d9a6ad" opacity="0.72" transform="rotate(41 56.0 173.4)"/>
<ellipse cx="47.1" cy="177.9" rx="1.4" ry="1.0" fill="#d48f98" opacity="0.58" transform="rotate(14 47.1 177.9)"/>
<ellipse cx="31.3" cy="171.0" rx="1.2" ry="0.7" fill="#b98aa2" opacity="0.72" transform="rotate(80 31.3 171.0)"/>
<ellipse cx="32.1" cy="160.9" rx="1.2" ry="0.8" fill="#d48f98" opacity="0.57" transform="rotate(178 32.1 160.9)"/>
<ellipse cx="33.5" cy="188.8" rx="1.6" ry="1.5" fill="#c48b9b" opacity="0.77" transform="rotate(158 33.5 188.8)"/>
<ellipse cx="39.0" cy="179.0" rx="1.0" ry="0.9" fill="#9392cd" opacity="0.76" transform="rotate(34 39.0 179.0)"/>
<ellipse cx="45.1" cy="156.3" rx="1.3" ry="0.8" fill="#dba0a6" opacity="0.84" transform="rotate(167 45.1 156.3)"/>
<ellipse cx="29.1" cy="187.0" rx="0.7" ry="0.5" fill="#9392cd" opacity="0.79" transform="rotate(61 29.1 187.0)"/>
<ellipse cx="26.7" cy="182.9" rx="2.0" ry="1.8" fill="#cf97a2" opacity="0.56" transform="rotate(98 26.7 182.9)"/>
<ellipse cx="45.9" cy="176.6" rx="1.9" ry="1.8" fill="#d48f98" opacity="0.85" transform="rotate(21 45.9 176.6)"/>
<ellipse cx="55.3" cy="171.2" rx="1.8" ry="1.5" fill="#d9a6ad" opacity="0.70" transform="rotate(60 55.3 171.2)"/>
<ellipse cx="32.9" cy="193.1" rx="1.6" ry="1.2" fill="#9392cd" opacity="0.60" transform="rotate(91 32.9 193.1)"/>
<ellipse cx="26.5" cy="159.3" rx="1.3" ry="0.9" fill="#9392cd" opacity="0.56" transform="rotate(146 26.5 159.3)"/>
<ellipse cx="40.0" cy="182.5" rx="0.8" ry="0.4" fill="#cf97a2" opacity="0.63" transform="rotate(10 40.0 182.5)"/>
<ellipse cx="17.2" cy="175.2" rx="1.6" ry="0.9" fill="#c48b9b" opacity="0.74" transform="rotate(158 17.2 175.2)"/>
<ellipse cx="48.8" cy="168.5" rx="1.3" ry="0.8" fill="#d9a6ad" opacity="0.61" transform="rotate(95 48.8 168.5)"/>
<ellipse cx="51.6" cy="160.0" rx="1.3" ry="0.9" fill="#b98aa2" opacity="0.66" transform="rotate(41 51.6 160.0)"/>
<ellipse cx="38.0" cy="157.3" rx="0.7" ry="0.5" fill="#cf97a2" opacity="0.85" transform="rotate(80 38.0 157.3)"/>
<ellipse cx="54.5" cy="167.6" rx="1.6" ry="1.5" fill="#dba0a6" opacity="0.61" transform="rotate(171 54.5 167.6)"/>
<ellipse cx="31.5" cy="186.3" rx="1.0" ry="0.6" fill="#d9a6ad" opacity="0.84" transform="rotate(147 31.5 186.3)"/>
<ellipse cx="38.7" cy="179.7" rx="1.2" ry="0.9" fill="#d48f98" opacity="0.67" transform="rotate(119 38.7 179.7)"/>
<ellipse cx="34.4" cy="178.0" rx="2.0" ry="1.2" fill="#dba0a6" opacity="0.65" transform="rotate(172 34.4 178.0)"/>
<ellipse cx="39.2" cy="178.1" rx="1.5" ry="1.5" fill="#d48f98" opacity="0.55" transform="rotate(15 39.2 178.1)"/>
<ellipse cx="21.0" cy="178.9" rx="0.9" ry="0.7" fill="#cf97a2" opacity="0.95" transform="rotate(132 21.0 178.9)"/>
<ellipse cx="18.9" cy="166.1" rx="1.6" ry="1.6" fill="#d9a6ad" opacity="0.75" transform="rotate(120 18.9 166.1)"/>
<ellipse cx="48.0" cy="177.3" rx="0.8" ry="0.7" fill="#dba0a6" opacity="0.57" transform="rotate(104 48.0 177.3)"/>
<ellipse cx="21.8" cy="179.5" rx="1.8" ry="1.2" fill="#d9a6ad" opacity="0.75" transform="rotate(103 21.8 179.5)"/>
<ellipse cx="41.9" cy="183.1" rx="1.9" ry="1.1" fill="#9392cd" opacity="0.77" transform="rotate(41 41.9 183.1)"/>
<ellipse cx="21.8" cy="163.1" rx="1.0" ry="0.7" fill="#cf97a2" opacity="0.69" transform="rotate(108 21.8 163.1)"/>
<ellipse cx="26.1" cy="168.6" rx="1.5" ry="0.8" fill="#d48f98" opacity="0.85" transform="rotate(176 26.1 168.6)"/>
<ellipse cx="19.4" cy="179.8" rx="1.0" ry="0.6" fill="#cf97a2" opacity="0.74" transform="rotate(67 19.4 179.8)"/>
<ellipse cx="43.1" cy="163.6" rx="0.9" ry="0.7" fill="#cf97a2" opacity="0.83" transform="rotate(109 43.1 163.6)"/>
<ellipse cx="55.2" cy="170.6" rx="1.1" ry="0.9" fill="#dba0a6" opacity="0.57" transform="rotate(51 55.2 170.6)"/>
<ellipse cx="43.8" cy="155.6" rx="1.9" ry="1.4" fill="#cf97a2" opacity="0.68" transform="rotate(142 43.8 155.6)"/>
<ellipse cx="49.5" cy="174.0" rx="1.9" ry="1.6" fill="#d9a6ad" opacity="0.73" transform="rotate(176 49.5 174.0)"/>
<ellipse cx="26.2" cy="157.5" rx="1.6" ry="1.2" fill="#d48f98" opacity="0.59" transform="rotate(97 26.2 157.5)"/>
<ellipse cx="26.7" cy="169.6" rx="1.1" ry="0.7" fill="#d9a6ad" opacity="0.82" transform="rotate(73 26.7 169.6)"/>
<ellipse cx="53.5" cy="177.2" rx="1.7" ry="0.9" fill="#cf97a2" opacity="0.57" transform="rotate(33 53.5 177.2)"/>
<ellipse cx="44.6" cy="162.0" rx="1.0" ry="0.6" fill="#b98aa2" opacity="0.76" transform="rotate(32 44.6 162.0)"/>
<ellipse cx="30.0" cy="182.9" rx="0.7" ry="0.6" fill="#b98aa2" opacity="0.62" transform="rotate(24 30.0 182.9)"/>
<ellipse cx="36.1" cy="189.8" rx="1.5" ry="1.1" fill="#d9a6ad" opacity="0.93" transform="rotate(109 36.1 189.8)"/>
<ellipse cx="46.9" cy="181.8" rx="1.9" ry="1.5" fill="#dba0a6" opacity="0.62" transform="rotate(12 46.9 181.8)"/>
<ellipse cx="40.3" cy="154.4" rx="1.4" ry="1.1" fill="#dba0a6" opacity="0.59" transform="rotate(107 40.3 154.4)"/>
<ellipse cx="34.1" cy="165.4" rx="0.7" ry="0.5" fill="#b98aa2" opacity="0.83" transform="rotate(90 34.1 165.4)"/>
<ellipse cx="30.2" cy="179.9" rx="1.1" ry="0.7" fill="#d9a6ad" opacity="0.76" transform="rotate(61 30.2 179.9)"/>
<ellipse cx="25.1" cy="187.7" rx="1.8" ry="1.6" fill="#d48f98" opacity="0.89" transform="rotate(158 25.1 187.7)"/>
<ellipse cx="25.3" cy="174.4" rx="0.9" ry="0.7" fill="#d9a6ad" opacity="0.57" transform="rotate(43 25.3 174.4)"/>
<ellipse cx="23.1" cy="184.7" rx="1.1" ry="1.0" fill="#d9a6ad" opacity="0.85" transform="rotate(122 23.1 184.7)"/>
<ellipse cx="29.8" cy="156.7" rx="1.5" ry="1.0" fill="#9392cd" opacity="0.83" transform="rotate(26 29.8 156.7)"/>
<ellipse cx="21.6" cy="172.8" rx="0.9" ry="0.5" fill="#dba0a6" opacity="0.82" transform="rotate(156 21.6 172.8)"/>
<ellipse cx="32.9" cy="185.7" rx="1.3" ry="1.1" fill="#d48f98" opacity="0.73" transform="rotate(148 32.9 185.7)"/>
<ellipse cx="53.9" cy="166.2" rx="1.6" ry="1.0" fill="#b98aa2" opacity="0.72" transform="rotate(151 53.9 166.2)"/>
<ellipse cx="56.7" cy="176.3" rx="1.0" ry="0.6" fill="#c48b9b" opacity="0.58" transform="rotate(91 56.7 176.3)"/>
<ellipse cx="22.7" cy="161.8" rx="1.9" ry="1.3" fill="#dba0a6" opacity="0.92" transform="rotate(70 22.7 161.8)"/>
<ellipse cx="47.4" cy="169.7" rx="0.7" ry="0.6" fill="#cf97a2" opacity="0.93" transform="rotate(89 47.4 169.7)"/>
<ellipse cx="30.5" cy="156.7" rx="1.7" ry="1.3" fill="#b98aa2" opacity="0.74" transform="rotate(23 30.5 156.7)"/>
<ellipse cx="46.4" cy="167.9" rx="2.0" ry="1.5" fill="#b98aa2" opacity="0.94" transform="rotate(171 46.4 167.9)"/>
<ellipse cx="31.0" cy="179.5" rx="1.5" ry="1.5" fill="#d9a6ad" opacity="0.80" transform="rotate(98 31.0 179.5)"/>
<ellipse cx="29.1" cy="190.8" rx="1.9" ry="1.6" fill="#d48f98" opacity="0.70" transform="rotate(25 29.1 190.8)"/>
<ellipse cx="40.8" cy="185.0" rx="1.0" ry="0.6" fill="#b98aa2" opacity="0.93" transform="rotate(19 40.8 185.0)"/>
<ellipse cx="25.4" cy="160.8" rx="1.0" ry="0.8" fill="#cf97a2" opacity="0.80" transform="rotate(163 25.4 160.8)"/>
<ellipse cx="51.3" cy="162.0" rx="1.2" ry="1.0" fill="#dba0a6" opacity="0.79" transform="rotate(62 51.3 162.0)"/>
<ellipse cx="34.3" cy="184.2" rx="1.5" ry="0.9" fill="#c48b9b" opacity="0.56" transform="rotate(29 34.3 184.2)"/>
<ellipse cx="33.5" cy="188.6" rx="1.4" ry="0.9" fill="#dba0a6" opacity="0.79" transform="rotate(165 33.5 188.6)"/>
<ellipse cx="40.8" cy="162.6" rx="0.8" ry="0.5" fill="#dba0a6" opacity="0.76" transform="rotate(18 40.8 162.6)"/>
<ellipse cx="29.7" cy="191.1" rx="1.5" ry="1.5" fill="#d9a6ad" opacity="0.80" transform="rotate(122 29.7 191.1)"/>
<ellipse cx="38.5" cy="173.3" rx="1.6" ry="0.9" fill="#cf97a2" opacity="0.61" transform="rotate(157 38.5 173.3)"/>
<ellipse cx="39.1" cy="158.5" rx="1.3" ry="1.2" fill="#c48b9b" opacity="0.87" transform="rotate(140 39.1 158.5)"/>
<ellipse cx="54.4" cy="169.7" rx="2.0" ry="1.4" fill="#cf97a2" opacity="0.88" transform="rotate(50 54.4 169.7)"/>
<ellipse cx="41.6" cy="186.0" rx="1.3" ry="1.3" fill="#d48f98" opacity="0.86" transform="rotate(62 41.6 186.0)"/>
<ellipse cx="25.0" cy="182.6" rx="1.2" ry="1.2" fill="#cf97a2" opacity="0.93" transform="rotate(33 25.0 182.6)"/>
<ellipse cx="31.9" cy="160.9" rx="2.0" ry="1.1" fill="#d48f98" opacity="0.85" transform="rotate(75 31.9 160.9)"/>
<ellipse cx="57.2" cy="175.8" rx="2.0" ry="1.8" fill="#9392cd" opacity="0.92" transform="rotate(97 57.2 175.8)"/>
<ellipse cx="50.9" cy="189.1" rx="1.5" ry="1.4" fill="#9392cd" opacity="0.78" transform="rotate(75 50.9 189.1)"/>
<ellipse cx="20.5" cy="184.8" rx="0.8" ry="0.4" fill="#dba0a6" opacity="0.72" transform="rotate(60 20.5 184.8)"/>
<ellipse cx="35.6" cy="191.2" rx="0.9" ry="0.7" fill="#cf97a2" opacity="0.72" transform="rotate(46 35.6 191.2)"/>
<ellipse cx="25.1" cy="170.7" rx="1.9" ry="1.4" fill="#cf97a2" opacity="0.60" transform="rotate(21 25.1 170.7)"/>
<ellipse cx="56.8" cy="174.6" rx="1.2" ry="0.7" fill="#cf97a2" opacity="0.77" transform="rotate(98 56.8 174.6)"/>
<ellipse cx="42.1" cy="169.8" rx="2.0" ry="1.9" fill="#d9a6ad" opacity="0.73" transform="rotate(120 42.1 169.8)"/>
<ellipse cx="17.1" cy="171.6" rx="1.5" ry="1.3" fill="#9392cd" opacity="0.75" transform="rotate(13 17.1 171.6)"/>
<ellipse cx="48.1" cy="189.1" rx="1.4" ry="1.1" fill="#9392cd" opacity="0.91" transform="rotate(165 48.1 189.1)"/>
<ellipse cx="25.9" cy="163.4" rx="1.0" ry="0.9" fill="#dba0a6" opacity="0.72" transform="rotate(110 25.9 163.4)"/>
<ellipse cx="49.4" cy="167.6" rx="2.0" ry="1.2" fill="#9392cd" opacity="0.69" transform="rotate(77 49.4 167.6)"/>
<ellipse cx="40.7" cy="161.0" rx="2.0" ry="1.3" fill="#c48b9b" opacity="0.72" transform="rotate(69 40.7 161.0)"/>
<ellipse cx="46.3" cy="183.5" rx="0.7" ry="0.4" fill="#d48f98" opacity="0.62" transform="rotate(117 46.3 183.5)"/>
<ellipse cx="53.8" cy="181.9" rx="0.7" ry="0.7" fill="#dba0a6" opacity="0.63" transform="rotate(4 53.8 181.9)"/>
<ellipse cx="37.7" cy="159.6" rx="1.1" ry="0.7" fill="#dba0a6" opacity="0.64" transform="rotate(93 37.7 159.6)"/>
<ellipse cx="41.5" cy="172.6" rx="0.9" ry="0.6" fill="#dba0a6" opacity="0.60" transform="rotate(167 41.5 172.6)"/>
<ellipse cx="24.8" cy="186.9" rx="0.9" ry="0.9" fill="#b98aa2" opacity="0.91" transform="rotate(142 24.8 186.9)"/>
<ellipse cx="44.0" cy="177.6" rx="1.5" ry="1.1" fill="#c48b9b" opacity="0.91" transform="rotate(140 44.0 177.6)"/>
<ellipse cx="19.6" cy="164.1" rx="1.0" ry="0.6" fill="#b98aa2" opacity="0.56" transform="rotate(3 19.6 164.1)"/>
<ellipse cx="37.1" cy="166.6" rx="1.3" ry="0.8" fill="#d48f98" opacity="0.56" transform="rotate(54 37.1 166.6)"/>
<ellipse cx="24.7" cy="181.1" rx="1.5" ry="1.0" fill="#9392cd" opacity="0.87" transform="rotate(61 24.7 181.1)"/>
<ellipse cx="51.0" cy="177.0" rx="1.1" ry="0.9" fill="#cf97a2" opacity="0.73" transform="rotate(26 51.0 177.0)"/>
<ellipse cx="26.4" cy="157.8" rx="1.2" ry="0.8" fill="#b98aa2" opacity="0.78" transform="rotate(152 26.4 157.8)"/>
<ellipse cx="58.3" cy="167.7" rx="1.1" ry="0.9" fill="#d9a6ad" opacity="0.82" transform="rotate(165 58.3 167.7)"/>
<ellipse cx="20.5" cy="179.6" rx="1.4" ry="0.8" fill="#dba0a6" opacity="0.76" transform="rotate(141 20.5 179.6)"/>
<ellipse cx="28.4" cy="183.3" rx="1.3" ry="1.0" fill="#cf97a2" opacity="0.78" transform="rotate(53 28.4 183.3)"/>
<ellipse cx="34.0" cy="172.3" rx="1.7" ry="1.2" fill="#cf97a2" opacity="0.61" transform="rotate(87 34.0 172.3)"/>
<ellipse cx="37.1" cy="184.7" rx="1.7" ry="1.0" fill="#d48f98" opacity="0.65" transform="rotate(6 37.1 184.7)"/>
<ellipse cx="28.6" cy="165.0" rx="1.5" ry="1.3" fill="#d9a6ad" opacity="0.79" transform="rotate(112 28.6 165.0)"/>
<ellipse cx="54.9" cy="164.5" rx="1.5" ry="0.8" fill="#b98aa2" opacity="0.85" transform="rotate(143 54.9 164.5)"/>
<ellipse cx="48.4" cy="183.7" rx="1.6" ry="1.2" fill="#b98aa2" opacity="0.90" transform="rotate(10 48.4 183.7)"/>
<ellipse cx="51.6" cy="176.1" rx="1.2" ry="1.0" fill="#b98aa2" opacity="0.79" transform="rotate(56 51.6 176.1)"/>
<ellipse cx="20.5" cy="170.1" rx="1.6" ry="1.4" fill="#d48f98" opacity="0.59" transform="rotate(17 20.5 170.1)"/>
<ellipse cx="35.5" cy="163.0" rx="1.4" ry="1.2" fill="#b98aa2" opacity="0.58" transform="rotate(164 35.5 163.0)"/>
<ellipse cx="33.2" cy="164.3" rx="1.2" ry="0.8" fill="#c48b9b" opacity="0.67" transform="rotate(0 33.2 164.3)"/>
<ellipse cx="46.8" cy="166.0" rx="1.6" ry="1.2" fill="#dba0a6" opacity="0.61" transform="rotate(55 46.8 166.0)"/>
<ellipse cx="49.3" cy="170.0" rx="1.5" ry="0.9" fill="#dba0a6" opacity="0.69" transform="rotate(20 49.3 170.0)"/>
<ellipse cx="28.9" cy="163.6" rx="1.4" ry="0.9" fill="#dba0a6" opacity="0.61" transform="rotate(125 28.9 163.6)"/>
<ellipse cx="45.4" cy="186.7" rx="1.9" ry="1.8" fill="#c48b9b" opacity="0.61" transform="rotate(68 45.4 186.7)"/>
<ellipse cx="23.9" cy="168.4" rx="1.9" ry="1.5" fill="#d9a6ad" opacity="0.81" transform="rotate(107 23.9 168.4)"/>
<ellipse cx="27.8" cy="170.7" rx="1.1" ry="0.7" fill="#b98aa2" opacity="0.65" transform="rotate(91 27.8 170.7)"/>
<ellipse cx="46.8" cy="161.9" rx="1.3" ry="1.1" fill="#d48f98" opacity="0.93" transform="rotate(29 46.8 161.9)"/>
<ellipse cx="35.4" cy="167.7" rx="0.8" ry="0.7" fill="#9392cd" opacity="0.89" transform="rotate(149 35.4 167.7)"/>
<ellipse cx="46.2" cy="190.2" rx="1.4" ry="1.2" fill="#d9a6ad" opacity="0.84" transform="rotate(66 46.2 190.2)"/>
<ellipse cx="54.1" cy="185.1" rx="1.8" ry="1.1" fill="#c48b9b" opacity="0.84" transform="rotate(105 54.1 185.1)"/>
<ellipse cx="51.7" cy="173.9" rx="0.8" ry="0.5" fill="#cf97a2" opacity="0.93" transform="rotate(129 51.7 173.9)"/>
<ellipse cx="25.8" cy="181.7" rx="0.8" ry="0.4" fill="#dba0a6" opacity="0.78" transform="rotate(74 25.8 181.7)"/>
<ellipse cx="27.7" cy="160.3" rx="1.1" ry="1.1" fill="#c48b9b" opacity="0.74" transform="rotate(26 27.7 160.3)"/>
<ellipse cx="43.1" cy="182.9" rx="1.5" ry="0.9" fill="#cf97a2" opacity="0.94" transform="rotate(138 43.1 182.9)"/>
<ellipse cx="32.7" cy="178.7" rx="1.1" ry="1.1" fill="#dba0a6" opacity="0.72" transform="rotate(53 32.7 178.7)"/>
<ellipse cx="53.7" cy="160.3" rx="0.9" ry="0.7" fill="#d48f98" opacity="0.92" transform="rotate(83 53.7 160.3)"/>
<ellipse cx="51.3" cy="162.3" rx="0.8" ry="0.5" fill="#c48b9b" opacity="0.93" transform="rotate(119 51.3 162.3)"/>
<ellipse cx="32.5" cy="188.2" rx="1.7" ry="1.3" fill="#d48f98" opacity="0.66" transform="rotate(160 32.5 188.2)"/>
<ellipse cx="37.4" cy="188.0" rx="1.7" ry="1.0" fill="#b98aa2" opacity="0.79" transform="rotate(117 37.4 188.0)"/>
<ellipse cx="31.8" cy="157.6" rx="0.8" ry="0.5" fill="#d9a6ad" opacity="0.62" transform="rotate(22 31.8 157.6)"/>
<ellipse cx="35.9" cy="163.8" rx="1.3" ry="0.8" fill="#d48f98" opacity="0.83" transform="rotate(26 35.9 163.8)"/>
<ellipse cx="32.0" cy="192.3" rx="1.5" ry="0.9" fill="#d48f98" opacity="0.84" transform="rotate(31 32.0 192.3)"/>
<ellipse cx="38.9" cy="177.0" rx="1.5" ry="1.2" fill="#dba0a6" opacity="0.75" transform="rotate(133 38.9 177.0)"/>
<ellipse cx="48.0" cy="168.7" rx="1.1" ry="0.7" fill="#c48b9b" opacity="0.72" transform="rotate(106 48.0 168.7)"/>
<ellipse cx="25.0" cy="187.1" rx="1.1" ry="1.0" fill="#d9a6ad" opacity="0.84" transform="rotate(0 25.0 187.1)"/>
<ellipse cx="29.4" cy="174.6" rx="2.0" ry="1.7" fill="#dba0a6" opacity="0.72" transform="rotate(151 29.4 174.6)"/>
<ellipse cx="32.4" cy="163.4" rx="1.7" ry="1.2" fill="#b98aa2" opacity="0.83" transform="rotate(3 32.4 163.4)"/>
<ellipse cx="46.2" cy="186.1" rx="0.7" ry="0.5" fill="#9392cd" opacity="0.74" transform="rotate(95 46.2 186.1)"/>
<ellipse cx="53.2" cy="178.0" rx="1.3" ry="1.2" fill="#cf97a2" opacity="0.62" transform="rotate(43 53.2 178.0)"/>
<ellipse cx="44.3" cy="166.0" rx="1.8" ry="1.1" fill="#d48f98" opacity="0.72" transform="rotate(58 44.3 166.0)"/>
<ellipse cx="25.4" cy="158.5" rx="1.0" ry="0.8" fill="#d9a6ad" opacity="0.85" transform="rotate(128 25.4 158.5)"/>
<ellipse cx="26.5" cy="185.1" rx="1.0" ry="0.7" fill="#cf97a2" opacity="0.79" transform="rotate(113 26.5 185.1)"/>
<ellipse cx="41.9" cy="157.0" rx="1.9" ry="1.7" fill="#b98aa2" opacity="0.61" transform="rotate(14 41.9 157.0)"/>
<ellipse cx="28.9" cy="176.0" rx="0.9" ry="0.7" fill="#d9a6ad" opacity="0.73" transform="rotate(120 28.9 176.0)"/>
<ellipse cx="22.6" cy="176.2" rx="0.7" ry="0.6" fill="#9392cd" opacity="0.80" transform="rotate(119 22.6 176.2)"/>
<ellipse cx="46.6" cy="160.2" rx="1.6" ry="1.5" fill="#9392cd" opacity="0.63" transform="rotate(166 46.6 160.2)"/>
<ellipse cx="54.0" cy="160.5" rx="1.0" ry="0.8" fill="#cf97a2" opacity="0.63" transform="rotate(136 54.0 160.5)"/>
<ellipse cx="33.6" cy="178.5" rx="1.0" ry="0.6" fill="#cf97a2" opacity="0.57" transform="rotate(48 33.6 178.5)"/>
<ellipse cx="36.2" cy="161.4" rx="0.9" ry="0.9" fill="#cf97a2" opacity="0.83" transform="rotate(55 36.2 161.4)"/>
<ellipse cx="51.8" cy="188.3" rx="0.9" ry="0.6" fill="#cf97a2" opacity="0.76" transform="rotate(51 51.8 188.3)"/>
<ellipse cx="31.1" cy="156.2" rx="1.6" ry="0.9" fill="#9392cd" opacity="0.64" transform="rotate(108 31.1 156.2)"/>
<ellipse cx="41.7" cy="161.3" rx="1.6" ry="1.2" fill="#d48f98" opacity="0.88" transform="rotate(113 41.7 161.3)"/>
<ellipse cx="36.9" cy="164.9" rx="1.5" ry="1.2" fill="#d48f98" opacity="0.86" transform="rotate(49 36.9 164.9)"/>
<ellipse cx="47.2" cy="155.9" rx="0.9" ry="0.5" fill="#d48f98" opacity="0.79" transform="rotate(92 47.2 155.9)"/>
<ellipse cx="44.8" cy="159.2" rx="0.9" ry="0.6" fill="#b98aa2" opacity="0.72" transform="rotate(26 44.8 159.2)"/>
<ellipse cx="37.2" cy="156.9" rx="1.3" ry="1.2" fill="#9392cd" opacity="0.68" transform="rotate(20 37.2 156.9)"/>
<ellipse cx="25.0" cy="175.0" rx="2.0" ry="1.6" fill="#d48f98" opacity="0.85" transform="rotate(122 25.0 175.0)"/>
<ellipse cx="36.5" cy="189.4" rx="1.9" ry="1.5" fill="#c48b9b" opacity="0.76" transform="rotate(43 36.5 189.4)"/>
<ellipse cx="25.4" cy="183.5" rx="2.0" ry="1.3" fill="#cf97a2" opacity="0.67" transform="rotate(131 25.4 183.5)"/>
<ellipse cx="52.2" cy="180.4" rx="1.0" ry="0.8" fill="#d48f98" opacity="0.68" transform="rotate(20 52.2 180.4)"/>
<ellipse cx="36.3" cy="161.1" rx="1.1" ry="1.0" fill="#9392cd" opacity="0.57" transform="rotate(161 36.3 161.1)"/>
<ellipse cx="34.7" cy="167.6" rx="1.4" ry="1.2" fill="#cf97a2" opacity="0.90" transform="rotate(174 34.7 167.6)"/>
<ellipse cx="35.2" cy="170.9" rx="1.4" ry="0.9" fill="#dba0a6" opacity="0.67" transform="rotate(108 35.2 170.9)"/>
<ellipse cx="35.5" cy="187.5" rx="0.8" ry="0.6" fill="#d48f98" opacity="0.90" transform="rotate(23 35.5 187.5)"/>
<ellipse cx="33.1" cy="171.0" rx="1.2" ry="0.7" fill="#dba0a6" opacity="0.69" transform="rotate(108 33.1 171.0)"/>
<ellipse cx="48.7" cy="180.3" rx="1.0" ry="0.6" fill="#d48f98" opacity="0.68" transform="rotate(127 48.7 180.3)"/>
<ellipse cx="29.6" cy="188.9" rx="1.3" ry="1.2" fill="#9392cd" opacity="0.79" transform="rotate(73 29.6 188.9)"/>
<ellipse cx="32.7" cy="186.9" rx="1.9" ry="1.3" fill="#b98aa2" opacity="0.75" transform="rotate(130 32.7 186.9)"/>
<ellipse cx="24.9" cy="168.2" rx="1.6" ry="1.4" fill="#b98aa2" opacity="0.92" transform="rotate(31 24.9 168.2)"/>
<ellipse cx="47.6" cy="184.0" rx="1.8" ry="1.7" fill="#c48b9b" opacity="0.72" transform="rotate(151 47.6 184.0)"/>
<ellipse cx="39.6" cy="175.2" rx="0.9" ry="0.5" fill="#c48b9b" opacity="0.59" transform="rotate(179 39.6 175.2)"/>
<ellipse cx="42.6" cy="171.0" rx="0.8" ry="0.5" fill="#d48f98" opacity="0.72" transform="rotate(59 42.6 171.0)"/>
<ellipse cx="52.2" cy="176.9" rx="0.9" ry="0.7" fill="#c48b9b" opacity="0.95" transform="rotate(144 52.2 176.9)"/>
<ellipse cx="49.9" cy="159.1" rx="1.5" ry="0.9" fill="#9392cd" opacity="0.70" transform="rotate(81 49.9 159.1)"/>
<ellipse cx="41.7" cy="169.1" rx="1.3" ry="0.9" fill="#c48b9b" opacity="0.86" transform="rotate(160 41.7 169.1)"/>
<ellipse cx="50.5" cy="169.3" rx="1.8" ry="1.1" fill="#c48b9b" opacity="0.85" transform="rotate(138 50.5 169.3)"/>
<ellipse cx="27.1" cy="176.8" rx="0.9" ry="0.5" fill="#dba0a6" opacity="0.82" transform="rotate(80 27.1 176.8)"/>
<ellipse cx="37.4" cy="190.1" rx="1.3" ry="1.0" fill="#b98aa2" opacity="0.60" transform="rotate(96 37.4 190.1)"/>
<ellipse cx="57.0" cy="178.1" rx="1.6" ry="1.3" fill="#d9a6ad" opacity="0.90" transform="rotate(170 57.0 178.1)"/>
<ellipse cx="17.6" cy="173.6" rx="1.7" ry="1.0" fill="#c48b9b" opacity="0.68" transform="rotate(88 17.6 173.6)"/>
<ellipse cx="48.9" cy="190.8" rx="0.8" ry="0.4" fill="#dba0a6" opacity="0.74" transform="rotate(52 48.9 190.8)"/>
<ellipse cx="47.8" cy="176.7" rx="2.0" ry="1.4" fill="#9392cd" opacity="0.70" transform="rotate(4 47.8 176.7)"/>
<ellipse cx="45.4" cy="175.4" rx="0.9" ry="0.7" fill="#d48f98" opacity="0.65" transform="rotate(16 45.4 175.4)"/>
<ellipse cx="25.4" cy="160.6" rx="1.9" ry="1.8" fill="#b98aa2" opacity="0.88" transform="rotate(86 25.4 160.6)"/>
<ellipse cx="37.7" cy="182.4" rx="1.1" ry="0.8" fill="#cf97a2" opacity="0.65" transform="rotate(125 37.7 182.4)"/>
<ellipse cx="47.9" cy="158.8" rx="1.3" ry="1.2" fill="#d9a6ad" opacity="0.84" transform="rotate(142 47.9 158.8)"/>
<ellipse cx="41.5" cy="190.3" rx="0.8" ry="0.5" fill="#dba0a6" opacity="0.65" transform="rotate(117 41.5 190.3)"/>
<ellipse cx="49.1" cy="188.1" rx="1.9" ry="1.4" fill="#c48b9b" opacity="0.93" transform="rotate(124 49.1 188.1)"/>
<ellipse cx="55.9" cy="174.7" rx="0.7" ry="0.6" fill="#c48b9b" opacity="0.69" transform="rotate(68 55.9 174.7)"/>
<ellipse cx="24.8" cy="159.9" rx="1.7" ry="1.3" fill="#c48b9b" opacity="0.82" transform="rotate(151 24.8 159.9)"/>
<ellipse cx="29.1" cy="169.1" rx="0.7" ry="0.4" fill="#c48b9b" opacity="0.64" transform="rotate(98 29.1 169.1)"/>
<ellipse cx="29.6" cy="160.6" rx="1.1" ry="0.7" fill="#d48f98" opacity="0.85" transform="rotate(43 29.6 160.6)"/>
<ellipse cx="50.1" cy="184.7" rx="1.6" ry="1.3" fill="#d48f98" opacity="0.64" transform="rotate(112 50.1 184.7)"/>
<ellipse cx="25.7" cy="161.7" rx="0.8" ry="0.7" fill="#d9a6ad" opacity="0.87" transform="rotate(166 25.7 161.7)"/>
<ellipse cx="53.3" cy="183.9" rx="1.2" ry="1.1" fill="#dba0a6" opacity="0.95" transform="rotate(3 53.3 183.9)"/>
<ellipse cx="32.8" cy="188.5" rx="1.5" ry="1.3" fill="#d48f98" opacity="0.70" transform="rotate(120 32.8 188.5)"/>
<ellipse cx="48.0" cy="161.3" rx="1.1" ry="0.9" fill="#d9a6ad" opacity="0.77" transform="rotate(49 48.0 161.3)"/>
<ellipse cx="37.1" cy="158.1" rx="1.8" ry="1.1" fill="#dba0a6" opacity="0.77" transform="rotate(50 37.1 158.1)"/>
<ellipse cx="36.9" cy="182.1" rx="1.2" ry="0.7" fill="#c48b9b" opacity="0.69" transform="rotate(177 36.9 182.1)"/>
<ellipse cx="46.1" cy="180.6" rx="1.5" ry="1.4" fill="#c48b9b" opacity="0.70" transform="rotate(65 46.1 180.6)"/>
<ellipse cx="50.3" cy="179.3" rx="2.0" ry="1.7" fill="#dba0a6" opacity="0.84" transform="rotate(122 50.3 179.3)"/>
<ellipse cx="43.0" cy="172.1" rx="2.0" ry="1.6" fill="#dba0a6" opacity="0.57" transform="rotate(129 43.0 172.1)"/>
<ellipse cx="39.5" cy="163.7" rx="1.4" ry="1.0" fill="#d9a6ad" opacity="0.80" transform="rotate(157 39.5 163.7)"/>
<ellipse cx="34.1" cy="166.6" rx="1.2" ry="1.0" fill="#9392cd" opacity="0.83" transform="rotate(59 34.1 166.6)"/>
<ellipse cx="20.6" cy="166.7" rx="1.6" ry="1.4" fill="#c48b9b" opacity="0.64" transform="rotate(125 20.6 166.7)"/>
<ellipse cx="18.3" cy="176.4" rx="0.9" ry="0.7" fill="#9392cd" opacity="0.93" transform="rotate(113 18.3 176.4)"/>
<ellipse cx="56.4" cy="152.8" rx="1.3" ry="0.7" fill="#c48b9b" opacity="0.61" transform="rotate(150 56.4 152.8)"/>
<ellipse cx="41.0" cy="167.3" rx="1.1" ry="0.8" fill="#cf97a2" opacity="0.87" transform="rotate(105 41.0 167.3)"/>
<ellipse cx="61.7" cy="159.5" rx="0.8" ry="0.6" fill="#b98aa2" opacity="0.87" transform="rotate(67 61.7 159.5)"/>
<ellipse cx="47.3" cy="155.7" rx="0.8" ry="0.6" fill="#dba0a6" opacity="0.59" transform="rotate(104 47.3 155.7)"/>
<ellipse cx="56.2" cy="156.2" rx="0.8" ry="0.7" fill="#d9a6ad" opacity="0.87" transform="rotate(24 56.2 156.2)"/>
<ellipse cx="63.2" cy="161.8" rx="0.9" ry="0.9" fill="#d48f98" opacity="0.74" transform="rotate(49 63.2 161.8)"/>
<ellipse cx="41.8" cy="164.0" rx="1.5" ry="1.5" fill="#b98aa2" opacity="0.56" transform="rotate(92 41.8 164.0)"/>
<ellipse cx="53.3" cy="174.2" rx="1.1" ry="0.7" fill="#cf97a2" opacity="0.90" transform="rotate(134 53.3 174.2)"/>
<ellipse cx="56.4" cy="175.4" rx="1.0" ry="0.7" fill="#d48f98" opacity="0.74" transform="rotate(35 56.4 175.4)"/>
<ellipse cx="42.5" cy="157.7" rx="1.8" ry="1.0" fill="#b98aa2" opacity="0.86" transform="rotate(4 42.5 157.7)"/>
<ellipse cx="46.7" cy="156.6" rx="1.5" ry="1.0" fill="#b98aa2" opacity="0.70" transform="rotate(99 46.7 156.6)"/>
<ellipse cx="50.2" cy="176.2" rx="1.3" ry="1.0" fill="#d9a6ad" opacity="0.85" transform="rotate(101 50.2 176.2)"/>
<ellipse cx="60.7" cy="170.3" rx="1.7" ry="1.6" fill="#cf97a2" opacity="0.82" transform="rotate(114 60.7 170.3)"/>
<ellipse cx="40.9" cy="169.2" rx="1.7" ry="1.2" fill="#b98aa2" opacity="0.67" transform="rotate(104 40.9 169.2)"/>
<ellipse cx="58.7" cy="162.8" rx="1.5" ry="1.2" fill="#dba0a6" opacity="0.86" transform="rotate(44 58.7 162.8)"/>
<ellipse cx="63.2" cy="166.2" rx="1.0" ry="0.6" fill="#c48b9b" opacity="0.75" transform="rotate(84 63.2 166.2)"/>
<ellipse cx="59.3" cy="161.9" rx="1.2" ry="1.0" fill="#dba0a6" opacity="0.66" transform="rotate(121 59.3 161.9)"/>
<ellipse cx="47.5" cy="156.8" rx="1.6" ry="1.1" fill="#dba0a6" opacity="0.87" transform="rotate(82 47.5 156.8)"/>
<ellipse cx="49.2" cy="169.2" rx="1.8" ry="1.3" fill="#b98aa2" opacity="0.79" transform="rotate(81 49.2 169.2)"/>
<ellipse cx="44.6" cy="154.0" rx="1.6" ry="1.5" fill="#d9a6ad" opacity="0.67" transform="rotate(1 44.6 154.0)"/>
<ellipse cx="43.2" cy="155.4" rx="0.9" ry="0.8" fill="#b98aa2" opacity="0.59" transform="rotate(94 43.2 155.4)"/>
<ellipse cx="44.2" cy="175.3" rx="1.7" ry="1.7" fill="#cf97a2" opacity="0.61" transform="rotate(68 44.2 175.3)"/>
<ellipse cx="46.1" cy="159.1" rx="1.6" ry="1.3" fill="#b98aa2" opacity="0.74" transform="rotate(25 46.1 159.1)"/>
<ellipse cx="43.5" cy="175.0" rx="1.5" ry="1.2" fill="#d9a6ad" opacity="0.61" transform="rotate(160 43.5 175.0)"/>
<ellipse cx="47.2" cy="154.7" rx="0.8" ry="0.6" fill="#dba0a6" opacity="0.91" transform="rotate(161 47.2 154.7)"/>
<ellipse cx="63.2" cy="167.0" rx="1.4" ry="0.9" fill="#cf97a2" opacity="0.80" transform="rotate(67 63.2 167.0)"/>
<ellipse cx="64.1" cy="157.7" rx="1.2" ry="0.7" fill="#d48f98" opacity="0.80" transform="rotate(48 64.1 157.7)"/>
<ellipse cx="60.8" cy="160.0" rx="1.6" ry="1.3" fill="#dba0a6" opacity="0.74" transform="rotate(148 60.8 160.0)"/>
<ellipse cx="64.5" cy="169.9" rx="1.9" ry="1.3" fill="#c48b9b" opacity="0.56" transform="rotate(128 64.5 169.9)"/>
<ellipse cx="57.7" cy="159.2" rx="1.9" ry="1.4" fill="#dba0a6" opacity="0.70" transform="rotate(21 57.7 159.2)"/>
<ellipse cx="53.0" cy="175.9" rx="1.0" ry="0.6" fill="#d48f98" opacity="0.62" transform="rotate(94 53.0 175.9)"/>
<ellipse cx="66.4" cy="167.7" rx="1.6" ry="1.4" fill="#d9a6ad" opacity="0.69" transform="rotate(19 66.4 167.7)"/>
<ellipse cx="59.3" cy="174.6" rx="1.2" ry="0.9" fill="#d9a6ad" opacity="0.75" transform="rotate(19 59.3 174.6)"/>
<ellipse cx="58.7" cy="171.0" rx="1.9" ry="1.5" fill="#d9a6ad" opacity="0.61" transform="rotate(72 58.7 171.0)"/>
<ellipse cx="52.3" cy="155.1" rx="1.7" ry="1.7" fill="#d9a6ad" opacity="0.83" transform="rotate(32 52.3 155.1)"/>
<ellipse cx="48.1" cy="167.8" rx="1.1" ry="0.9" fill="#d9a6ad" opacity="0.55" transform="rotate(145 48.1 167.8)"/>
<ellipse cx="43.8" cy="173.0" rx="1.7" ry="1.3" fill="#b98aa2" opacity="0.71" transform="rotate(135 43.8 173.0)"/>
<ellipse cx="42.2" cy="161.4" rx="1.6" ry="1.2" fill="#d48f98" opacity="0.85" transform="rotate(69 42.2 161.4)"/>
<ellipse cx="46.1" cy="153.0" rx="0.9" ry="0.5" fill="#d48f98" opacity="0.58" transform="rotate(3 46.1 153.0)"/>
<ellipse cx="64.8" cy="168.0" rx="0.8" ry="0.7" fill="#d48f98" opacity="0.82" transform="rotate(152 64.8 168.0)"/>
<ellipse cx="63.1" cy="167.1" rx="1.6" ry="1.5" fill="#d9a6ad" opacity="0.83" transform="rotate(75 63.1 167.1)"/>
<ellipse cx="56.3" cy="167.1" rx="1.4" ry="0.9" fill="#cf97a2" opacity="0.81" transform="rotate(30 56.3 167.1)"/>
<ellipse cx="64.3" cy="161.9" rx="0.9" ry="0.9" fill="#d48f98" opacity="0.85" transform="rotate(173 64.3 161.9)"/>
<ellipse cx="62.1" cy="164.6" rx="1.5" ry="1.2" fill="#c48b9b" opacity="0.63" transform="rotate(167 62.1 164.6)"/>
<ellipse cx="55.2" cy="152.8" rx="1.0" ry="0.5" fill="#b98aa2" opacity="0.76" transform="rotate(175 55.2 152.8)"/>
<ellipse cx="48.1" cy="173.8" rx="1.4" ry="0.8" fill="#d48f98" opacity="0.70" transform="rotate(29 48.1 173.8)"/>
<ellipse cx="54.8" cy="177.1" rx="1.1" ry="1.1" fill="#d48f98" opacity="0.72" transform="rotate(13 54.8 177.1)"/>
<ellipse cx="51.6" cy="167.0" rx="1.1" ry="0.6" fill="#dba0a6" opacity="0.88" transform="rotate(22 51.6 167.0)"/>
<ellipse cx="48.1" cy="155.1" rx="1.0" ry="0.7" fill="#d9a6ad" opacity="0.62" transform="rotate(169 48.1 155.1)"/>
<ellipse cx="45.0" cy="172.2" rx="1.4" ry="1.3" fill="#d48f98" opacity="0.92" transform="rotate(64 45.0 172.2)"/>
<ellipse cx="61.6" cy="175.0" rx="0.9" ry="0.6" fill="#dba0a6" opacity="0.62" transform="rotate(27 61.6 175.0)"/>
<ellipse cx="64.9" cy="161.0" rx="1.3" ry="0.8" fill="#cf97a2" opacity="0.71" transform="rotate(124 64.9 161.0)"/>
<ellipse cx="59.6" cy="157.2" rx="1.5" ry="1.0" fill="#dba0a6" opacity="0.81" transform="rotate(99 59.6 157.2)"/>
<ellipse cx="60.6" cy="176.1" rx="1.7" ry="1.2" fill="#cf97a2" opacity="0.65" transform="rotate(34 60.6 176.1)"/>
<ellipse cx="50.6" cy="175.5" rx="1.5" ry="0.8" fill="#d9a6ad" opacity="0.67" transform="rotate(21 50.6 175.5)"/>
<ellipse cx="43.8" cy="171.0" rx="1.0" ry="0.6" fill="#d48f98" opacity="0.70" transform="rotate(32 43.8 171.0)"/>
<ellipse cx="53.3" cy="151.6" rx="0.9" ry="0.7" fill="#cf97a2" opacity="0.86" transform="rotate(124 53.3 151.6)"/>
<ellipse cx="64.6" cy="158.7" rx="1.1" ry="0.9" fill="#d48f98" opacity="0.90" transform="rotate(166 64.6 158.7)"/>
<ellipse cx="45.9" cy="153.2" rx="1.0" ry="0.6" fill="#cf97a2" opacity="0.79" transform="rotate(39 45.9 153.2)"/>
<ellipse cx="57.2" cy="156.0" rx="1.6" ry="1.0" fill="#cf97a2" opacity="0.88" transform="rotate(31 57.2 156.0)"/>
<ellipse cx="54.7" cy="173.0" rx="1.9" ry="1.2" fill="#d9a6ad" opacity="0.62" transform="rotate(160 54.7 173.0)"/>
<ellipse cx="59.8" cy="171.9" rx="1.8" ry="1.1" fill="#b98aa2" opacity="0.80" transform="rotate(116 59.8 171.9)"/>
<ellipse cx="59.1" cy="163.9" rx="1.1" ry="1.1" fill="#d9a6ad" opacity="0.80" transform="rotate(17 59.1 163.9)"/>
<ellipse cx="52.9" cy="165.5" rx="1.8" ry="1.3" fill="#cf97a2" opacity="0.80" transform="rotate(81 52.9 165.5)"/>
<ellipse cx="59.8" cy="167.8" rx="1.6" ry="1.5" fill="#dba0a6" opacity="0.68" transform="rotate(95 59.8 167.8)"/>
<ellipse cx="60.6" cy="174.5" rx="1.1" ry="1.0" fill="#dba0a6" opacity="0.87" transform="rotate(136 60.6 174.5)"/>
<ellipse cx="57.2" cy="161.5" rx="1.9" ry="1.0" fill="#c48b9b" opacity="0.95" transform="rotate(32 57.2 161.5)"/>
<ellipse cx="48.8" cy="156.3" rx="0.8" ry="0.6" fill="#cf97a2" opacity="0.63" transform="rotate(139 48.8 156.3)"/>
<ellipse cx="66.0" cy="164.1" rx="1.2" ry="1.1" fill="#c48b9b" opacity="0.86" transform="rotate(75 66.0 164.1)"/>
<ellipse cx="40.4" cy="161.3" rx="1.2" ry="1.1" fill="#d48f98" opacity="0.75" transform="rotate(63 40.4 161.3)"/>
<ellipse cx="47.2" cy="155.6" rx="0.7" ry="0.6" fill="#dba0a6" opacity="0.65" transform="rotate(9 47.2 155.6)"/>
<ellipse cx="47.4" cy="176.7" rx="1.4" ry="0.9" fill="#d9a6ad" opacity="0.57" transform="rotate(77 47.4 176.7)"/>
<ellipse cx="49.1" cy="152.4" rx="1.0" ry="0.6" fill="#d48f98" opacity="0.55" transform="rotate(91 49.1 152.4)"/>
<ellipse cx="45.7" cy="161.1" rx="1.3" ry="0.8" fill="#d48f98" opacity="0.70" transform="rotate(140 45.7 161.1)"/>
<ellipse cx="49.5" cy="161.6" rx="1.6" ry="0.9" fill="#dba0a6" opacity="0.91" transform="rotate(52 49.5 161.6)"/>
<ellipse cx="47.4" cy="160.4" rx="1.5" ry="1.1" fill="#cf97a2" opacity="0.81" transform="rotate(134 47.4 160.4)"/>
<ellipse cx="52.9" cy="172.2" rx="1.9" ry="1.7" fill="#c48b9b" opacity="0.85" transform="rotate(24 52.9 172.2)"/>
<ellipse cx="63.3" cy="164.6" rx="1.8" ry="1.7" fill="#d9a6ad" opacity="0.57" transform="rotate(129 63.3 164.6)"/>
<ellipse cx="48.3" cy="175.4" rx="1.3" ry="1.1" fill="#cf97a2" opacity="0.57" transform="rotate(110 48.3 175.4)"/>
<ellipse cx="47.2" cy="163.8" rx="1.0" ry="0.6" fill="#cf97a2" opacity="0.84" transform="rotate(88 47.2 163.8)"/>
<ellipse cx="44.8" cy="172.0" rx="1.7" ry="1.0" fill="#d48f98" opacity="0.60" transform="rotate(126 44.8 172.0)"/>
<ellipse cx="46.3" cy="167.3" rx="1.1" ry="1.0" fill="#cf97a2" opacity="0.86" transform="rotate(138 46.3 167.3)"/>
<ellipse cx="56.8" cy="161.1" rx="1.6" ry="1.4" fill="#d48f98" opacity="0.85" transform="rotate(3 56.8 161.1)"/>
<ellipse cx="62.7" cy="172.8" rx="0.9" ry="0.5" fill="#cf97a2" opacity="0.65" transform="rotate(54 62.7 172.8)"/>
<ellipse cx="59.7" cy="168.1" rx="0.9" ry="0.6" fill="#d9a6ad" opacity="0.89" transform="rotate(55 59.7 168.1)"/>
<ellipse cx="42.1" cy="157.6" rx="1.8" ry="1.5" fill="#dba0a6" opacity="0.75" transform="rotate(82 42.1 157.6)"/>
<ellipse cx="62.2" cy="162.9" rx="1.7" ry="1.0" fill="#b98aa2" opacity="0.82" transform="rotate(35 62.2 162.9)"/>
<ellipse cx="44.7" cy="171.8" rx="1.3" ry="0.8" fill="#d48f98" opacity="0.89" transform="rotate(49 44.7 171.8)"/>
<ellipse cx="47.0" cy="162.2" rx="0.7" ry="0.5" fill="#d9a6ad" opacity="0.78" transform="rotate(30 47.0 162.2)"/>
<ellipse cx="55.3" cy="163.7" rx="1.1" ry="0.9" fill="#dba0a6" opacity="0.95" transform="rotate(111 55.3 163.7)"/>
<ellipse cx="23.5" cy="187.5" rx="0.9" ry="0.6" fill="#cf97a2" opacity="0.74" transform="rotate(154 23.5 187.5)"/>
<ellipse cx="37.2" cy="190.0" rx="1.4" ry="1.3" fill="#cf97a2" opacity="0.62" transform="rotate(115 37.2 190.0)"/>
<ellipse cx="36.8" cy="183.8" rx="0.9" ry="0.5" fill="#cf97a2" opacity="0.75" transform="rotate(151 36.8 183.8)"/>
<ellipse cx="38.4" cy="189.5" rx="1.6" ry="1.6" fill="#d9a6ad" opacity="0.63" transform="rotate(57 38.4 189.5)"/>
<ellipse cx="28.9" cy="178.9" rx="0.8" ry="0.8" fill="#b98aa2" opacity="0.71" transform="rotate(87 28.9 178.9)"/>
<ellipse cx="31.8" cy="181.4" rx="1.8" ry="1.0" fill="#b9b8de" opacity="0.70" transform="rotate(125 31.8 181.4)"/>
<ellipse cx="33.4" cy="190.1" rx="1.6" ry="1.6" fill="#d9a6ad" opacity="0.55" transform="rotate(148 33.4 190.1)"/>
<ellipse cx="33.3" cy="195.6" rx="1.1" ry="0.7" fill="#d9a6ad" opacity="0.92" transform="rotate(128 33.3 195.6)"/>
<ellipse cx="36.7" cy="189.9" rx="1.8" ry="1.0" fill="#b9b8de" opacity="0.63" transform="rotate(23 36.7 189.9)"/>
<ellipse cx="28.7" cy="182.0" rx="1.8" ry="1.0" fill="#cf97a2" opacity="0.77" transform="rotate(155 28.7 182.0)"/>
<ellipse cx="35.7" cy="178.4" rx="1.6" ry="1.6" fill="#b3b0d8" opacity="0.60" transform="rotate(103 35.7 178.4)"/>
<ellipse cx="35.1" cy="184.4" rx="1.4" ry="1.3" fill="#cf97a2" opacity="0.89" transform="rotate(133 35.1 184.4)"/>
<ellipse cx="21.8" cy="180.8" rx="0.8" ry="0.5" fill="#d48f98" opacity="0.90" transform="rotate(93 21.8 180.8)"/>
<ellipse cx="23.3" cy="188.1" rx="1.9" ry="1.7" fill="#b3b0d8" opacity="0.70" transform="rotate(155 23.3 188.1)"/>
<ellipse cx="26.6" cy="192.4" rx="1.0" ry="0.6" fill="#a4a3d0" opacity="0.88" transform="rotate(78 26.6 192.4)"/>
<ellipse cx="27.6" cy="183.4" rx="1.6" ry="1.2" fill="#cf97a2" opacity="0.77" transform="rotate(109 27.6 183.4)"/>
<ellipse cx="20.7" cy="186.2" rx="1.0" ry="0.7" fill="#d9a6ad" opacity="0.64" transform="rotate(102 20.7 186.2)"/>
<ellipse cx="19.3" cy="185.3" rx="1.4" ry="1.2" fill="#c48b9b" opacity="0.62" transform="rotate(66 19.3 185.3)"/>
<ellipse cx="40.5" cy="188.0" rx="1.7" ry="1.6" fill="#b98aa2" opacity="0.94" transform="rotate(155 40.5 188.0)"/>
<ellipse cx="31.4" cy="188.0" rx="1.2" ry="0.8" fill="#b9b8de" opacity="0.56" transform="rotate(90 31.4 188.0)"/>
<ellipse cx="28.3" cy="193.4" rx="1.0" ry="0.9" fill="#d9a6ad" opacity="0.67" transform="rotate(30 28.3 193.4)"/>
<ellipse cx="36.8" cy="189.0" rx="1.5" ry="1.3" fill="#b9b8de" opacity="0.87" transform="rotate(169 36.8 189.0)"/>
<ellipse cx="27.9" cy="176.6" rx="1.8" ry="1.2" fill="#a4a3d0" opacity="0.92" transform="rotate(70 27.9 176.6)"/>
<ellipse cx="25.5" cy="185.2" rx="1.5" ry="0.9" fill="#d9a6ad" opacity="0.87" transform="rotate(3 25.5 185.2)"/>
<ellipse cx="32.2" cy="193.2" rx="1.4" ry="1.0" fill="#aeadd8" opacity="0.62" transform="rotate(123 32.2 193.2)"/>
<ellipse cx="25.3" cy="182.9" rx="0.8" ry="0.6" fill="#cf97a2" opacity="0.78" transform="rotate(111 25.3 182.9)"/>
<ellipse cx="22.3" cy="183.8" rx="1.3" ry="1.3" fill="#d9a6ad" opacity="0.78" transform="rotate(76 22.3 183.8)"/>
<ellipse cx="34.8" cy="188.0" rx="0.9" ry="0.7" fill="#d9a6ad" opacity="0.73" transform="rotate(125 34.8 188.0)"/>
<ellipse cx="37.2" cy="180.0" rx="1.5" ry="1.1" fill="#cf97a2" opacity="0.90" transform="rotate(59 37.2 180.0)"/>
<ellipse cx="22.6" cy="193.8" rx="1.4" ry="1.3" fill="#a4a3d0" opacity="0.56" transform="rotate(152 22.6 193.8)"/>
<ellipse cx="32.1" cy="187.2" rx="1.2" ry="0.7" fill="#b3b0d8" opacity="0.63" transform="rotate(155 32.1 187.2)"/>
<ellipse cx="30.1" cy="182.8" rx="0.7" ry="0.6" fill="#b3b0d8" opacity="0.76" transform="rotate(6 30.1 182.8)"/>
<ellipse cx="29.1" cy="183.1" rx="0.8" ry="0.4" fill="#d48f98" opacity="0.93" transform="rotate(151 29.1 183.1)"/>
<ellipse cx="34.1" cy="191.5" rx="1.3" ry="0.8" fill="#c48b9b" opacity="0.69" transform="rotate(59 34.1 191.5)"/>
<ellipse cx="26.2" cy="187.2" rx="1.9" ry="1.1" fill="#d9a6ad" opacity="0.60" transform="rotate(165 26.2 187.2)"/>
<ellipse cx="36.6" cy="185.0" rx="1.6" ry="1.3" fill="#a4a3d0" opacity="0.63" transform="rotate(162 36.6 185.0)"/>
<ellipse cx="30.7" cy="186.4" rx="1.6" ry="0.9" fill="#dba0a6" opacity="0.65" transform="rotate(156 30.7 186.4)"/>
<ellipse cx="33.5" cy="186.5" rx="1.7" ry="1.6" fill="#cf97a2" opacity="0.74" transform="rotate(80 33.5 186.5)"/>
<ellipse cx="25.9" cy="182.8" rx="0.8" ry="0.5" fill="#b98aa2" opacity="0.57" transform="rotate(47 25.9 182.8)"/>
<ellipse cx="39.6" cy="184.5" rx="1.8" ry="1.7" fill="#cf97a2" opacity="0.92" transform="rotate(24 39.6 184.5)"/>
<ellipse cx="37.2" cy="187.3" rx="1.2" ry="0.9" fill="#d48f98" opacity="0.69" transform="rotate(102 37.2 187.3)"/>
<ellipse cx="27.2" cy="187.3" rx="1.1" ry="0.9" fill="#a4a3d0" opacity="0.78" transform="rotate(112 27.2 187.3)"/>
<ellipse cx="25.3" cy="190.2" rx="0.8" ry="0.5" fill="#d9a6ad" opacity="0.77" transform="rotate(48 25.3 190.2)"/>
<ellipse cx="31.6" cy="192.4" rx="1.8" ry="1.2" fill="#d9a6ad" opacity="0.73" transform="rotate(155 31.6 192.4)"/>
<ellipse cx="21.3" cy="179.8" rx="1.5" ry="1.0" fill="#b9b8de" opacity="0.77" transform="rotate(85 21.3 179.8)"/>
<ellipse cx="38.0" cy="190.1" rx="1.2" ry="1.1" fill="#dba0a6" opacity="0.68" transform="rotate(131 38.0 190.1)"/>
<ellipse cx="22.5" cy="185.9" rx="0.7" ry="0.5" fill="#aeadd8" opacity="0.64" transform="rotate(80 22.5 185.9)"/>
<ellipse cx="34.1" cy="187.1" rx="0.9" ry="0.7" fill="#d9a6ad" opacity="0.87" transform="rotate(103 34.1 187.1)"/>
<ellipse cx="25.9" cy="180.4" rx="1.8" ry="1.7" fill="#aeadd8" opacity="0.75" transform="rotate(91 25.9 180.4)"/>
<ellipse cx="26.4" cy="190.4" rx="1.1" ry="0.9" fill="#b9b8de" opacity="0.87" transform="rotate(45 26.4 190.4)"/>
<ellipse cx="29.0" cy="185.5" rx="1.5" ry="1.0" fill="#cf97a2" opacity="0.76" transform="rotate(173 29.0 185.5)"/>
<ellipse cx="20.2" cy="190.8" rx="0.8" ry="0.5" fill="#b98aa2" opacity="0.73" transform="rotate(174 20.2 190.8)"/>
<ellipse cx="34.7" cy="185.8" rx="0.9" ry="0.8" fill="#d48f98" opacity="0.57" transform="rotate(71 34.7 185.8)"/>
<ellipse cx="31.6" cy="185.2" rx="0.9" ry="0.7" fill="#d9a6ad" opacity="0.69" transform="rotate(139 31.6 185.2)"/>
<ellipse cx="34.8" cy="191.3" rx="1.3" ry="1.0" fill="#b3b0d8" opacity="0.89" transform="rotate(12 34.8 191.3)"/>
<ellipse cx="38.6" cy="182.4" rx="1.3" ry="0.9" fill="#cf97a2" opacity="0.87" transform="rotate(118 38.6 182.4)"/>
<ellipse cx="21.3" cy="189.6" rx="0.9" ry="0.9" fill="#d9a6ad" opacity="0.94" transform="rotate(21 21.3 189.6)"/>
<ellipse cx="34.3" cy="182.4" rx="1.0" ry="1.0" fill="#a4a3d0" opacity="0.62" transform="rotate(135 34.3 182.4)"/>
<ellipse cx="38.9" cy="186.7" rx="1.1" ry="1.1" fill="#dba0a6" opacity="0.62" transform="rotate(14 38.9 186.7)"/>
<ellipse cx="28.2" cy="177.8" rx="1.9" ry="1.3" fill="#d48f98" opacity="0.60" transform="rotate(76 28.2 177.8)"/>
<ellipse cx="64.2" cy="185.7" rx="1.5" ry="1.4" fill="#b9b8de" opacity="0.59" transform="rotate(149 64.2 185.7)"/>
<ellipse cx="75.5" cy="184.4" rx="0.7" ry="0.6" fill="#b3b0d8" opacity="0.65" transform="rotate(141 75.5 184.4)"/>
<ellipse cx="55.6" cy="186.6" rx="0.9" ry="0.7" fill="#a4a3d0" opacity="0.78" transform="rotate(15 55.6 186.6)"/>
<ellipse cx="59.0" cy="177.0" rx="2.0" ry="1.6" fill="#b9b8de" opacity="0.60" transform="rotate(107 59.0 177.0)"/>
<ellipse cx="69.4" cy="184.6" rx="1.1" ry="0.7" fill="#a4a3d0" opacity="0.78" transform="rotate(48 69.4 184.6)"/>
<ellipse cx="59.6" cy="188.2" rx="0.8" ry="0.6" fill="#b9b8de" opacity="0.75" transform="rotate(136 59.6 188.2)"/>
<ellipse cx="59.7" cy="184.3" rx="1.5" ry="1.0" fill="#b3b0d8" opacity="0.65" transform="rotate(46 59.7 184.3)"/>
<ellipse cx="64.4" cy="174.7" rx="1.4" ry="1.4" fill="#b3b0d8" opacity="0.84" transform="rotate(73 64.4 174.7)"/>
<ellipse cx="63.7" cy="178.7" rx="1.4" ry="1.2" fill="#a4a3d0" opacity="0.61" transform="rotate(125 63.7 178.7)"/>
<ellipse cx="54.8" cy="187.3" rx="0.8" ry="0.6" fill="#aeadd8" opacity="0.69" transform="rotate(127 54.8 187.3)"/>
<ellipse cx="58.5" cy="176.6" rx="1.8" ry="1.4" fill="#aeadd8" opacity="0.82" transform="rotate(15 58.5 176.6)"/>
<ellipse cx="65.6" cy="173.5" rx="1.5" ry="1.0" fill="#b3b0d8" opacity="0.70" transform="rotate(171 65.6 173.5)"/>
<ellipse cx="59.0" cy="191.7" rx="1.2" ry="0.9" fill="#b9b8de" opacity="0.64" transform="rotate(73 59.0 191.7)"/>
<ellipse cx="71.1" cy="185.9" rx="1.2" ry="0.7" fill="#b3b0d8" opacity="0.73" transform="rotate(140 71.1 185.9)"/>
<ellipse cx="65.6" cy="185.9" rx="1.3" ry="1.1" fill="#aeadd8" opacity="0.94" transform="rotate(174 65.6 185.9)"/>
<ellipse cx="76.4" cy="172.2" rx="0.9" ry="0.6" fill="#a4a3d0" opacity="0.81" transform="rotate(3 76.4 172.2)"/>
<ellipse cx="56.2" cy="182.0" rx="1.0" ry="0.6" fill="#b9b8de" opacity="0.76" transform="rotate(156 56.2 182.0)"/>
<ellipse cx="54.4" cy="175.7" rx="1.6" ry="1.2" fill="#b9b8de" opacity="0.90" transform="rotate(174 54.4 175.7)"/>
<ellipse cx="69.0" cy="172.9" rx="1.2" ry="0.9" fill="#b9b8de" opacity="0.71" transform="rotate(48 69.0 172.9)"/>
<ellipse cx="72.1" cy="183.5" rx="0.9" ry="0.7" fill="#aeadd8" opacity="0.59" transform="rotate(145 72.1 183.5)"/>
<ellipse cx="69.0" cy="184.5" rx="1.2" ry="0.7" fill="#b9b8de" opacity="0.63" transform="rotate(96 69.0 184.5)"/>
<ellipse cx="70.5" cy="186.4" rx="1.2" ry="0.9" fill="#aeadd8" opacity="0.60" transform="rotate(124 70.5 186.4)"/>
<ellipse cx="75.7" cy="180.6" rx="1.3" ry="0.8" fill="#b9b8de" opacity="0.85" transform="rotate(67 75.7 180.6)"/>
<ellipse cx="55.4" cy="182.5" rx="1.4" ry="1.3" fill="#a4a3d0" opacity="0.76" transform="rotate(37 55.4 182.5)"/>
<ellipse cx="61.8" cy="169.0" rx="1.7" ry="1.7" fill="#aeadd8" opacity="0.90" transform="rotate(178 61.8 169.0)"/>
<ellipse cx="72.0" cy="173.0" rx="1.9" ry="1.7" fill="#aeadd8" opacity="0.76" transform="rotate(128 72.0 173.0)"/>
<ellipse cx="63.4" cy="186.6" rx="1.8" ry="1.6" fill="#a4a3d0" opacity="0.88" transform="rotate(58 63.4 186.6)"/>
<ellipse cx="69.4" cy="190.0" rx="1.7" ry="1.5" fill="#b9b8de" opacity="0.74" transform="rotate(49 69.4 190.0)"/>
<ellipse cx="61.8" cy="168.6" rx="1.3" ry="1.3" fill="#aeadd8" opacity="0.70" transform="rotate(56 61.8 168.6)"/>
<ellipse cx="73.9" cy="186.5" rx="1.1" ry="0.9" fill="#b3b0d8" opacity="0.91" transform="rotate(0 73.9 186.5)"/>
<ellipse cx="55.7" cy="182.4" rx="1.7" ry="1.6" fill="#b9b8de" opacity="0.60" transform="rotate(99 55.7 182.4)"/>
<ellipse cx="68.9" cy="169.5" rx="1.3" ry="1.0" fill="#a4a3d0" opacity="0.80" transform="rotate(22 68.9 169.5)"/>
<ellipse cx="70.7" cy="168.4" rx="1.2" ry="1.1" fill="#b3b0d8" opacity="0.58" transform="rotate(40 70.7 168.4)"/>
<ellipse cx="68.8" cy="185.2" rx="0.9" ry="0.8" fill="#b3b0d8" opacity="0.61" transform="rotate(152 68.8 185.2)"/>
<ellipse cx="77.4" cy="179.6" rx="1.2" ry="0.6" fill="#a4a3d0" opacity="0.87" transform="rotate(166 77.4 179.6)"/>
<ellipse cx="75.8" cy="188.0" rx="0.9" ry="0.8" fill="#a4a3d0" opacity="0.63" transform="rotate(64 75.8 188.0)"/>
<ellipse cx="68.7" cy="190.3" rx="1.7" ry="1.1" fill="#aeadd8" opacity="0.72" transform="rotate(33 68.7 190.3)"/>
<ellipse cx="77.3" cy="185.3" rx="1.9" ry="1.7" fill="#b3b0d8" opacity="0.90" transform="rotate(33 77.3 185.3)"/>
<ellipse cx="56.9" cy="179.1" rx="0.7" ry="0.7" fill="#b3b0d8" opacity="0.79" transform="rotate(38 56.9 179.1)"/>
<ellipse cx="70.9" cy="189.2" rx="1.6" ry="1.1" fill="#b9b8de" opacity="0.76" transform="rotate(142 70.9 189.2)"/>
<ellipse cx="54.7" cy="182.3" rx="1.8" ry="1.2" fill="#b9b8de" opacity="0.66" transform="rotate(25 54.7 182.3)"/>
<ellipse cx="56.4" cy="180.5" rx="1.7" ry="1.3" fill="#b9b8de" opacity="0.80" transform="rotate(129 56.4 180.5)"/>
<ellipse cx="61.8" cy="177.3" rx="1.1" ry="0.8" fill="#b3b0d8" opacity="0.65" transform="rotate(133 61.8 177.3)"/>
<ellipse cx="75.9" cy="171.8" rx="1.0" ry="1.0" fill="#a4a3d0" opacity="0.60" transform="rotate(31 75.9 171.8)"/>
<ellipse cx="60.6" cy="185.8" rx="1.6" ry="0.9" fill="#b3b0d8" opacity="0.82" transform="rotate(31 60.6 185.8)"/>
<ellipse cx="70.7" cy="177.8" rx="1.6" ry="1.0" fill="#aeadd8" opacity="0.90" transform="rotate(119 70.7 177.8)"/>
<ellipse cx="69.0" cy="193.9" rx="1.2" ry="0.8" fill="#b3b0d8" opacity="0.82" transform="rotate(57 69.0 193.9)"/>
<ellipse cx="71.2" cy="188.5" rx="1.4" ry="1.0" fill="#aeadd8" opacity="0.69" transform="rotate(23 71.2 188.5)"/>
<ellipse cx="66.2" cy="179.1" rx="1.4" ry="1.2" fill="#b3b0d8" opacity="0.70" transform="rotate(132 66.2 179.1)"/>
<ellipse cx="59.6" cy="174.2" rx="0.8" ry="0.8" fill="#a4a3d0" opacity="0.59" transform="rotate(67 59.6 174.2)"/>
<ellipse cx="64.7" cy="193.7" rx="0.9" ry="0.9" fill="#a4a3d0" opacity="0.89" transform="rotate(173 64.7 193.7)"/>
<ellipse cx="69.4" cy="174.8" rx="0.9" ry="0.8" fill="#b3b0d8" opacity="0.59" transform="rotate(14 69.4 174.8)"/>
<ellipse cx="68.3" cy="175.5" rx="1.9" ry="1.8" fill="#aeadd8" opacity="0.80" transform="rotate(66 68.3 175.5)"/>
<ellipse cx="77.3" cy="187.3" rx="0.8" ry="0.6" fill="#b9b8de" opacity="0.69" transform="rotate(141 77.3 187.3)"/>
<ellipse cx="55.3" cy="187.4" rx="1.5" ry="1.2" fill="#b9b8de" opacity="0.65" transform="rotate(28 55.3 187.4)"/>
<ellipse cx="73.3" cy="179.7" rx="0.9" ry="0.8" fill="#aeadd8" opacity="0.76" transform="rotate(52 73.3 179.7)"/>
<ellipse cx="64.1" cy="190.2" rx="0.9" ry="0.8" fill="#aeadd8" opacity="0.95" transform="rotate(9 64.1 190.2)"/>
<ellipse cx="78.0" cy="182.1" rx="1.4" ry="1.1" fill="#a4a3d0" opacity="0.65" transform="rotate(114 78.0 182.1)"/>
<ellipse cx="76.1" cy="188.6" rx="1.3" ry="1.0" fill="#b3b0d8" opacity="0.91" transform="rotate(129 76.1 188.6)"/>
<ellipse cx="64.3" cy="186.9" rx="1.0" ry="0.9" fill="#a4a3d0" opacity="0.83" transform="rotate(162 64.3 186.9)"/>
<ellipse cx="75.1" cy="191.3" rx="2.0" ry="1.1" fill="#a4a3d0" opacity="0.80" transform="rotate(65 75.1 191.3)"/>
<ellipse cx="63.6" cy="182.3" rx="1.6" ry="1.5" fill="#b3b0d8" opacity="0.82" transform="rotate(72 63.6 182.3)"/>
<ellipse cx="57.4" cy="174.5" rx="0.8" ry="0.5" fill="#a4a3d0" opacity="0.73" transform="rotate(67 57.4 174.5)"/>
<ellipse cx="61.4" cy="186.8" rx="2.0" ry="1.3" fill="#aeadd8" opacity="0.94" transform="rotate(79 61.4 186.8)"/>
<ellipse cx="67.7" cy="186.7" rx="1.1" ry="0.9" fill="#b9b8de" opacity="0.75" transform="rotate(51 67.7 186.7)"/>
<ellipse cx="66.6" cy="192.9" rx="0.8" ry="0.5" fill="#b9b8de" opacity="0.78" transform="rotate(100 66.6 192.9)"/>
<ellipse cx="73.9" cy="182.0" rx="1.0" ry="0.8" fill="#a4a3d0" opacity="0.84" transform="rotate(152 73.9 182.0)"/>
<ellipse cx="60.6" cy="185.9" rx="2.0" ry="1.3" fill="#a4a3d0" opacity="0.80" transform="rotate(37 60.6 185.9)"/>
<ellipse cx="78.4" cy="184.4" rx="1.9" ry="1.6" fill="#b3b0d8" opacity="0.87" transform="rotate(35 78.4 184.4)"/>
<ellipse cx="76.4" cy="174.7" rx="1.4" ry="1.3" fill="#b9b8de" opacity="0.78" transform="rotate(174 76.4 174.7)"/>
<ellipse cx="76.9" cy="178.0" rx="0.8" ry="0.5" fill="#b9b8de" opacity="0.69" transform="rotate(26 76.9 178.0)"/>
<ellipse cx="60.0" cy="187.3" rx="0.8" ry="0.6" fill="#b9b8de" opacity="0.82" transform="rotate(125 60.0 187.3)"/>
<ellipse cx="65.7" cy="190.1" rx="0.8" ry="0.7" fill="#b9b8de" opacity="0.58" transform="rotate(121 65.7 190.1)"/>
<ellipse cx="66.4" cy="184.7" rx="1.0" ry="0.7" fill="#a4a3d0" opacity="0.81" transform="rotate(117 66.4 184.7)"/>
<ellipse cx="58.2" cy="181.3" rx="1.3" ry="1.2" fill="#aeadd8" opacity="0.80" transform="rotate(164 58.2 181.3)"/>
<ellipse cx="69.8" cy="190.9" rx="1.1" ry="0.9" fill="#aeadd8" opacity="0.60" transform="rotate(123 69.8 190.9)"/>
<ellipse cx="73.0" cy="183.6" rx="1.6" ry="1.3" fill="#a4a3d0" opacity="0.67" transform="rotate(132 73.0 183.6)"/>
<ellipse cx="64.5" cy="190.0" rx="1.7" ry="1.2" fill="#a4a3d0" opacity="0.58" transform="rotate(121 64.5 190.0)"/>
<ellipse cx="75.6" cy="182.0" rx="1.8" ry="1.8" fill="#b3b0d8" opacity="0.70" transform="rotate(53 75.6 182.0)"/>
<ellipse cx="70.1" cy="182.8" rx="1.7" ry="1.6" fill="#aeadd8" opacity="0.60" transform="rotate(161 70.1 182.8)"/>
<ellipse cx="53.8" cy="180.3" rx="1.6" ry="1.2" fill="#a4a3d0" opacity="0.90" transform="rotate(100 53.8 180.3)"/>
<ellipse cx="67.3" cy="181.1" rx="1.3" ry="1.0" fill="#b3b0d8" opacity="0.84" transform="rotate(106 67.3 181.1)"/>
<ellipse cx="62.3" cy="187.3" rx="1.8" ry="1.2" fill="#b9b8de" opacity="0.69" transform="rotate(101 62.3 187.3)"/>
<ellipse cx="76.0" cy="189.9" rx="1.6" ry="1.1" fill="#aeadd8" opacity="0.58" transform="rotate(99 76.0 189.9)"/>
<ellipse cx="76.9" cy="180.9" rx="1.2" ry="1.0" fill="#b3b0d8" opacity="0.89" transform="rotate(71 76.9 180.9)"/>
<ellipse cx="76.4" cy="188.4" rx="1.1" ry="0.7" fill="#a4a3d0" opacity="0.66" transform="rotate(130 76.4 188.4)"/>
<ellipse cx="61.7" cy="191.9" rx="1.7" ry="1.6" fill="#b3b0d8" opacity="0.87" transform="rotate(161 61.7 191.9)"/>
<ellipse cx="56.3" cy="188.4" rx="1.4" ry="1.2" fill="#a4a3d0" opacity="0.57" transform="rotate(105 56.3 188.4)"/>
<ellipse cx="55.3" cy="184.6" rx="1.5" ry="1.2" fill="#aeadd8" opacity="0.91" transform="rotate(140 55.3 184.6)"/>
<ellipse cx="73.0" cy="187.7" rx="1.1" ry="0.8" fill="#aeadd8" opacity="0.85" transform="rotate(167 73.0 187.7)"/>
<ellipse cx="65.8" cy="191.9" rx="1.1" ry="0.7" fill="#b3b0d8" opacity="0.81" transform="rotate(19 65.8 191.9)"/>
<ellipse cx="69.9" cy="193.4" rx="1.3" ry="1.0" fill="#a4a3d0" opacity="0.68" transform="rotate(115 69.9 193.4)"/>
<ellipse cx="57.5" cy="185.4" rx="1.0" ry="0.7" fill="#a4a3d0" opacity="0.59" transform="rotate(61 57.5 185.4)"/>
<ellipse cx="58.3" cy="189.9" rx="1.0" ry="0.9" fill="#b9b8de" opacity="0.72" transform="rotate(105 58.3 189.9)"/>
<ellipse cx="66.3" cy="174.8" rx="1.1" ry="0.8" fill="#b9b8de" opacity="0.78" transform="rotate(92 66.3 174.8)"/>
<ellipse cx="73.2" cy="187.8" rx="1.5" ry="0.9" fill="#a4a3d0" opacity="0.91" transform="rotate(98 73.2 187.8)"/>
<ellipse cx="59.2" cy="186.3" rx="1.9" ry="1.2" fill="#b9b8de" opacity="0.72" transform="rotate(121 59.2 186.3)"/>
<ellipse cx="75.8" cy="179.1" rx="0.8" ry="0.8" fill="#b3b0d8" opacity="0.65" transform="rotate(27 75.8 179.1)"/>
<ellipse cx="67.4" cy="186.2" rx="2.0" ry="1.9" fill="#b9b8de" opacity="0.84" transform="rotate(165 67.4 186.2)"/>
<ellipse cx="73.8" cy="170.5" rx="0.8" ry="0.4" fill="#b9b8de" opacity="0.60" transform="rotate(145 73.8 170.5)"/>
<ellipse cx="76.0" cy="175.8" rx="1.1" ry="0.9" fill="#a4a3d0" opacity="0.76" transform="rotate(111 76.0 175.8)"/>
<ellipse cx="65.1" cy="176.7" rx="0.8" ry="0.6" fill="#a4a3d0" opacity="0.64" transform="rotate(153 65.1 176.7)"/>
<ellipse cx="76.4" cy="181.1" rx="2.0" ry="2.0" fill="#aeadd8" opacity="0.81" transform="rotate(62 76.4 181.1)"/>
<ellipse cx="60.0" cy="182.0" rx="1.0" ry="0.9" fill="#b3b0d8" opacity="0.67" transform="rotate(5 60.0 182.0)"/>
<ellipse cx="70.9" cy="192.9" rx="1.5" ry="1.0" fill="#b9b8de" opacity="0.82" transform="rotate(94 70.9 192.9)"/>
<ellipse cx="66.9" cy="183.5" rx="1.1" ry="0.8" fill="#b3b0d8" opacity="0.71" transform="rotate(1 66.9 183.5)"/>
<ellipse cx="69.9" cy="169.9" rx="1.4" ry="1.0" fill="#a4a3d0" opacity="0.63" transform="rotate(49 69.9 169.9)"/>
<ellipse cx="67.3" cy="187.3" rx="1.7" ry="1.0" fill="#aeadd8" opacity="0.80" transform="rotate(156 67.3 187.3)"/>
<ellipse cx="68.9" cy="186.9" rx="1.2" ry="1.2" fill="#b9b8de" opacity="0.61" transform="rotate(100 68.9 186.9)"/>
<ellipse cx="68.5" cy="181.7" rx="1.5" ry="0.8" fill="#b3b0d8" opacity="0.57" transform="rotate(100 68.5 181.7)"/>
<ellipse cx="55.7" cy="184.5" rx="1.1" ry="1.1" fill="#b9b8de" opacity="0.92" transform="rotate(84 55.7 184.5)"/>
<ellipse cx="70.5" cy="191.2" rx="1.4" ry="0.8" fill="#b3b0d8" opacity="0.82" transform="rotate(96 70.5 191.2)"/>
<ellipse cx="73.6" cy="169.6" rx="1.3" ry="0.7" fill="#b9b8de" opacity="0.66" transform="rotate(89 73.6 169.6)"/>
<ellipse cx="55.4" cy="187.1" rx="1.4" ry="1.0" fill="#a4a3d0" opacity="0.86" transform="rotate(79 55.4 187.1)"/>
<ellipse cx="70.4" cy="173.0" rx="0.8" ry="0.5" fill="#b3b0d8" opacity="0.77" transform="rotate(114 70.4 173.0)"/>
<ellipse cx="69.4" cy="188.6" rx="1.9" ry="1.6" fill="#b9b8de" opacity="0.65" transform="rotate(160 69.4 188.6)"/>
<ellipse cx="66.8" cy="178.3" rx="0.7" ry="0.7" fill="#b9b8de" opacity="0.57" transform="rotate(49 66.8 178.3)"/>
<ellipse cx="66.3" cy="168.2" rx="1.1" ry="0.8" fill="#aeadd8" opacity="0.93" transform="rotate(11 66.3 168.2)"/>
<ellipse cx="65.6" cy="192.4" rx="1.1" ry="0.8" fill="#aeadd8" opacity="0.84" transform="rotate(152 65.6 192.4)"/>
<ellipse cx="75.8" cy="175.6" rx="1.9" ry="1.8" fill="#b9b8de" opacity="0.59" transform="rotate(119 75.8 175.6)"/>
<ellipse cx="74.5" cy="178.6" rx="1.0" ry="0.9" fill="#b3b0d8" opacity="0.60" transform="rotate(127 74.5 178.6)"/>
<ellipse cx="71.4" cy="192.0" rx="1.7" ry="1.4" fill="#a4a3d0" opacity="0.68" transform="rotate(81 71.4 192.0)"/>
<ellipse cx="54.9" cy="183.9" rx="1.5" ry="1.1" fill="#a4a3d0" opacity="0.61" transform="rotate(104 54.9 183.9)"/>
<ellipse cx="68.8" cy="182.0" rx="1.4" ry="0.9" fill="#aeadd8" opacity="0.72" transform="rotate(26 68.8 182.0)"/>
<ellipse cx="73.4" cy="180.5" rx="0.8" ry="0.6" fill="#b9b8de" opacity="0.95" transform="rotate(114 73.4 180.5)"/>
<ellipse cx="51.5" cy="200.1" rx="0.9" ry="0.5" fill="#b9b8de" opacity="0.65" transform="rotate(129 51.5 200.1)"/>
<ellipse cx="52.1" cy="198.6" rx="1.3" ry="0.9" fill="#b3b0d8" opacity="0.78" transform="rotate(103 52.1 198.6)"/>
<ellipse cx="54.3" cy="194.5" rx="0.7" ry="0.6" fill="#aeadd8" opacity="0.74" transform="rotate(97 54.3 194.5)"/>
<ellipse cx="48.7" cy="186.2" rx="0.8" ry="0.6" fill="#b9b8de" opacity="0.88" transform="rotate(27 48.7 186.2)"/>
<ellipse cx="46.8" cy="188.6" rx="1.6" ry="1.5" fill="#b3b0d8" opacity="0.76" transform="rotate(53 46.8 188.6)"/>
<ellipse cx="46.5" cy="191.0" rx="0.8" ry="0.6" fill="#b9b8de" opacity="0.63" transform="rotate(148 46.5 191.0)"/>
<ellipse cx="42.3" cy="194.1" rx="1.3" ry="0.9" fill="#c48b9b" opacity="0.90" transform="rotate(34 42.3 194.1)"/>
<ellipse cx="54.4" cy="197.6" rx="1.4" ry="1.2" fill="#aeadd8" opacity="0.93" transform="rotate(126 54.4 197.6)"/>
<ellipse cx="45.3" cy="192.4" rx="0.9" ry="0.6" fill="#c48b9b" opacity="0.81" transform="rotate(129 45.3 192.4)"/>
<ellipse cx="56.6" cy="189.5" rx="1.1" ry="0.8" fill="#b9b8de" opacity="0.64" transform="rotate(8 56.6 189.5)"/>
<ellipse cx="44.3" cy="194.7" rx="1.8" ry="1.1" fill="#b3b0d8" opacity="0.71" transform="rotate(42 44.3 194.7)"/>
<ellipse cx="58.8" cy="189.5" rx="0.7" ry="0.5" fill="#a4a3d0" opacity="0.56" transform="rotate(97 58.8 189.5)"/>
<ellipse cx="47.6" cy="195.2" rx="1.3" ry="0.8" fill="#a4a3d0" opacity="0.78" transform="rotate(104 47.6 195.2)"/>
<ellipse cx="43.0" cy="195.5" rx="1.1" ry="0.6" fill="#b9b8de" opacity="0.82" transform="rotate(133 43.0 195.5)"/>
<ellipse cx="45.9" cy="192.0" rx="1.9" ry="1.7" fill="#b3b0d8" opacity="0.94" transform="rotate(16 45.9 192.0)"/>
<ellipse cx="53.7" cy="199.5" rx="1.1" ry="0.7" fill="#c48b9b" opacity="0.67" transform="rotate(83 53.7 199.5)"/>
<ellipse cx="50.6" cy="192.4" rx="1.8" ry="1.0" fill="#a4a3d0" opacity="0.80" transform="rotate(148 50.6 192.4)"/>
<ellipse cx="52.9" cy="196.5" rx="1.3" ry="0.7" fill="#b9b8de" opacity="0.79" transform="rotate(127 52.9 196.5)"/>
<ellipse cx="53.5" cy="186.0" rx="1.2" ry="1.0" fill="#b9b8de" opacity="0.73" transform="rotate(32 53.5 186.0)"/>
<ellipse cx="48.6" cy="187.0" rx="0.8" ry="0.7" fill="#b3b0d8" opacity="0.88" transform="rotate(116 48.6 187.0)"/>
<ellipse cx="50.7" cy="196.0" rx="1.3" ry="0.8" fill="#b9b8de" opacity="0.55" transform="rotate(153 50.7 196.0)"/>
<ellipse cx="48.8" cy="191.7" rx="1.2" ry="0.9" fill="#b3b0d8" opacity="0.94" transform="rotate(153 48.8 191.7)"/>
<ellipse cx="41.2" cy="192.4" rx="1.0" ry="0.7" fill="#a4a3d0" opacity="0.70" transform="rotate(133 41.2 192.4)"/>
<ellipse cx="49.5" cy="192.0" rx="1.5" ry="1.3" fill="#b9b8de" opacity="0.92" transform="rotate(103 49.5 192.0)"/>
<ellipse cx="50.9" cy="196.7" rx="1.4" ry="1.3" fill="#aeadd8" opacity="0.85" transform="rotate(82 50.9 196.7)"/>
<ellipse cx="41.7" cy="191.9" rx="1.9" ry="1.6" fill="#aeadd8" opacity="0.59" transform="rotate(124 41.7 191.9)"/>
<ellipse cx="43.0" cy="198.1" rx="1.8" ry="1.2" fill="#aeadd8" opacity="0.71" transform="rotate(98 43.0 198.1)"/>
<ellipse cx="54.8" cy="187.1" rx="1.9" ry="1.8" fill="#aeadd8" opacity="0.79" transform="rotate(92 54.8 187.1)"/>
<ellipse cx="47.8" cy="189.4" rx="1.8" ry="1.6" fill="#c48b9b" opacity="0.66" transform="rotate(17 47.8 189.4)"/>
<ellipse cx="40.2" cy="192.6" rx="2.0" ry="1.6" fill="#b9b8de" opacity="0.88" transform="rotate(74 40.2 192.6)"/>
<ellipse cx="48.6" cy="199.6" rx="1.0" ry="0.7" fill="#b3b0d8" opacity="0.65" transform="rotate(63 48.6 199.6)"/>
<ellipse cx="52.3" cy="185.9" rx="1.0" ry="0.8" fill="#c48b9b" opacity="0.63" transform="rotate(127 52.3 185.9)"/>
<ellipse cx="51.8" cy="185.6" rx="1.2" ry="1.1" fill="#a4a3d0" opacity="0.95" transform="rotate(11 51.8 185.6)"/>
<ellipse cx="50.9" cy="189.7" rx="1.5" ry="0.9" fill="#aeadd8" opacity="0.74" transform="rotate(171 50.9 189.7)"/>
<ellipse cx="58.4" cy="188.3" rx="0.8" ry="0.6" fill="#c48b9b" opacity="0.94" transform="rotate(16 58.4 188.3)"/>
<ellipse cx="49.1" cy="193.9" rx="1.9" ry="1.6" fill="#a4a3d0" opacity="0.70" transform="rotate(19 49.1 193.9)"/>
<ellipse cx="53.5" cy="186.3" rx="1.5" ry="1.0" fill="#aeadd8" opacity="0.85" transform="rotate(83 53.5 186.3)"/>
<ellipse cx="59.1" cy="195.5" rx="1.9" ry="1.3" fill="#c48b9b" opacity="0.61" transform="rotate(65 59.1 195.5)"/>
<ellipse cx="53.2" cy="190.6" rx="1.6" ry="1.0" fill="#b9b8de" opacity="0.64" transform="rotate(75 53.2 190.6)"/>
<ellipse cx="55.4" cy="190.4" rx="1.0" ry="0.6" fill="#b9b8de" opacity="0.86" transform="rotate(45 55.4 190.4)"/>
<ellipse cx="53.6" cy="187.3" rx="1.1" ry="1.0" fill="#a4a3d0" opacity="0.74" transform="rotate(144 53.6 187.3)"/>
<ellipse cx="49.4" cy="190.3" rx="0.9" ry="0.6" fill="#a4a3d0" opacity="0.64" transform="rotate(44 49.4 190.3)"/>
<ellipse cx="54.5" cy="198.5" rx="0.8" ry="0.6" fill="#b3b0d8" opacity="0.80" transform="rotate(106 54.5 198.5)"/>
<ellipse cx="52.7" cy="187.7" rx="1.6" ry="1.4" fill="#aeadd8" opacity="0.94" transform="rotate(125 52.7 187.7)"/>
<ellipse cx="56.1" cy="187.5" rx="1.7" ry="1.2" fill="#a4a3d0" opacity="0.82" transform="rotate(121 56.1 187.5)"/>
<ellipse cx="54.8" cy="186.2" rx="1.1" ry="0.8" fill="#c48b9b" opacity="0.92" transform="rotate(74 54.8 186.2)"/>
<ellipse cx="52.8" cy="186.9" rx="1.2" ry="1.1" fill="#a4a3d0" opacity="0.81" transform="rotate(31 52.8 186.9)"/>
<ellipse cx="49.5" cy="193.9" rx="1.8" ry="1.8" fill="#c48b9b" opacity="0.69" transform="rotate(178 49.5 193.9)"/>
<ellipse cx="60.3" cy="193.9" rx="1.8" ry="1.0" fill="#b9b8de" opacity="0.62" transform="rotate(148 60.3 193.9)"/>
<ellipse cx="58.7" cy="190.3" rx="1.8" ry="1.5" fill="#c48b9b" opacity="0.94" transform="rotate(27 58.7 190.3)"/>
<ellipse cx="44.8" cy="196.5" rx="2.0" ry="2.0" fill="#aeadd8" opacity="0.69" transform="rotate(81 44.8 196.5)"/>
<ellipse cx="45.7" cy="188.1" rx="0.9" ry="0.7" fill="#a4a3d0" opacity="0.78" transform="rotate(95 45.7 188.1)"/>
<ellipse cx="50.1" cy="187.3" rx="1.7" ry="1.5" fill="#b9b8de" opacity="0.92" transform="rotate(169 50.1 187.3)"/>
<ellipse cx="54.5" cy="189.7" rx="0.7" ry="0.6" fill="#a4a3d0" opacity="0.74" transform="rotate(121 54.5 189.7)"/>
<ellipse cx="44.7" cy="190.9" rx="1.5" ry="1.4" fill="#b9b8de" opacity="0.85" transform="rotate(149 44.7 190.9)"/>
<ellipse cx="47.2" cy="187.6" rx="1.1" ry="1.0" fill="#b3b0d8" opacity="0.73" transform="rotate(161 47.2 187.6)"/>
<ellipse cx="58.4" cy="196.5" rx="1.3" ry="1.0" fill="#a4a3d0" opacity="0.84" transform="rotate(92 58.4 196.5)"/>
<ellipse cx="48.3" cy="186.2" rx="1.2" ry="0.8" fill="#c48b9b" opacity="0.77" transform="rotate(151 48.3 186.2)"/>
<ellipse cx="51.9" cy="195.2" rx="1.8" ry="1.4" fill="#b9b8de" opacity="0.82" transform="rotate(79 51.9 195.2)"/>
<ellipse cx="51.7" cy="198.7" rx="1.0" ry="1.0" fill="#a4a3d0" opacity="0.56" transform="rotate(113 51.7 198.7)"/>
<ellipse cx="49.0" cy="188.9" rx="1.1" ry="1.0" fill="#b9b8de" opacity="0.85" transform="rotate(147 49.0 188.9)"/>
<ellipse cx="48.1" cy="196.7" rx="0.8" ry="0.5" fill="#a4a3d0" opacity="0.89" transform="rotate(106 48.1 196.7)"/>
<ellipse cx="50.9" cy="199.7" rx="1.8" ry="1.4" fill="#b9b8de" opacity="0.63" transform="rotate(107 50.9 199.7)"/>
<ellipse cx="55.7" cy="189.6" rx="0.9" ry="0.8" fill="#a4a3d0" opacity="0.86" transform="rotate(170 55.7 189.6)"/>
<ellipse cx="47.2" cy="185.2" rx="1.3" ry="0.8" fill="#b9b8de" opacity="0.83" transform="rotate(50 47.2 185.2)"/>
<ellipse cx="55.6" cy="192.2" rx="1.7" ry="1.5" fill="#aeadd8" opacity="0.64" transform="rotate(101 55.6 192.2)"/>
<ellipse cx="52.7" cy="188.6" rx="1.1" ry="0.9" fill="#aeadd8" opacity="0.71" transform="rotate(53 52.7 188.6)"/>
<ellipse cx="47.5" cy="186.2" rx="1.0" ry="0.9" fill="#b9b8de" opacity="0.81" transform="rotate(126 47.5 186.2)"/>
<ellipse cx="55.3" cy="198.4" rx="1.0" ry="0.8" fill="#b9b8de" opacity="0.91" transform="rotate(140 55.3 198.4)"/>
<ellipse cx="46.0" cy="185.6" rx="1.8" ry="1.5" fill="#aeadd8" opacity="0.80" transform="rotate(120 46.0 185.6)"/>
<ellipse cx="56.2" cy="195.7" rx="1.1" ry="0.9" fill="#a4a3d0" opacity="0.93" transform="rotate(108 56.2 195.7)"/>
<ellipse cx="48.6" cy="186.5" rx="1.0" ry="0.8" fill="#a4a3d0" opacity="0.66" transform="rotate(113 48.6 186.5)"/>
<ellipse cx="46.5" cy="197.8" rx="1.6" ry="1.1" fill="#c48b9b" opacity="0.56" transform="rotate(80 46.5 197.8)"/>
<ellipse cx="42.6" cy="196.6" rx="0.9" ry="0.7" fill="#b3b0d8" opacity="0.92" transform="rotate(114 42.6 196.6)"/>
<ellipse cx="49.1" cy="192.9" rx="1.1" ry="0.6" fill="#a4a3d0" opacity="0.56" transform="rotate(155 49.1 192.9)"/>
<ellipse cx="35.3" cy="153.9" rx="1.2" ry="0.9" fill="#a4a3d0" opacity="0.75" transform="rotate(71 35.3 153.9)"/>
<ellipse cx="38.2" cy="153.7" rx="1.2" ry="0.7" fill="#aeadd8" opacity="0.93" transform="rotate(92 38.2 153.7)"/>
<ellipse cx="47.1" cy="156.9" rx="1.3" ry="0.9" fill="#b3b0d8" opacity="0.88" transform="rotate(67 47.1 156.9)"/>
<ellipse cx="33.6" cy="156.7" rx="1.3" ry="1.0" fill="#a4a3d0" opacity="0.89" transform="rotate(61 33.6 156.7)"/>
<ellipse cx="46.1" cy="154.7" rx="0.6" ry="0.4" fill="#b9b8de" opacity="0.63" transform="rotate(77 46.1 154.7)"/>
<ellipse cx="33.2" cy="154.4" rx="0.9" ry="0.6" fill="#b3b0d8" opacity="0.58" transform="rotate(149 33.2 154.4)"/>
<ellipse cx="37.4" cy="159.0" rx="1.5" ry="1.0" fill="#b3b0d8" opacity="0.56" transform="rotate(77 37.4 159.0)"/>
<ellipse cx="42.7" cy="151.4" rx="1.2" ry="0.7" fill="#b9b8de" opacity="0.78" transform="rotate(95 42.7 151.4)"/>
<ellipse cx="42.6" cy="154.4" rx="1.7" ry="1.2" fill="#b9b8de" opacity="0.94" transform="rotate(48 42.6 154.4)"/>
<ellipse cx="45.0" cy="154.3" rx="1.1" ry="0.9" fill="#a4a3d0" opacity="0.61" transform="rotate(133 45.0 154.3)"/>
<ellipse cx="41.2" cy="157.2" rx="1.1" ry="0.9" fill="#a4a3d0" opacity="0.93" transform="rotate(44 41.2 157.2)"/>
<ellipse cx="41.0" cy="151.7" rx="1.0" ry="0.6" fill="#b3b0d8" opacity="0.77" transform="rotate(11 41.0 151.7)"/>
<ellipse cx="37.8" cy="158.3" rx="0.7" ry="0.5" fill="#b3b0d8" opacity="0.61" transform="rotate(126 37.8 158.3)"/>
<ellipse cx="38.2" cy="153.1" rx="1.2" ry="0.9" fill="#aeadd8" opacity="0.79" transform="rotate(16 38.2 153.1)"/>
<ellipse cx="43.3" cy="159.5" rx="1.6" ry="1.2" fill="#a4a3d0" opacity="0.78" transform="rotate(137 43.3 159.5)"/>
<ellipse cx="34.9" cy="158.5" rx="1.2" ry="1.2" fill="#b9b8de" opacity="0.72" transform="rotate(9 34.9 158.5)"/>
<ellipse cx="43.7" cy="152.8" rx="0.7" ry="0.4" fill="#aeadd8" opacity="0.59" transform="rotate(116 43.7 152.8)"/>
<ellipse cx="43.6" cy="151.2" rx="0.8" ry="0.7" fill="#b3b0d8" opacity="0.92" transform="rotate(87 43.6 151.2)"/>
<ellipse cx="38.9" cy="150.3" rx="1.4" ry="1.0" fill="#b3b0d8" opacity="0.76" transform="rotate(133 38.9 150.3)"/>
<ellipse cx="42.2" cy="157.7" rx="1.3" ry="1.1" fill="#a4a3d0" opacity="0.79" transform="rotate(160 42.2 157.7)"/>
<ellipse cx="32.9" cy="156.2" rx="1.7" ry="1.5" fill="#b3b0d8" opacity="0.65" transform="rotate(74 32.9 156.2)"/>
<ellipse cx="41.3" cy="154.7" rx="1.6" ry="1.6" fill="#b9b8de" opacity="0.66" transform="rotate(171 41.3 154.7)"/>
<ellipse cx="35.2" cy="156.0" rx="1.0" ry="1.0" fill="#a4a3d0" opacity="0.62" transform="rotate(151 35.2 156.0)"/>
<ellipse cx="41.2" cy="157.9" rx="0.7" ry="0.7" fill="#aeadd8" opacity="0.74" transform="rotate(177 41.2 157.9)"/>
<ellipse cx="43.2" cy="151.3" rx="1.1" ry="0.7" fill="#a4a3d0" opacity="0.70" transform="rotate(160 43.2 151.3)"/>
<ellipse cx="40.1" cy="155.0" rx="1.1" ry="1.0" fill="#b3b0d8" opacity="0.90" transform="rotate(166 40.1 155.0)"/>
<ellipse cx="42.2" cy="160.2" rx="1.5" ry="1.0" fill="#b9b8de" opacity="0.69" transform="rotate(108 42.2 160.2)"/>
<ellipse cx="40.4" cy="151.1" rx="0.9" ry="0.7" fill="#aeadd8" opacity="0.75" transform="rotate(67 40.4 151.1)"/>
<ellipse cx="34.7" cy="158.0" rx="1.0" ry="0.8" fill="#aeadd8" opacity="0.73" transform="rotate(122 34.7 158.0)"/>
<ellipse cx="38.0" cy="154.7" rx="1.2" ry="1.1" fill="#aeadd8" opacity="0.71" transform="rotate(43 38.0 154.7)"/>
<ellipse cx="47.8" cy="154.3" rx="1.4" ry="1.1" fill="#b9b8de" opacity="0.84" transform="rotate(78 47.8 154.3)"/>
<ellipse cx="44.6" cy="155.8" rx="1.0" ry="0.8" fill="#b3b0d8" opacity="0.66" transform="rotate(47 44.6 155.8)"/>
<ellipse cx="40.3" cy="158.6" rx="1.2" ry="0.8" fill="#b9b8de" opacity="0.85" transform="rotate(107 40.3 158.6)"/>
<ellipse cx="42.2" cy="159.5" rx="1.1" ry="0.8" fill="#b9b8de" opacity="0.69" transform="rotate(147 42.2 159.5)"/>
<ellipse cx="42.8" cy="160.5" rx="1.2" ry="1.1" fill="#aeadd8" opacity="0.81" transform="rotate(148 42.8 160.5)"/>
<ellipse cx="45.7" cy="156.8" rx="1.5" ry="1.1" fill="#b3b0d8" opacity="0.81" transform="rotate(40 45.7 156.8)"/>
<ellipse cx="45.3" cy="158.8" rx="1.0" ry="0.6" fill="#a4a3d0" opacity="0.92" transform="rotate(130 45.3 158.8)"/>
<ellipse cx="40.8" cy="153.9" rx="1.1" ry="0.6" fill="#aeadd8" opacity="0.92" transform="rotate(113 40.8 153.9)"/>
<ellipse cx="38.3" cy="151.3" rx="1.4" ry="1.0" fill="#a4a3d0" opacity="0.72" transform="rotate(87 38.3 151.3)"/>
<ellipse cx="45.5" cy="154.4" rx="1.0" ry="0.8" fill="#b9b8de" opacity="0.61" transform="rotate(47 45.5 154.4)"/>
<circle cx="36.90" cy="169.80" r="7.34" fill="url(#glow)"/>
<circle cx="36.90" cy="169.80" r="4.82" fill="#6cc594"/>
<circle cx="36.90" cy="169.80" r="3.10" fill="#47ae75"/>
<circle cx="36.90" cy="169.80" r="1.58" fill="#2e955a"/>
<circle cx="58.00" cy="164.40" r="7.34" fill="url(#glow)"/>
<circle cx="58.00" cy="164.40" r="4.82" fill="#6cc594"/>
<circle cx="58.00" cy="164.40" r="3.10" fill="#47ae75"/>
<circle cx="58.00" cy="164.40" r="1.58" fill="#2e955a"/>
<circle cx="49.70" cy="179.20" r="7.34" fill="url(#glow)"/>
<circle cx="49.70" cy="179.20" r="4.82" fill="#6cc594"/>
<circle cx="49.70" cy="179.20" r="3.10" fill="#47ae75"/>
<circle cx="49.70" cy="179.20" r="1.58" fill="#2e955a"/>
<circle cx="55.09" cy="71.52" r="0.64" fill="#4aa3d8"/>
<circle cx="66.75" cy="70.27" r="0.59" fill="#4aa3d8"/>
<circle cx="54.97" cy="69.67" r="0.73" fill="#7cc4ea"/>
<circle cx="60.50" cy="65.90" r="0.46" fill="#4aa3d8"/>
<circle cx="60.26" cy="74.31" r="0.46" fill="#4aa3d8"/>
<circle cx="48.45" cy="78.68" r="0.51" fill="#4aa3d8"/>
<circle cx="71.44" cy="69.95" r="0.77" fill="#7cc4ea"/>
<circle cx="71.76" cy="72.95" r="0.45" fill="#7cc4ea"/>
<circle cx="50.31" cy="75.73" r="0.79" fill="#7cc4ea"/>
<circle cx="73.49" cy="70.60" r="0.73" fill="#4aa3d8"/>
<circle cx="58.93" cy="69.92" r="0.76" fill="#4aa3d8"/>
<circle cx="78.13" cy="76.48" r="0.64" fill="#4aa3d8"/>
<circle cx="52.55" cy="74.64" r="0.76" fill="#4aa3d8"/>
<circle cx="50.54" cy="75.97" r="0.80" fill="#7cc4ea"/>
<circle cx="56.69" cy="75.31" r="0.80" fill="#5aaee4"/>
<circle cx="58.70" cy="74.80" r="0.41" fill="#7cc4ea"/>
<circle cx="73.14" cy="68.70" r="0.65" fill="#5aaee4"/>
<circle cx="59.85" cy="69.41" r="0.77" fill="#7cc4ea"/>
<circle cx="64.18" cy="64.50" r="0.43" fill="#4aa3d8"/>
<circle cx="65.21" cy="67.61" r="0.52" fill="#7cc4ea"/>
<circle cx="52.31" cy="77.47" r="0.53" fill="#5aaee4"/>
<circle cx="77.49" cy="75.98" r="0.61" fill="#4aa3d8"/>
<circle cx="76.47" cy="72.82" r="0.79" fill="#4aa3d8"/>
<circle cx="56.22" cy="71.63" r="0.77" fill="#7cc4ea"/>
<circle cx="80.25" cy="78.49" r="0.40" fill="#7cc4ea"/>
<circle cx="80.57" cy="78.17" r="0.64" fill="#5aaee4"/>
<circle cx="49.04" cy="76.82" r="0.67" fill="#7cc4ea"/>
<circle cx="67.70" cy="71.24" r="0.64" fill="#4aa3d8"/>
<circle cx="47.72" cy="78.92" r="0.52" fill="#4aa3d8"/>
<circle cx="57.88" cy="70.78" r="0.55" fill="#4aa3d8"/>
<circle cx="55.98" cy="68.48" r="0.73" fill="#4aa3d8"/>
<circle cx="70.25" cy="73.08" r="0.66" fill="#7cc4ea"/>
<circle cx="55.12" cy="73.63" r="0.68" fill="#5aaee4"/>
<circle cx="67.42" cy="67.00" r="0.49" fill="#5aaee4"/>
<circle cx="49.72" cy="74.95" r="0.63" fill="#7cc4ea"/>
<circle cx="54.65" cy="74.58" r="0.48" fill="#4aa3d8"/>
<circle cx="53.24" cy="75.76" r="0.66" fill="#4aa3d8"/>
<circle cx="58.74" cy="71.94" r="0.72" fill="#7cc4ea"/>
<circle cx="62.80" cy="67.30" r="0.63" fill="#5aaee4"/>
<circle cx="78.30" cy="75.23" r="0.78" fill="#4aa3d8"/>
<circle cx="80.56" cy="80.41" r="0.77" fill="#5aaee4"/>
<circle cx="48.10" cy="79.04" r="0.70" fill="#7cc4ea"/>
<ellipse cx="43.2" cy="84.4" rx="0.9" ry="0.9" fill="#9392cd" opacity="0.95" transform="rotate(121 43.2 84.4)"/>
<ellipse cx="42.5" cy="78.8" rx="0.9" ry="0.8" fill="#8fa6d8" opacity="0.56" transform="rotate(149 42.5 78.8)"/>
<ellipse cx="40.1" cy="82.2" rx="1.0" ry="0.9" fill="#8fa6d8" opacity="0.72" transform="rotate(104 40.1 82.2)"/>
<ellipse cx="40.9" cy="81.0" rx="0.7" ry="0.6" fill="#9392cd" opacity="0.81" transform="rotate(94 40.9 81.0)"/>
<ellipse cx="44.9" cy="82.0" rx="0.6" ry="0.4" fill="#8fa6d8" opacity="0.77" transform="rotate(87 44.9 82.0)"/>
<ellipse cx="40.2" cy="82.4" rx="1.0" ry="0.9" fill="#9392cd" opacity="0.64" transform="rotate(50 40.2 82.4)"/>
<ellipse cx="42.5" cy="85.3" rx="1.1" ry="0.7" fill="#8fa6d8" opacity="0.74" transform="rotate(99 42.5 85.3)"/>
<ellipse cx="42.7" cy="85.2" rx="1.1" ry="0.8" fill="#9392cd" opacity="0.93" transform="rotate(128 42.7 85.2)"/>
<ellipse cx="38.5" cy="84.1" rx="0.8" ry="0.7" fill="#8fa6d8" opacity="0.61" transform="rotate(126 38.5 84.1)"/>
<ellipse cx="42.6" cy="81.5" rx="0.9" ry="0.7" fill="#8fa6d8" opacity="0.68" transform="rotate(159 42.6 81.5)"/>
<ellipse cx="44.0" cy="83.6" rx="0.9" ry="0.7" fill="#9392cd" opacity="0.79" transform="rotate(78 44.0 83.6)"/>
<ellipse cx="41.5" cy="83.1" rx="1.1" ry="1.0" fill="#8fa6d8" opacity="0.70" transform="rotate(174 41.5 83.1)"/>
<ellipse cx="44.3" cy="82.2" rx="1.0" ry="0.7" fill="#8fa6d8" opacity="0.95" transform="rotate(151 44.3 82.2)"/>
<ellipse cx="43.8" cy="81.7" rx="0.9" ry="0.8" fill="#8fa6d8" opacity="0.65" transform="rotate(143 43.8 81.7)"/>
<path d="M95.3 81.9L96.1 85.2M93.1 81.7L91.8 84.9M90.8 80.0L87.7 82.5M90.0 78.2L86.8 79.1M89.9 76.4L86.9 75.5M91.3 73.9L88.8 70.8M92.7 73.0L91.5 69.9M95.4 72.8L96.5 68.9M96.9 73.4L99.0 70.3M98.7 75.3L101.5 73.9M99.1 77.1L103.3 77.1M98.5 79.6L101.2 81.5M97.0 81.2L98.9 84.8" fill="none" stroke="#9b6fc3" stroke-width="1.89" stroke-linecap="round"/>
<path d="M95.3 81.9Q96.1 85.2 98.2 87.0M93.1 81.7Q91.8 84.9 89.2 86.2M90.8 80.0Q87.7 82.5 86.5 85.3M90.0 78.2Q86.8 79.1 85.2 81.1M89.9 76.4Q86.9 75.5 85.6 73.2M91.3 73.9Q88.8 70.8 88.2 67.7M92.7 73.0Q91.5 69.9 91.3 67.7M95.4 72.8Q96.5 68.9 99.1 66.7M96.9 73.4Q99.0 70.3 101.1 68.6M98.7 75.3Q101.5 73.9 103.2 72.9M99.1 77.1Q103.3 77.1 106.1 79.1M98.5 79.6Q101.2 81.5 101.8 84.2M97.0 81.2Q98.9 84.8 98.6 88.2" fill="none" stroke="#9b6fc3" stroke-width="1.05" stroke-linecap="round"/>
<circle cx="94.50" cy="77.30" r="5.80" fill="#9b6fc3"/>
<circle cx="94.50" cy="77.30" r="3.78" fill="#7a43a6" opacity="0.4"/>
<circle cx="94.50" cy="77.30" r="2.44" fill="#7a43a6"/>
<path d="M131.5 106.7L131.5 109.6M129.9 106.6L128.9 109.4M127.4 105.4L125.2 108.1M125.7 103.0L122.7 104.5M125.3 100.0L122.6 99.7M125.8 98.3L123.0 97.1M128.3 95.6L126.5 93.0M130.1 95.0L128.9 91.1M133.1 95.2L134.2 92.2M135.1 96.3L137.5 93.6M136.8 98.8L140.5 97.6M137.1 100.8L139.9 101.2M136.3 103.8L138.7 105.5M134.4 105.8L136.2 109.0" fill="none" stroke="#a4c0e6" stroke-width="1.53" stroke-linecap="round"/>
<path d="M131.5 106.7Q131.5 109.6 130.6 110.9M129.9 106.6Q128.9 109.4 126.2 110.0M127.4 105.4Q125.2 108.1 124.0 109.9M125.7 103.0Q122.7 104.5 121.7 106.7M125.3 100.0Q122.6 99.7 121.2 100.9M125.8 98.3Q123.0 97.1 121.4 96.9M128.3 95.6Q126.5 93.0 124.0 92.7M130.1 95.0Q128.9 91.1 125.9 89.5M133.1 95.2Q134.2 92.2 135.6 90.9M135.1 96.3Q137.5 93.6 138.9 92.0M136.8 98.8Q140.5 97.6 143.0 97.2M137.1 100.8Q139.9 101.2 140.8 103.3M136.3 103.8Q138.7 105.5 138.6 108.0M134.4 105.8Q136.2 109.0 135.4 111.8" fill="none" stroke="#a4c0e6" stroke-width="0.85" stroke-linecap="round"/>
<circle cx="131.20" cy="100.80" r="7.40" fill="#8d9cd5"/>
<circle cx="131.20" cy="100.80" r="4.82" fill="#9b66b8" opacity="0.4"/>
<circle cx="131.20" cy="100.80" r="3.11" fill="#9b66b8"/>
<line x1="129.40" y1="107.50" x2="129.40" y2="121.50" stroke="#c03d74" stroke-width="0.9"/>
<line x1="131.10" y1="107.50" x2="131.10" y2="122.50" stroke="#7b7d90" stroke-width="0.8"/>
<line x1="133.00" y1="107.50" x2="133.00" y2="123.00" stroke="#237a78" stroke-width="1.0"/>
<line x1="134.80" y1="107.50" x2="134.80" y2="123.00" stroke="#237a78" stroke-width="0.9"/>
<circle cx="137.20" cy="108.50" r="0.90" fill="#d0457c"/>
<circle cx="132.40" cy="129.40" r="8.60" fill="#b4e2e4"/>
<circle cx="132.40" cy="129.40" r="7.20" fill="#9ad6da"/>
<circle cx="132.40" cy="129.40" r="6.40" fill="#b9e5e7"/>
<circle cx="133.00" cy="129.60" r="4.40" fill="#6cc7cd"/>
<circle cx="133.00" cy="129.60" r="2.60" fill="#5bbbc4"/>
<circle cx="102.10" cy="148.60" r="10.81" fill="url(#glow)"/>
<circle cx="102.10" cy="148.60" r="7.10" fill="#6cc594"/>
<circle cx="102.10" cy="148.60" r="4.56" fill="#47ae75"/>
<circle cx="102.10" cy="148.60" r="2.33" fill="#2e955a"/>
</g>
<line x1="56.80" y1="19.30" x2="66.50" y2="15.20" stroke="#222" stroke-width="0.7"/>
<line x1="64.50" y1="42.90" x2="79.00" y2="42.90" stroke="#222" stroke-width="0.7"/>
<line x1="40.80" y1="61.70" x2="40.80" y2="77.50" stroke="#222" stroke-width="0.8" marker-end="url(#ah)"/>
<line x1="40.30" y1="131.70" x2="40.30" y2="146.80" stroke="#222" stroke-width="0.8" marker-end="url(#ah)"/>
<path d="M47.2 79.2Q64 69.5 83.8 75.6" fill="none" stroke="#2f5f6a" stroke-width="0.7" marker-end="url(#ah2)"/>
<path d="M113.6 77.6Q122 79.5 125.6 87.0" fill="none" stroke="#222" stroke-width="0.7" marker-end="url(#ah2)"/>
<path d="M124.8 137.2Q120.5 144.5 111.8 146.0" fill="none" stroke="#222" stroke-width="0.7" marker-end="url(#ah2)"/>
<path d="M92.8 158.3Q88.5 165.2 80.2 167.7" fill="none" stroke="#222" stroke-width="0.7" marker-end="url(#ah2)"/>
<text x="66.30" y="11.70" font-size="7.4">PTDSS2 intact</text>
<text x="80.80" y="45.60" font-size="7.4">PTDSS2 null</text>
<text x="6.50" y="69.80" font-size="7.2">PTDSS1i</text>
<text x="57.20" y="83.30" font-size="7.4">DAMPs</text>
<text x="107.60" y="69.50" font-size="7.4">DC activation</text>
<text x="100.00" y="167.20" font-size="7.4">T-cell activation</text>
<text x="69.20" y="207.90" font-size="7.4" text-anchor="middle">Antitumor effect to</text>
<text x="69.50" y="215.50" font-size="7.4" text-anchor="middle">PTDSS2 intact cells by T-cell</text>
</g>
<g id="panelC">
<text x="0.80" y="240.70" font-size="12.5" font-weight="bold" fill="#111">C</text>
<text x="45.60" y="243.20" font-size="7.7" text-anchor="middle">CT26.WT</text>
<text x="45.60" y="249.60" font-size="7.35" text-anchor="middle">(Balb/c derived)</text>
<text x="45.60" y="256.30" font-size="7.4" text-anchor="middle">Pss2-KO</text>
<g filter="url(#soft)">
<circle cx="55.32" cy="266.97" r="1.84" fill="#6d70bf"/>
<circle cx="56.20" cy="271.26" r="1.84" fill="#6d70bf"/>
<circle cx="54.99" cy="275.55" r="1.84" fill="#6d70bf"/>
<circle cx="51.68" cy="278.53" r="1.84" fill="#6d70bf"/>
<circle cx="47.46" cy="279.83" r="1.84" fill="#6d70bf"/>
<circle cx="43.08" cy="279.06" r="1.84" fill="#6d70bf"/>
<circle cx="39.94" cy="276.01" r="1.84" fill="#6d70bf"/>
<circle cx="37.82" cy="272.18" r="1.84" fill="#6d70bf"/>
<circle cx="38.05" cy="267.70" r="1.84" fill="#6d70bf"/>
<circle cx="40.70" cy="264.16" r="1.84" fill="#6d70bf"/>
<circle cx="44.36" cy="261.77" r="1.84" fill="#6d70bf"/>
<circle cx="48.76" cy="261.55" r="1.84" fill="#6d70bf"/>
<circle cx="52.91" cy="263.23" r="1.84" fill="#6d70bf"/>
<circle cx="47.00" cy="270.60" r="9.89" fill="#7d80ca" stroke="#6d70bf" stroke-width="0.5"/>
<circle cx="47.20" cy="271.01" r="6.12" fill="#6d70bf" opacity="0.6"/>
<circle cx="47.20" cy="271.01" r="4.08" fill="#5558b0"/>
<path d="M105.8 273.6Q109.8 273.2 110.6 269.6Q111.4 266.6 115.6 267.6" fill="none" stroke="#dfa5a8" stroke-width="0.9" stroke-linecap="round"/>
<path d="M92.2 275.5L90.6 279.0M96.0 277.0L95.4 279.6M101.0 277.2L100.8 280.6M104.0 275.8L105.2 279.2" fill="none" stroke="#e3c1bf" stroke-width="1.5" stroke-linecap="round"/>
<path d="M89.4 279.3h2M99.6 280.9h2.2" fill="none" stroke="#dfa5a8" stroke-width="0.8" stroke-linecap="round"/>
<ellipse cx="98.6" cy="271.6" rx="7.8" ry="6.3" fill="#ebe5e3" stroke="#cbc1be" stroke-width="0.5" transform="rotate(12 98.6 271.6)"/>
<path d="M84.8 267.6Q86.6 262.6 91.6 262.4Q96.2 263.4 96.0 268.4Q93.6 272.8 89.4 271.6Q86.0 270.4 84.8 267.6z" fill="#ebe5e3" stroke="#cbc1be" stroke-width="0.5"/>
<circle cx="97.20" cy="263.60" r="2.70" fill="#e3afb1"/>
<circle cx="97.20" cy="263.60" r="1.60" fill="#d99a9e"/>
<circle cx="89.20" cy="261.90" r="1.40" fill="#e3afb1"/>
<circle cx="89.00" cy="266.60" r="0.55" fill="#333"/>
<circle cx="85.00" cy="267.80" r="0.60" fill="#d88d92"/>
<circle cx="36.53" cy="317.50" r="0.45" fill="#6ab7e6"/>
<circle cx="41.44" cy="315.22" r="0.56" fill="#8fd0ee"/>
<circle cx="37.52" cy="309.35" r="0.55" fill="#8fd0ee"/>
<circle cx="33.83" cy="316.02" r="0.47" fill="#4aa3d8"/>
<circle cx="39.13" cy="311.55" r="0.72" fill="#8fd0ee"/>
<circle cx="30.60" cy="319.34" r="0.44" fill="#7cc4ea"/>
<circle cx="41.33" cy="316.41" r="0.60" fill="#6ab7e6"/>
<circle cx="37.18" cy="308.39" r="0.61" fill="#7cc4ea"/>
<circle cx="36.01" cy="306.06" r="0.65" fill="#8fd0ee"/>
<circle cx="41.62" cy="313.78" r="0.53" fill="#7cc4ea"/>
<circle cx="37.68" cy="312.47" r="0.53" fill="#8fd0ee"/>
<circle cx="28.00" cy="314.02" r="0.58" fill="#8fd0ee"/>
<circle cx="37.56" cy="312.27" r="0.61" fill="#8fd0ee"/>
<circle cx="32.07" cy="307.28" r="0.50" fill="#4aa3d8"/>
<circle cx="38.14" cy="314.67" r="0.53" fill="#4aa3d8"/>
<circle cx="33.48" cy="323.30" r="0.57" fill="#8fd0ee"/>
<circle cx="36.19" cy="308.66" r="0.67" fill="#8fd0ee"/>
<circle cx="39.75" cy="313.34" r="0.67" fill="#4aa3d8"/>
<circle cx="32.29" cy="314.52" r="0.49" fill="#6ab7e6"/>
<circle cx="42.36" cy="314.52" r="0.41" fill="#4aa3d8"/>
<circle cx="40.80" cy="313.40" r="0.44" fill="#7cc4ea"/>
<circle cx="36.10" cy="317.73" r="0.56" fill="#8fd0ee"/>
<circle cx="36.12" cy="305.97" r="0.52" fill="#7cc4ea"/>
<circle cx="38.20" cy="313.29" r="0.49" fill="#6ab7e6"/>
<circle cx="37.93" cy="316.95" r="0.55" fill="#8fd0ee"/>
<circle cx="32.05" cy="307.19" r="0.60" fill="#4aa3d8"/>
<circle cx="39.16" cy="314.94" r="0.72" fill="#8fd0ee"/>
<circle cx="37.14" cy="312.74" r="0.66" fill="#8fd0ee"/>
<circle cx="27.14" cy="316.97" r="0.68" fill="#6ab7e6"/>
<circle cx="40.79" cy="315.95" r="0.53" fill="#6ab7e6"/>
<circle cx="38.21" cy="313.29" r="0.68" fill="#7cc4ea"/>
<circle cx="37.16" cy="314.87" r="0.65" fill="#7cc4ea"/>
<circle cx="36.60" cy="312.58" r="0.43" fill="#4aa3d8"/>
<circle cx="30.08" cy="311.92" r="0.64" fill="#7cc4ea"/>
<circle cx="33.84" cy="314.26" r="0.56" fill="#8fd0ee"/>
<circle cx="28.74" cy="314.13" r="0.71" fill="#6ab7e6"/>
<circle cx="40.03" cy="313.80" r="0.50" fill="#8fd0ee"/>
<circle cx="38.20" cy="314.61" r="0.45" fill="#4aa3d8"/>
<circle cx="31.28" cy="316.08" r="0.70" fill="#8fd0ee"/>
<circle cx="36.60" cy="306.17" r="0.67" fill="#7cc4ea"/>
<circle cx="37.49" cy="312.88" r="0.64" fill="#6ab7e6"/>
<circle cx="41.37" cy="315.40" r="0.52" fill="#6ab7e6"/>
<circle cx="34.15" cy="311.74" r="0.51" fill="#8fd0ee"/>
<circle cx="36.84" cy="307.94" r="0.57" fill="#7cc4ea"/>
<circle cx="39.31" cy="316.68" r="0.61" fill="#7cc4ea"/>
<circle cx="40.41" cy="315.04" r="0.45" fill="#4aa3d8"/>
<circle cx="38.80" cy="315.56" r="0.67" fill="#7cc4ea"/>
<circle cx="35.88" cy="311.40" r="0.67" fill="#7cc4ea"/>
<circle cx="34.84" cy="320.61" r="0.46" fill="#8fd0ee"/>
<circle cx="39.26" cy="313.34" r="0.71" fill="#4aa3d8"/>
<circle cx="42.16" cy="315.85" r="0.70" fill="#4aa3d8"/>
<circle cx="39.44" cy="316.40" r="0.41" fill="#4aa3d8"/>
<circle cx="28.63" cy="312.13" r="0.47" fill="#4aa3d8"/>
<circle cx="41.83" cy="315.87" r="0.59" fill="#6ab7e6"/>
<circle cx="36.95" cy="316.69" r="0.59" fill="#7cc4ea"/>
<circle cx="28.84" cy="310.29" r="0.54" fill="#7cc4ea"/>
<circle cx="37.99" cy="315.85" r="0.54" fill="#7cc4ea"/>
<circle cx="39.62" cy="316.22" r="0.41" fill="#8fd0ee"/>
<circle cx="37.13" cy="317.82" r="0.73" fill="#7cc4ea"/>
<circle cx="38.02" cy="312.63" r="0.43" fill="#8fd0ee"/>
<ellipse cx="58.3" cy="309.1" rx="1.2" ry="1.4" fill="#7b7dc6" transform="rotate(29 58.3 309.1)"/>
<ellipse cx="52.7" cy="328.1" rx="2.3" ry="0.9" fill="#7b7dc6" transform="rotate(142 52.7 328.1)"/>
<ellipse cx="49.2" cy="310.5" rx="2.1" ry="0.7" fill="#7b7dc6" transform="rotate(127 49.2 310.5)"/>
<ellipse cx="60.5" cy="326.8" rx="1.6" ry="1.4" fill="#7b7dc6" transform="rotate(46 60.5 326.8)"/>
<ellipse cx="51.7" cy="324.3" rx="1.7" ry="0.9" fill="#7b7dc6" transform="rotate(120 51.7 324.3)"/>
<ellipse cx="57.9" cy="325.3" rx="1.0" ry="0.9" fill="#7b7dc6" transform="rotate(143 57.9 325.3)"/>
<ellipse cx="63.5" cy="311.7" rx="1.7" ry="0.8" fill="#7b7dc6" transform="rotate(54 63.5 311.7)"/>
<ellipse cx="55.1" cy="306.7" rx="1.0" ry="1.1" fill="#7b7dc6" transform="rotate(20 55.1 306.7)"/>
<ellipse cx="64.7" cy="312.2" rx="2.3" ry="0.9" fill="#7b7dc6" transform="rotate(160 64.7 312.2)"/>
<ellipse cx="57.2" cy="307.9" rx="1.1" ry="1.4" fill="#7b7dc6" transform="rotate(14 57.2 307.9)"/>
<ellipse cx="60.5" cy="308.2" rx="1.5" ry="1.2" fill="#7b7dc6" transform="rotate(155 60.5 308.2)"/>
<ellipse cx="47.4" cy="315.8" rx="1.6" ry="1.3" fill="#7b7dc6" transform="rotate(98 47.4 315.8)"/>
<ellipse cx="66.8" cy="318.3" rx="1.0" ry="1.2" fill="#7b7dc6" transform="rotate(91 66.8 318.3)"/>
<ellipse cx="56.2" cy="308.3" rx="1.3" ry="1.1" fill="#7b7dc6" transform="rotate(144 56.2 308.3)"/>
<ellipse cx="52.7" cy="310.3" rx="1.6" ry="1.3" fill="#7b7dc6" transform="rotate(24 52.7 310.3)"/>
<ellipse cx="61.3" cy="325.0" rx="0.9" ry="1.1" fill="#7b7dc6" transform="rotate(90 61.3 325.0)"/>
<ellipse cx="64.8" cy="312.6" rx="1.7" ry="0.7" fill="#7b7dc6" transform="rotate(123 64.8 312.6)"/>
<ellipse cx="62.1" cy="325.9" rx="2.2" ry="1.3" fill="#7b7dc6" transform="rotate(61 62.1 325.9)"/>
<ellipse cx="65.0" cy="323.2" rx="1.1" ry="1.0" fill="#7b7dc6" transform="rotate(121 65.0 323.2)"/>
<ellipse cx="64.2" cy="323.9" rx="1.2" ry="0.9" fill="#7b7dc6" transform="rotate(22 64.2 323.9)"/>
<circle cx="62.48" cy="315.40" r="1.44" fill="#6d70bf"/>
<circle cx="62.42" cy="318.88" r="1.44" fill="#6d70bf"/>
<circle cx="60.71" cy="321.90" r="1.44" fill="#6d70bf"/>
<circle cx="57.77" cy="323.66" r="1.44" fill="#6d70bf"/>
<circle cx="54.42" cy="323.91" r="1.44" fill="#6d70bf"/>
<circle cx="51.20" cy="322.83" r="1.44" fill="#6d70bf"/>
<circle cx="48.92" cy="320.24" r="1.44" fill="#6d70bf"/>
<circle cx="48.01" cy="316.85" r="1.44" fill="#6d70bf"/>
<circle cx="49.14" cy="313.55" r="1.44" fill="#6d70bf"/>
<circle cx="51.26" cy="310.74" r="1.44" fill="#6d70bf"/>
<circle cx="54.69" cy="310.01" r="1.44" fill="#6d70bf"/>
<circle cx="58.13" cy="310.20" r="1.44" fill="#6d70bf"/>
<circle cx="60.71" cy="312.48" r="1.44" fill="#6d70bf"/>
<circle cx="55.40" cy="317.00" r="7.76" fill="#7b7dc6" stroke="#6d70bf" stroke-width="0.5"/>
<circle cx="55.56" cy="317.32" r="4.80" fill="#6d70bf" opacity="0.6"/>
<circle cx="55.56" cy="317.32" r="3.20" fill="#5558b0"/>
<circle cx="61.80" cy="312.00" r="1.50" fill="#fff"/>
<circle cx="49.60" cy="322.40" r="1.30" fill="#fff"/>
<circle cx="61.20" cy="322.30" r="1.30" fill="#fff"/>
<circle cx="49.60" cy="311.20" r="1.00" fill="#fff"/>
<circle cx="55.00" cy="324.60" r="0.90" fill="#fff"/>
<path d="M94.9 313.8L92.7 311.0M96.9 312.7L95.6 309.1M99.0 312.6L99.7 308.8M101.4 313.7L103.2 311.7M102.4 315.0L105.4 313.5M103.0 317.0L105.9 316.8M102.1 320.1L105.2 321.9M100.5 321.5L101.8 324.0M98.9 322.0L99.1 324.6M96.6 321.8L95.3 324.4M94.3 320.0L91.6 321.5M93.5 318.2L90.1 319.0M93.7 315.5L90.6 314.0" fill="none" stroke="#9b6fc3" stroke-width="1.89" stroke-linecap="round"/>
<path d="M94.9 313.8Q92.7 311.0 93.0 307.8M96.9 312.7Q95.6 309.1 92.5 307.7M99.0 312.6Q99.7 308.8 100.9 306.4M101.4 313.7Q103.2 311.7 104.1 310.4M102.4 315.0Q105.4 313.5 107.4 312.9M103.0 317.0Q105.9 316.8 107.4 315.7M102.1 320.1Q105.2 321.9 108.0 321.7M100.5 321.5Q101.8 324.0 102.0 325.6M98.9 322.0Q99.1 324.6 97.7 326.1M96.6 321.8Q95.3 324.4 92.8 324.9M94.3 320.0Q91.6 321.5 89.2 320.5M93.5 318.2Q90.1 319.0 88.3 320.9M93.7 315.5Q90.6 314.0 89.7 311.0" fill="none" stroke="#9b6fc3" stroke-width="1.05" stroke-linecap="round"/>
<circle cx="98.20" cy="317.30" r="6.00" fill="#9b6fc3"/>
<circle cx="98.20" cy="317.30" r="3.91" fill="#7a43a6" opacity="0.4"/>
<circle cx="98.20" cy="317.30" r="2.52" fill="#7a43a6"/>
<path d="M68.4 370.4L65.6 370.9M68.3 368.5L65.1 367.7M69.2 366.3L66.6 364.2M70.9 364.9L69.7 362.0M73.6 364.4L73.7 360.9M75.5 365.1L77.0 362.8M77.4 367.4L80.6 366.3M77.8 369.1L81.3 368.8M77.3 371.3L80.4 372.9M75.8 373.1L77.4 375.3M73.8 373.9L74.1 376.9M71.5 373.8L70.1 377.2M69.7 372.7L67.6 374.9" fill="none" stroke="#9b6fc3" stroke-width="1.89" stroke-linecap="round"/>
<path d="M68.4 370.4Q65.6 370.9 63.9 369.7M68.3 368.5Q65.1 367.7 63.6 365.5M69.2 366.3Q66.6 364.2 65.3 362.5M70.9 364.9Q69.7 362.0 69.8 360.0M73.6 364.4Q73.7 360.9 72.2 358.6M75.5 365.1Q77.0 362.8 77.8 361.5M77.4 367.4Q80.6 366.3 83.0 366.8M77.8 369.1Q81.3 368.8 83.4 366.7M77.3 371.3Q80.4 372.9 81.8 374.9M75.8 373.1Q77.4 375.3 79.1 375.8M73.8 373.9Q74.1 376.9 73.0 378.7M71.5 373.8Q70.1 377.2 67.5 378.8M69.7 372.7Q67.6 374.9 66.3 376.3" fill="none" stroke="#9b6fc3" stroke-width="1.05" stroke-linecap="round"/>
<circle cx="73.00" cy="369.20" r="6.00" fill="#9b6fc3"/>
<circle cx="73.00" cy="369.20" r="3.91" fill="#7a43a6" opacity="0.4"/>
<circle cx="73.00" cy="369.20" r="2.52" fill="#7a43a6"/>
<path d="M80.0 364.0L83.2 361.6L83.6 363.6z" fill="#f0b048" stroke="#e9a13a" stroke-width="0.6"/>
<circle cx="66.90" cy="361.00" r="0.80" fill="#f0b048"/>
</g>
<line x1="46.00" y1="289.00" x2="46.00" y2="301.60" stroke="#333" stroke-width="0.7" stroke-dasharray="0.9 0.9" marker-end="url(#ah2)"/>
<line x1="98.30" y1="292.20" x2="98.30" y2="302.40" stroke="#333" stroke-width="0.7" stroke-dasharray="0.9 0.9" marker-end="url(#ah2)"/>
<line x1="73.10" y1="340.20" x2="73.10" y2="352.20" stroke="#333" stroke-width="0.7" stroke-dasharray="0.9 0.9" marker-end="url(#ah2)"/>
<path d="M46.2 328.8V335.9H99.8V329.5" fill="none" stroke="#444" stroke-width="0.7"/>
<text x="13.50" y="295.30" font-size="7.3">PTDSS1i</text>
<text x="113.00" y="276.30" font-size="7.3">Balb/c</text>
<text x="113.00" y="321.60" font-size="7.3">DC isolation</text>
<text x="81.40" y="351.70" font-size="7.5">Mix <tspan font-style="italic">in vitro</tspan></text>
<text x="87.50" y="374.70" font-size="7.4">DC activation</text>
<text x="87.50" y="381.70" font-size="7.4">marker presentation</text>
</g>
</svg>
</body>
</html>
